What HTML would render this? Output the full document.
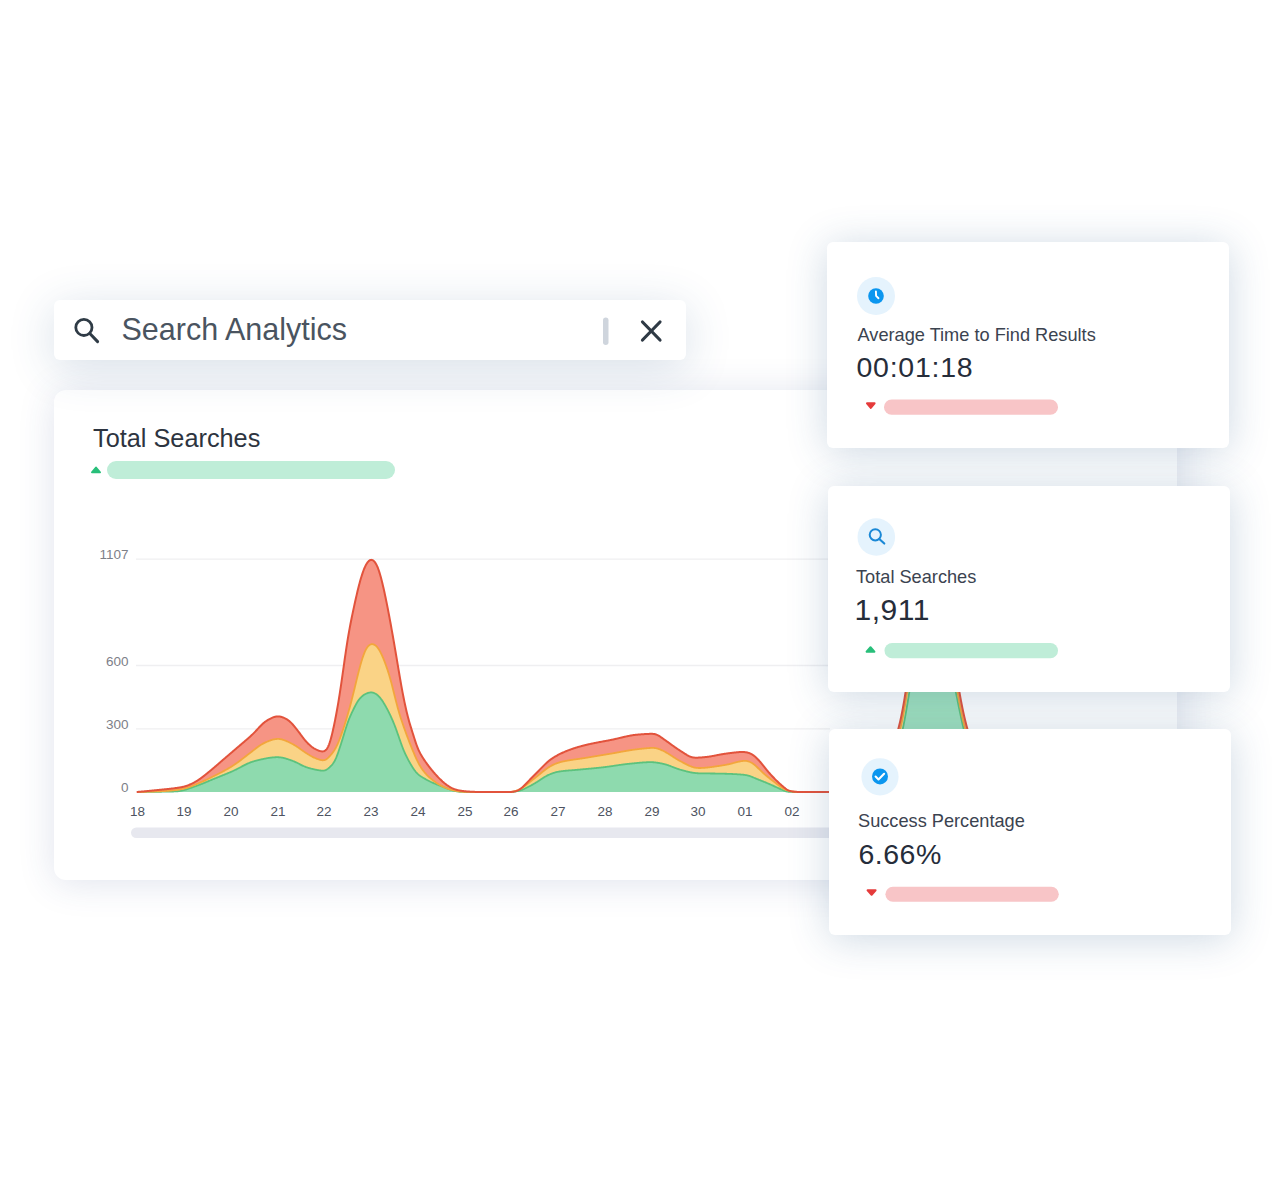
<!DOCTYPE html>
<html><head><meta charset="utf-8">
<style>
html,body{margin:0;padding:0;}
body{width:1280px;height:1180px;background:#ffffff;position:relative;overflow:hidden;font-family:"Liberation Sans",sans-serif;}
.abs{position:absolute;}
.txt{position:absolute;white-space:nowrap;line-height:1;}
.search{left:54px;top:300px;width:632px;height:60px;border-radius:6px;background:#fff;box-shadow:0 8px 46px rgba(40,85,135,0.19);z-index:3;}
.card{left:54px;top:390px;width:1123px;height:490px;border-radius:12px;background:#fff;box-shadow:0 3px 36px rgba(50,70,135,0.15);z-index:1;}
.chart{position:absolute;left:0;top:0;z-index:2;}
.stat{width:402px;height:206px;border-radius:6px;background:#fff;box-shadow:0 4px 40px rgba(40,85,135,0.23);z-index:5;}
.ylab{position:absolute;white-space:nowrap;line-height:1;font-size:13.5px;color:#7d8088;text-align:right;width:60px;}
.xlab{position:absolute;white-space:nowrap;line-height:1;font-size:13.5px;color:#4d5361;text-align:center;width:40px;}
</style></head>
<body>
<div class="abs card"></div>
<div class="abs search">
  <svg class="abs" style="left:0;top:0" width="632" height="60" viewBox="54 300 632 60">
    <circle cx="83.9" cy="327.4" r="8.1" fill="none" stroke="#2f3b46" stroke-width="2.8"/>
    <line x1="89.8" y1="333.5" x2="97.6" y2="341.6" stroke="#2f3b46" stroke-width="3" stroke-linecap="round"/>
    <rect x="603" y="317.5" width="5.5" height="27.5" rx="2.75" fill="#cfd5dd"/>
    <line x1="642.5" y1="322" x2="660" y2="340" stroke="#2f3a45" stroke-width="3.2" stroke-linecap="round"/>
    <line x1="660" y1="322" x2="642.5" y2="340" stroke="#2f3a45" stroke-width="3.2" stroke-linecap="round"/>
  </svg>
  <div class="txt" style="left:67.5px;top:14.4px;font-size:30.5px;color:#4a5460;">Search Analytics</div>
</div>

<svg class="chart" width="1280" height="1180" viewBox="0 0 1280 1180">
<g stroke="#efeff1" stroke-width="1.3">
<line x1="136" y1="559.2" x2="830" y2="559.2"/>
<line x1="136" y1="665.5" x2="830" y2="665.5"/>
<line x1="136" y1="728.8" x2="830" y2="728.8"/>
</g>
<defs><clipPath id="cl"><rect x="0" y="0" width="850" height="1180"/></clipPath><clipPath id="cr"><rect x="850" y="0" width="430" height="1180"/></clipPath>
<path id="ar" d="M137.5,792 L137.5,791.90 L138.0,791.88 L138.5,791.85 L139.0,791.81 L139.5,791.78 L140.0,791.74 L140.5,791.70 L141.0,791.66 L141.5,791.61 L142.0,791.57 L142.5,791.52 L143.0,791.48 L143.5,791.43 L144.0,791.38 L144.5,791.34 L145.0,791.29 L145.5,791.24 L146.0,791.19 L146.5,791.15 L147.0,791.10 L147.5,791.05 L148.0,791.01 L148.5,790.96 L149.0,790.91 L149.5,790.86 L150.0,790.81 L150.5,790.76 L151.0,790.72 L151.5,790.67 L152.0,790.62 L152.5,790.57 L153.0,790.52 L153.5,790.47 L154.0,790.42 L154.5,790.37 L155.0,790.31 L155.5,790.26 L156.0,790.21 L156.5,790.16 L157.0,790.11 L157.5,790.05 L158.0,790.00 L158.5,789.95 L159.0,789.90 L159.5,789.85 L160.0,789.79 L160.5,789.74 L161.0,789.69 L161.5,789.64 L162.0,789.59 L162.5,789.54 L163.0,789.49 L163.5,789.44 L164.0,789.39 L164.5,789.34 L165.0,789.29 L165.5,789.24 L166.0,789.19 L166.5,789.14 L167.0,789.09 L167.5,789.04 L168.0,788.99 L168.5,788.93 L169.0,788.88 L169.5,788.83 L170.0,788.78 L170.5,788.72 L171.0,788.66 L171.5,788.61 L172.0,788.55 L172.5,788.49 L173.0,788.43 L173.5,788.37 L174.0,788.31 L174.5,788.24 L175.0,788.18 L175.5,788.11 L176.0,788.04 L176.5,787.97 L177.0,787.90 L177.5,787.83 L178.0,787.75 L178.5,787.67 L179.0,787.59 L179.5,787.51 L180.0,787.42 L180.5,787.34 L181.0,787.24 L181.5,787.15 L182.0,787.05 L182.5,786.95 L183.0,786.84 L183.5,786.72 L184.0,786.60 L184.5,786.47 L185.0,786.34 L185.5,786.19 L186.0,786.04 L186.5,785.88 L187.0,785.71 L187.5,785.53 L188.0,785.34 L188.5,785.15 L189.0,784.94 L189.5,784.73 L190.0,784.51 L190.5,784.28 L191.0,784.05 L191.5,783.81 L192.0,783.57 L192.5,783.32 L193.0,783.06 L193.5,782.80 L194.0,782.53 L194.5,782.26 L195.0,781.99 L195.5,781.70 L196.0,781.42 L196.5,781.12 L197.0,780.82 L197.5,780.51 L198.0,780.20 L198.5,779.87 L199.0,779.54 L199.5,779.20 L200.0,778.85 L200.5,778.50 L201.0,778.14 L201.5,777.77 L202.0,777.40 L202.5,777.02 L203.0,776.64 L203.5,776.25 L204.0,775.85 L204.5,775.46 L205.0,775.06 L205.5,774.66 L206.0,774.25 L206.5,773.85 L207.0,773.44 L207.5,773.04 L208.0,772.63 L208.5,772.22 L209.0,771.81 L209.5,771.40 L210.0,770.99 L210.5,770.58 L211.0,770.17 L211.5,769.75 L212.0,769.34 L212.5,768.92 L213.0,768.50 L213.5,768.08 L214.0,767.66 L214.5,767.23 L215.0,766.81 L215.5,766.38 L216.0,765.95 L216.5,765.52 L217.0,765.09 L217.5,764.65 L218.0,764.22 L218.5,763.78 L219.0,763.35 L219.5,762.91 L220.0,762.48 L220.5,762.04 L221.0,761.61 L221.5,761.17 L222.0,760.74 L222.5,760.31 L223.0,759.87 L223.5,759.44 L224.0,759.01 L224.5,758.58 L225.0,758.15 L225.5,757.72 L226.0,757.29 L226.5,756.86 L227.0,756.43 L227.5,756.00 L228.0,755.58 L228.5,755.15 L229.0,754.72 L229.5,754.29 L230.0,753.86 L230.5,753.44 L231.0,753.01 L231.5,752.58 L232.0,752.15 L232.5,751.72 L233.0,751.29 L233.5,750.86 L234.0,750.44 L234.5,750.01 L235.0,749.58 L235.5,749.15 L236.0,748.72 L236.5,748.29 L237.0,747.86 L237.5,747.43 L238.0,747.01 L238.5,746.58 L239.0,746.15 L239.5,745.72 L240.0,745.30 L240.5,744.87 L241.0,744.45 L241.5,744.02 L242.0,743.60 L242.5,743.17 L243.0,742.75 L243.5,742.32 L244.0,741.89 L244.5,741.47 L245.0,741.04 L245.5,740.61 L246.0,740.18 L246.5,739.75 L247.0,739.32 L247.5,738.89 L248.0,738.45 L248.5,738.01 L249.0,737.57 L249.5,737.13 L250.0,736.68 L250.5,736.22 L251.0,735.77 L251.5,735.30 L252.0,734.83 L252.5,734.36 L253.0,733.87 L253.5,733.38 L254.0,732.88 L254.5,732.37 L255.0,731.86 L255.5,731.33 L256.0,730.80 L256.5,730.26 L257.0,729.72 L257.5,729.18 L258.0,728.64 L258.5,728.09 L259.0,727.55 L259.5,727.01 L260.0,726.49 L260.5,725.96 L261.0,725.45 L261.5,724.96 L262.0,724.47 L262.5,724.00 L263.0,723.55 L263.5,723.12 L264.0,722.70 L264.5,722.30 L265.0,721.91 L265.5,721.55 L266.0,721.20 L266.5,720.86 L267.0,720.53 L267.5,720.22 L268.0,719.92 L268.5,719.63 L269.0,719.34 L269.5,719.07 L270.0,718.80 L270.5,718.55 L271.0,718.30 L271.5,718.07 L272.0,717.84 L272.5,717.63 L273.0,717.43 L273.5,717.25 L274.0,717.08 L274.5,716.93 L275.0,716.80 L275.5,716.68 L276.0,716.58 L276.5,716.51 L277.0,716.46 L277.5,716.42 L278.0,716.41 L278.5,716.42 L279.0,716.46 L279.5,716.51 L280.0,716.59 L280.5,716.68 L281.0,716.80 L281.5,716.93 L282.0,717.09 L282.5,717.26 L283.0,717.44 L283.5,717.64 L284.0,717.85 L284.5,718.08 L285.0,718.32 L285.5,718.58 L286.0,718.85 L286.5,719.14 L287.0,719.44 L287.5,719.76 L288.0,720.10 L288.5,720.47 L289.0,720.85 L289.5,721.26 L290.0,721.70 L290.5,722.16 L291.0,722.64 L291.5,723.14 L292.0,723.67 L292.5,724.22 L293.0,724.78 L293.5,725.36 L294.0,725.95 L294.5,726.55 L295.0,727.17 L295.5,727.79 L296.0,728.41 L296.5,729.05 L297.0,729.69 L297.5,730.33 L298.0,730.99 L298.5,731.64 L299.0,732.31 L299.5,732.97 L300.0,733.64 L300.5,734.32 L301.0,734.99 L301.5,735.66 L302.0,736.33 L302.5,736.99 L303.0,737.65 L303.5,738.29 L304.0,738.93 L304.5,739.54 L305.0,740.15 L305.5,740.73 L306.0,741.30 L306.5,741.86 L307.0,742.40 L307.5,742.92 L308.0,743.43 L308.5,743.92 L309.0,744.40 L309.5,744.86 L310.0,745.31 L310.5,745.74 L311.0,746.16 L311.5,746.57 L312.0,746.96 L312.5,747.33 L313.0,747.68 L313.5,748.02 L314.0,748.34 L314.5,748.64 L315.0,748.93 L315.5,749.20 L316.0,749.46 L316.5,749.70 L317.0,749.92 L317.5,750.14 L318.0,750.34 L318.5,750.52 L319.0,750.70 L319.5,750.86 L320.0,751.01 L320.5,751.14 L321.0,751.24 L321.5,751.33 L322.0,751.38 L322.5,751.40 L323.0,751.37 L323.5,751.30 L324.0,751.17 L324.5,750.96 L325.0,750.69 L325.5,750.32 L326.0,749.86 L326.5,749.30 L327.0,748.61 L327.5,747.80 L328.0,746.86 L328.5,745.78 L329.0,744.56 L329.5,743.19 L330.0,741.69 L330.5,740.04 L331.0,738.27 L331.5,736.38 L332.0,734.38 L332.5,732.28 L333.0,730.09 L333.5,727.82 L334.0,725.48 L334.5,723.07 L335.0,720.60 L335.5,718.06 L336.0,715.45 L336.5,712.77 L337.0,710.02 L337.5,707.20 L338.0,704.31 L338.5,701.33 L339.0,698.28 L339.5,695.15 L340.0,691.94 L340.5,688.66 L341.0,685.31 L341.5,681.90 L342.0,678.44 L342.5,674.93 L343.0,671.39 L343.5,667.83 L344.0,664.27 L344.5,660.73 L345.0,657.23 L345.5,653.77 L346.0,650.38 L346.5,647.06 L347.0,643.84 L347.5,640.70 L348.0,637.66 L348.5,634.72 L349.0,631.87 L349.5,629.10 L350.0,626.42 L350.5,623.80 L351.0,621.25 L351.5,618.75 L352.0,616.30 L352.5,613.89 L353.0,611.51 L353.5,609.16 L354.0,606.84 L354.5,604.54 L355.0,602.26 L355.5,600.02 L356.0,597.79 L356.5,595.61 L357.0,593.46 L357.5,591.35 L358.0,589.29 L358.5,587.28 L359.0,585.32 L359.5,583.42 L360.0,581.58 L360.5,579.80 L361.0,578.08 L361.5,576.42 L362.0,574.84 L362.5,573.32 L363.0,571.88 L363.5,570.51 L364.0,569.21 L364.5,568.00 L365.0,566.87 L365.5,565.83 L366.0,564.86 L366.5,563.99 L367.0,563.19 L367.5,562.49 L368.0,561.86 L368.5,561.32 L369.0,560.86 L369.5,560.49 L370.0,560.20 L370.5,560.00 L371.0,559.89 L371.5,559.87 L372.0,559.95 L372.5,560.12 L373.0,560.38 L373.5,560.73 L374.0,561.18 L374.5,561.72 L375.0,562.36 L375.5,563.08 L376.0,563.91 L376.5,564.84 L377.0,565.86 L377.5,566.99 L378.0,568.23 L378.5,569.58 L379.0,571.03 L379.5,572.58 L380.0,574.24 L380.5,575.99 L381.0,577.82 L381.5,579.74 L382.0,581.74 L382.5,583.79 L383.0,585.91 L383.5,588.09 L384.0,590.32 L384.5,592.59 L385.0,594.92 L385.5,597.29 L386.0,599.70 L386.5,602.15 L387.0,604.64 L387.5,607.18 L388.0,609.74 L388.5,612.34 L389.0,614.98 L389.5,617.64 L390.0,620.33 L390.5,623.05 L391.0,625.80 L391.5,628.57 L392.0,631.36 L392.5,634.18 L393.0,637.02 L393.5,639.89 L394.0,642.77 L394.5,645.67 L395.0,648.59 L395.5,651.52 L396.0,654.47 L396.5,657.44 L397.0,660.41 L397.5,663.38 L398.0,666.36 L398.5,669.33 L399.0,672.29 L399.5,675.22 L400.0,678.13 L400.5,681.01 L401.0,683.85 L401.5,686.64 L402.0,689.38 L402.5,692.06 L403.0,694.68 L403.5,697.24 L404.0,699.74 L404.5,702.17 L405.0,704.53 L405.5,706.83 L406.0,709.05 L406.5,711.20 L407.0,713.28 L407.5,715.29 L408.0,717.23 L408.5,719.10 L409.0,720.91 L409.5,722.66 L410.0,724.36 L410.5,726.02 L411.0,727.66 L411.5,729.27 L412.0,730.87 L412.5,732.47 L413.0,734.06 L413.5,735.65 L414.0,737.23 L414.5,738.80 L415.0,740.34 L415.5,741.86 L416.0,743.33 L416.5,744.74 L417.0,746.10 L417.5,747.40 L418.0,748.63 L418.5,749.79 L419.0,750.89 L419.5,751.93 L420.0,752.92 L420.5,753.86 L421.0,754.76 L421.5,755.62 L422.0,756.45 L422.5,757.26 L423.0,758.05 L423.5,758.82 L424.0,759.58 L424.5,760.32 L425.0,761.05 L425.5,761.77 L426.0,762.48 L426.5,763.18 L427.0,763.87 L427.5,764.55 L428.0,765.22 L428.5,765.88 L429.0,766.53 L429.5,767.17 L430.0,767.81 L430.5,768.44 L431.0,769.06 L431.5,769.68 L432.0,770.29 L432.5,770.89 L433.0,771.49 L433.5,772.08 L434.0,772.66 L434.5,773.24 L435.0,773.81 L435.5,774.37 L436.0,774.93 L436.5,775.47 L437.0,776.02 L437.5,776.55 L438.0,777.07 L438.5,777.59 L439.0,778.10 L439.5,778.60 L440.0,779.10 L440.5,779.58 L441.0,780.06 L441.5,780.53 L442.0,780.99 L442.5,781.45 L443.0,781.89 L443.5,782.32 L444.0,782.75 L444.5,783.16 L445.0,783.57 L445.5,783.96 L446.0,784.35 L446.5,784.73 L447.0,785.09 L447.5,785.45 L448.0,785.79 L448.5,786.13 L449.0,786.45 L449.5,786.76 L450.0,787.06 L450.5,787.35 L451.0,787.63 L451.5,787.89 L452.0,788.13 L452.5,788.37 L453.0,788.59 L453.5,788.79 L454.0,788.99 L454.5,789.17 L455.0,789.34 L455.5,789.50 L456.0,789.66 L456.5,789.80 L457.0,789.93 L457.5,790.06 L458.0,790.17 L458.5,790.29 L459.0,790.39 L459.5,790.49 L460.0,790.58 L460.5,790.67 L461.0,790.75 L461.5,790.83 L462.0,790.90 L462.5,790.97 L463.0,791.04 L463.5,791.10 L464.0,791.16 L464.5,791.21 L465.0,791.26 L465.5,791.31 L466.0,791.36 L466.5,791.40 L467.0,791.44 L467.5,791.48 L468.0,791.52 L468.5,791.55 L469.0,791.58 L469.5,791.61 L470.0,791.64 L470.5,791.67 L471.0,791.70 L471.5,791.73 L472.0,791.75 L472.5,791.78 L473.0,791.80 L473.5,791.82 L474.0,791.84 L474.5,791.86 L475.0,791.88 L475.5,791.90 L476.0,791.91 L476.5,791.93 L477.0,791.94 L477.5,791.95 L478.0,791.96 L478.5,791.97 L479.0,791.98 L479.5,791.98 L480.0,791.99 L480.5,791.99 L481.0,791.99 L481.5,792.00 L482.0,792.00 L482.5,792.00 L483.0,792.00 L483.5,792.00 L484.0,792.00 L484.5,792.00 L485.0,792.00 L485.5,792.00 L486.0,792.00 L486.5,792.00 L487.0,792.00 L487.5,792.00 L488.0,792.00 L488.5,792.00 L489.0,792.00 L489.5,792.00 L490.0,792.00 L490.5,792.00 L491.0,792.00 L491.5,792.00 L492.0,792.00 L492.5,792.00 L493.0,792.00 L493.5,792.00 L494.0,792.00 L494.5,792.00 L495.0,792.00 L495.5,792.00 L496.0,792.00 L496.5,792.00 L497.0,792.00 L497.5,792.00 L498.0,792.00 L498.5,792.00 L499.0,792.00 L499.5,792.00 L500.0,792.00 L500.5,792.00 L501.0,792.00 L501.5,792.00 L502.0,792.00 L502.5,792.00 L503.0,792.00 L503.5,792.00 L504.0,792.00 L504.5,792.00 L505.0,792.00 L505.5,792.00 L506.0,792.00 L506.5,792.00 L507.0,792.00 L507.5,791.99 L508.0,791.99 L508.5,791.99 L509.0,791.98 L509.5,791.97 L510.0,791.95 L510.5,791.93 L511.0,791.91 L511.5,791.88 L512.0,791.84 L512.5,791.79 L513.0,791.74 L513.5,791.67 L514.0,791.59 L514.5,791.49 L515.0,791.38 L515.5,791.25 L516.0,791.10 L516.5,790.94 L517.0,790.75 L517.5,790.54 L518.0,790.30 L518.5,790.04 L519.0,789.76 L519.5,789.46 L520.0,789.13 L520.5,788.78 L521.0,788.41 L521.5,788.02 L522.0,787.61 L522.5,787.18 L523.0,786.74 L523.5,786.28 L524.0,785.80 L524.5,785.32 L525.0,784.82 L525.5,784.31 L526.0,783.80 L526.5,783.27 L527.0,782.75 L527.5,782.21 L528.0,781.68 L528.5,781.14 L529.0,780.61 L529.5,780.07 L530.0,779.54 L530.5,779.01 L531.0,778.49 L531.5,777.96 L532.0,777.45 L532.5,776.94 L533.0,776.43 L533.5,775.93 L534.0,775.43 L534.5,774.93 L535.0,774.43 L535.5,773.94 L536.0,773.44 L536.5,772.95 L537.0,772.45 L537.5,771.95 L538.0,771.45 L538.5,770.94 L539.0,770.43 L539.5,769.92 L540.0,769.41 L540.5,768.90 L541.0,768.39 L541.5,767.88 L542.0,767.37 L542.5,766.86 L543.0,766.35 L543.5,765.85 L544.0,765.35 L544.5,764.86 L545.0,764.37 L545.5,763.89 L546.0,763.42 L546.5,762.96 L547.0,762.51 L547.5,762.06 L548.0,761.63 L548.5,761.21 L549.0,760.80 L549.5,760.40 L550.0,760.01 L550.5,759.63 L551.0,759.26 L551.5,758.91 L552.0,758.56 L552.5,758.23 L553.0,757.90 L553.5,757.58 L554.0,757.27 L554.5,756.96 L555.0,756.66 L555.5,756.37 L556.0,756.08 L556.5,755.80 L557.0,755.52 L557.5,755.25 L558.0,754.98 L558.5,754.72 L559.0,754.46 L559.5,754.21 L560.0,753.95 L560.5,753.71 L561.0,753.47 L561.5,753.23 L562.0,752.99 L562.5,752.76 L563.0,752.53 L563.5,752.31 L564.0,752.09 L564.5,751.87 L565.0,751.66 L565.5,751.45 L566.0,751.24 L566.5,751.04 L567.0,750.84 L567.5,750.64 L568.0,750.44 L568.5,750.25 L569.0,750.06 L569.5,749.87 L570.0,749.69 L570.5,749.51 L571.0,749.33 L571.5,749.15 L572.0,748.98 L572.5,748.81 L573.0,748.64 L573.5,748.47 L574.0,748.30 L574.5,748.14 L575.0,747.98 L575.5,747.82 L576.0,747.66 L576.5,747.51 L577.0,747.36 L577.5,747.21 L578.0,747.06 L578.5,746.91 L579.0,746.77 L579.5,746.63 L580.0,746.48 L580.5,746.35 L581.0,746.21 L581.5,746.07 L582.0,745.94 L582.5,745.80 L583.0,745.67 L583.5,745.54 L584.0,745.42 L584.5,745.29 L585.0,745.16 L585.5,745.04 L586.0,744.92 L586.5,744.80 L587.0,744.68 L587.5,744.56 L588.0,744.45 L588.5,744.33 L589.0,744.22 L589.5,744.11 L590.0,744.00 L590.5,743.89 L591.0,743.78 L591.5,743.67 L592.0,743.57 L592.5,743.46 L593.0,743.36 L593.5,743.26 L594.0,743.16 L594.5,743.06 L595.0,742.96 L595.5,742.86 L596.0,742.76 L596.5,742.67 L597.0,742.57 L597.5,742.47 L598.0,742.38 L598.5,742.28 L599.0,742.19 L599.5,742.10 L600.0,742.00 L600.5,741.91 L601.0,741.82 L601.5,741.72 L602.0,741.63 L602.5,741.54 L603.0,741.45 L603.5,741.35 L604.0,741.26 L604.5,741.17 L605.0,741.07 L605.5,740.98 L606.0,740.89 L606.5,740.79 L607.0,740.70 L607.5,740.61 L608.0,740.51 L608.5,740.41 L609.0,740.32 L609.5,740.22 L610.0,740.12 L610.5,740.02 L611.0,739.92 L611.5,739.82 L612.0,739.72 L612.5,739.62 L613.0,739.51 L613.5,739.40 L614.0,739.29 L614.5,739.18 L615.0,739.07 L615.5,738.96 L616.0,738.85 L616.5,738.73 L617.0,738.62 L617.5,738.50 L618.0,738.38 L618.5,738.26 L619.0,738.14 L619.5,738.02 L620.0,737.90 L620.5,737.78 L621.0,737.67 L621.5,737.55 L622.0,737.43 L622.5,737.31 L623.0,737.19 L623.5,737.07 L624.0,736.96 L624.5,736.84 L625.0,736.73 L625.5,736.61 L626.0,736.50 L626.5,736.39 L627.0,736.28 L627.5,736.18 L628.0,736.07 L628.5,735.97 L629.0,735.87 L629.5,735.77 L630.0,735.68 L630.5,735.59 L631.0,735.50 L631.5,735.41 L632.0,735.33 L632.5,735.25 L633.0,735.17 L633.5,735.10 L634.0,735.03 L634.5,734.96 L635.0,734.90 L635.5,734.84 L636.0,734.78 L636.5,734.73 L637.0,734.68 L637.5,734.63 L638.0,734.59 L638.5,734.54 L639.0,734.50 L639.5,734.46 L640.0,734.42 L640.5,734.38 L641.0,734.35 L641.5,734.31 L642.0,734.28 L642.5,734.24 L643.0,734.21 L643.5,734.18 L644.0,734.15 L644.5,734.12 L645.0,734.09 L645.5,734.06 L646.0,734.03 L646.5,734.00 L647.0,733.98 L647.5,733.96 L648.0,733.93 L648.5,733.91 L649.0,733.89 L649.5,733.87 L650.0,733.86 L650.5,733.85 L651.0,733.84 L651.5,733.84 L652.0,733.85 L652.5,733.86 L653.0,733.89 L653.5,733.93 L654.0,733.99 L654.5,734.07 L655.0,734.17 L655.5,734.29 L656.0,734.44 L656.5,734.62 L657.0,734.82 L657.5,735.05 L658.0,735.30 L658.5,735.58 L659.0,735.88 L659.5,736.19 L660.0,736.52 L660.5,736.86 L661.0,737.21 L661.5,737.56 L662.0,737.91 L662.5,738.27 L663.0,738.62 L663.5,738.98 L664.0,739.33 L664.5,739.69 L665.0,740.04 L665.5,740.39 L666.0,740.75 L666.5,741.10 L667.0,741.46 L667.5,741.81 L668.0,742.17 L668.5,742.53 L669.0,742.90 L669.5,743.26 L670.0,743.62 L670.5,743.99 L671.0,744.36 L671.5,744.72 L672.0,745.09 L672.5,745.45 L673.0,745.81 L673.5,746.17 L674.0,746.53 L674.5,746.89 L675.0,747.24 L675.5,747.59 L676.0,747.94 L676.5,748.28 L677.0,748.62 L677.5,748.96 L678.0,749.29 L678.5,749.62 L679.0,749.94 L679.5,750.26 L680.0,750.59 L680.5,750.91 L681.0,751.23 L681.5,751.55 L682.0,751.87 L682.5,752.19 L683.0,752.51 L683.5,752.83 L684.0,753.15 L684.5,753.47 L685.0,753.79 L685.5,754.10 L686.0,754.41 L686.5,754.71 L687.0,755.01 L687.5,755.29 L688.0,755.56 L688.5,755.83 L689.0,756.07 L689.5,756.30 L690.0,756.52 L690.5,756.72 L691.0,756.89 L691.5,757.05 L692.0,757.19 L692.5,757.31 L693.0,757.41 L693.5,757.49 L694.0,757.56 L694.5,757.61 L695.0,757.64 L695.5,757.67 L696.0,757.68 L696.5,757.68 L697.0,757.68 L697.5,757.66 L698.0,757.64 L698.5,757.62 L699.0,757.59 L699.5,757.56 L700.0,757.53 L700.5,757.50 L701.0,757.46 L701.5,757.42 L702.0,757.38 L702.5,757.34 L703.0,757.29 L703.5,757.25 L704.0,757.20 L704.5,757.16 L705.0,757.11 L705.5,757.05 L706.0,757.00 L706.5,756.95 L707.0,756.89 L707.5,756.83 L708.0,756.76 L708.5,756.70 L709.0,756.63 L709.5,756.55 L710.0,756.48 L710.5,756.40 L711.0,756.32 L711.5,756.23 L712.0,756.14 L712.5,756.05 L713.0,755.96 L713.5,755.87 L714.0,755.77 L714.5,755.67 L715.0,755.58 L715.5,755.48 L716.0,755.38 L716.5,755.28 L717.0,755.18 L717.5,755.08 L718.0,754.98 L718.5,754.88 L719.0,754.78 L719.5,754.69 L720.0,754.60 L720.5,754.50 L721.0,754.41 L721.5,754.32 L722.0,754.24 L722.5,754.16 L723.0,754.07 L723.5,754.00 L724.0,753.92 L724.5,753.84 L725.0,753.77 L725.5,753.70 L726.0,753.63 L726.5,753.56 L727.0,753.49 L727.5,753.42 L728.0,753.36 L728.5,753.29 L729.0,753.22 L729.5,753.16 L730.0,753.09 L730.5,753.03 L731.0,752.96 L731.5,752.90 L732.0,752.84 L732.5,752.77 L733.0,752.71 L733.5,752.65 L734.0,752.59 L734.5,752.54 L735.0,752.48 L735.5,752.43 L736.0,752.38 L736.5,752.33 L737.0,752.28 L737.5,752.24 L738.0,752.20 L738.5,752.16 L739.0,752.12 L739.5,752.09 L740.0,752.07 L740.5,752.04 L741.0,752.02 L741.5,752.01 L742.0,752.01 L742.5,752.01 L743.0,752.01 L743.5,752.03 L744.0,752.06 L744.5,752.10 L745.0,752.14 L745.5,752.20 L746.0,752.28 L746.5,752.36 L747.0,752.46 L747.5,752.58 L748.0,752.71 L748.5,752.85 L749.0,753.02 L749.5,753.20 L750.0,753.40 L750.5,753.62 L751.0,753.87 L751.5,754.13 L752.0,754.42 L752.5,754.73 L753.0,755.06 L753.5,755.42 L754.0,755.79 L754.5,756.18 L755.0,756.60 L755.5,757.03 L756.0,757.47 L756.5,757.94 L757.0,758.42 L757.5,758.92 L758.0,759.44 L758.5,759.97 L759.0,760.52 L759.5,761.08 L760.0,761.66 L760.5,762.25 L761.0,762.85 L761.5,763.46 L762.0,764.08 L762.5,764.70 L763.0,765.33 L763.5,765.97 L764.0,766.60 L764.5,767.23 L765.0,767.86 L765.5,768.49 L766.0,769.11 L766.5,769.72 L767.0,770.33 L767.5,770.92 L768.0,771.51 L768.5,772.09 L769.0,772.67 L769.5,773.24 L770.0,773.79 L770.5,774.35 L771.0,774.89 L771.5,775.44 L772.0,775.97 L772.5,776.51 L773.0,777.03 L773.5,777.56 L774.0,778.07 L774.5,778.59 L775.0,779.10 L775.5,779.60 L776.0,780.10 L776.5,780.59 L777.0,781.07 L777.5,781.55 L778.0,782.03 L778.5,782.50 L779.0,782.96 L779.5,783.42 L780.0,783.87 L780.5,784.32 L781.0,784.77 L781.5,785.21 L782.0,785.65 L782.5,786.09 L783.0,786.52 L783.5,786.94 L784.0,787.36 L784.5,787.76 L785.0,788.15 L785.5,788.53 L786.0,788.89 L786.5,789.23 L787.0,789.55 L787.5,789.84 L788.0,790.11 L788.5,790.35 L789.0,790.56 L789.5,790.75 L790.0,790.92 L790.5,791.07 L791.0,791.19 L791.5,791.30 L792.0,791.39 L792.5,791.47 L793.0,791.54 L793.5,791.60 L794.0,791.66 L794.5,791.71 L795.0,791.75 L795.5,791.79 L796.0,791.82 L796.5,791.85 L797.0,791.88 L797.5,791.90 L798.0,791.92 L798.5,791.94 L799.0,791.95 L799.5,791.96 L800.0,791.97 L800.5,791.98 L801.0,791.99 L801.5,791.99 L802.0,791.99 L802.5,792.00 L803.0,792.00 L803.5,792.00 L804.0,792.00 L804.5,792.00 L805.0,792.00 L805.5,792.00 L806.0,792.00 L806.5,792.00 L807.0,792.00 L807.5,792.00 L808.0,792.00 L808.5,792.00 L809.0,792.00 L809.5,792.00 L810.0,792.00 L810.5,792.00 L811.0,792.00 L811.5,792.00 L812.0,792.00 L812.5,792.00 L813.0,792.00 L813.5,792.00 L814.0,792.00 L814.5,792.00 L815.0,792.00 L815.5,792.00 L816.0,792.00 L816.5,792.00 L817.0,792.00 L817.5,792.00 L818.0,792.00 L818.5,792.00 L819.0,792.00 L819.5,792.00 L820.0,792.00 L820.5,792.00 L821.0,792.00 L821.5,792.00 L822.0,792.00 L822.5,792.00 L823.0,792.00 L823.5,792.00 L824.0,792.00 L824.5,792.00 L825.0,792.00 L825.5,792.00 L826.0,792.00 L826.5,792.00 L827.0,792.00 L827.5,792.00 L828.0,792.00 L828.5,792.00 L829.0,792.00 L829.5,792.00 L830.0,792.00 L830.5,792.00 L831.0,792.00 L831.5,792.00 L832.0,792.00 L832.5,792.00 L833.0,792.00 L833.5,792.00 L834.0,792.00 L834.5,792.00 L835.0,792.00 L835.5,792.00 L836.0,792.00 L836.5,792.00 L837.0,792.00 L837.5,792.00 L838.0,792.00 L838.5,792.00 L839.0,792.00 L839.5,792.00 L840.0,792.00 L840.5,792.00 L841.0,792.00 L841.5,792.00 L842.0,792.00 L842.5,792.00 L843.0,792.00 L843.5,792.00 L844.0,792.00 L844.5,792.00 L845.0,792.00 L845.5,792.00 L846.0,792.00 L846.5,792.00 L847.0,791.99 L847.5,791.99 L848.0,791.99 L848.5,791.98 L849.0,791.97 L849.5,791.96 L850.0,791.94 L850.5,791.92 L851.0,791.89 L851.5,791.86 L852.0,791.82 L852.5,791.78 L853.0,791.73 L853.5,791.67 L854.0,791.60 L854.5,791.53 L855.0,791.45 L855.5,791.36 L856.0,791.26 L856.5,791.16 L857.0,791.04 L857.5,790.92 L858.0,790.80 L858.5,790.66 L859.0,790.52 L859.5,790.37 L860.0,790.22 L860.5,790.06 L861.0,789.89 L861.5,789.72 L862.0,789.54 L862.5,789.35 L863.0,789.16 L863.5,788.96 L864.0,788.76 L864.5,788.55 L865.0,788.34 L865.5,788.11 L866.0,787.89 L866.5,787.65 L867.0,787.40 L867.5,787.15 L868.0,786.88 L868.5,786.59 L869.0,786.29 L869.5,785.97 L870.0,785.62 L870.5,785.24 L871.0,784.84 L871.5,784.40 L872.0,783.93 L872.5,783.42 L873.0,782.87 L873.5,782.28 L874.0,781.66 L874.5,781.00 L875.0,780.30 L875.5,779.57 L876.0,778.81 L876.5,778.02 L877.0,777.19 L877.5,776.35 L878.0,775.48 L878.5,774.58 L879.0,773.67 L879.5,772.74 L880.0,771.80 L880.5,770.85 L881.0,769.89 L881.5,768.91 L882.0,767.94 L882.5,766.96 L883.0,765.97 L883.5,764.98 L884.0,763.99 L884.5,763.00 L885.0,762.01 L885.5,761.02 L886.0,760.02 L886.5,759.02 L887.0,758.01 L887.5,756.99 L888.0,755.97 L888.5,754.93 L889.0,753.88 L889.5,752.81 L890.0,751.73 L890.5,750.63 L891.0,749.50 L891.5,748.35 L892.0,747.18 L892.5,745.98 L893.0,744.75 L893.5,743.48 L894.0,742.18 L894.5,740.84 L895.0,739.46 L895.5,738.03 L896.0,736.55 L896.5,735.01 L897.0,733.42 L897.5,731.75 L898.0,730.01 L898.5,728.19 L899.0,726.29 L899.5,724.29 L900.0,722.20 L900.5,720.00 L901.0,717.71 L901.5,715.31 L902.0,712.81 L902.5,710.22 L903.0,707.52 L903.5,704.72 L904.0,701.82 L904.5,698.83 L905.0,695.73 L905.5,692.54 L906.0,689.26 L906.5,685.88 L907.0,682.42 L907.5,678.87 L908.0,675.25 L908.5,671.56 L909.0,667.83 L909.5,664.06 L910.0,660.27 L910.5,656.48 L911.0,652.71 L911.5,648.97 L912.0,645.27 L912.5,641.63 L913.0,638.05 L913.5,634.54 L914.0,631.09 L914.5,627.72 L915.0,624.42 L915.5,621.19 L916.0,618.02 L916.5,614.92 L917.0,611.89 L917.5,608.93 L918.0,606.05 L918.5,603.24 L919.0,600.53 L919.5,597.91 L920.0,595.39 L920.5,592.98 L921.0,590.69 L921.5,588.51 L922.0,586.45 L922.5,584.52 L923.0,582.71 L923.5,581.01 L924.0,579.42 L924.5,577.94 L925.0,576.56 L925.5,575.27 L926.0,574.07 L926.5,572.96 L927.0,571.92 L927.5,570.98 L928.0,570.11 L928.5,569.33 L929.0,568.65 L929.5,568.06 L930.0,567.56 L930.5,567.18 L931.0,566.90 L931.5,566.73 L932.0,566.67 L932.5,566.73 L933.0,566.90 L933.5,567.18 L934.0,567.57 L934.5,568.06 L935.0,568.65 L935.5,569.34 L936.0,570.11 L936.5,570.98 L937.0,571.93 L937.5,572.97 L938.0,574.09 L938.5,575.29 L939.0,576.59 L939.5,577.99 L940.0,579.48 L940.5,581.09 L941.0,582.81 L941.5,584.65 L942.0,586.61 L942.5,588.69 L943.0,590.89 L943.5,593.22 L944.0,595.65 L944.5,598.19 L945.0,600.82 L945.5,603.54 L946.0,606.33 L946.5,609.19 L947.0,612.11 L947.5,615.08 L948.0,618.09 L948.5,621.14 L949.0,624.24 L949.5,627.37 L950.0,630.54 L950.5,633.75 L951.0,637.00 L951.5,640.29 L952.0,643.62 L952.5,646.98 L953.0,650.37 L953.5,653.78 L954.0,657.20 L954.5,660.62 L955.0,664.03 L955.5,667.42 L956.0,670.78 L956.5,674.09 L957.0,677.34 L957.5,680.54 L958.0,683.67 L958.5,686.72 L959.0,689.70 L959.5,692.60 L960.0,695.43 L960.5,698.18 L961.0,700.86 L961.5,703.47 L962.0,706.00 L962.5,708.46 L963.0,710.86 L963.5,713.18 L964.0,715.43 L964.5,717.62 L965.0,719.73 L965.5,721.77 L966.0,723.74 L966.5,725.65 L967.0,727.49 L967.5,729.28 L968.0,731.00 L968.5,732.67 L969.0,734.29 L969.5,735.87 L970.0,737.40 L970.5,738.89 L971.0,740.34 L971.5,741.76 L972.0,743.14 L972.5,744.50 L973.0,745.82 L973.5,747.11 L974.0,748.38 L974.5,749.62 L975.0,750.84 L975.5,752.03 L976.0,753.20 L976.5,754.35 L977.0,755.47 L977.5,756.58 L978.0,757.68 L978.5,758.75 L979.0,759.82 L979.5,760.87 L980.0,761.91 L980.5,762.94 L981.0,763.97 L981.5,764.99 L982.0,766.00 L982.5,767.00 L983.0,768.00 L983.5,768.99 L984.0,769.97 L984.5,770.93 L985.0,771.89 L985.5,772.84 L986.0,773.76 L986.5,774.67 L987.0,775.56 L987.5,776.43 L988.0,777.27 L988.5,778.09 L989.0,778.88 L989.5,779.64 L990.0,780.36 L990.5,781.05 L991.0,781.70 L991.5,782.32 L992.0,782.90 L992.5,783.44 L993.0,783.95 L993.5,784.42 L994.0,784.85 L994.5,785.25 L995.0,785.63 L995.5,785.97 L996.0,786.30 L996.5,786.60 L997.0,786.88 L997.5,787.15 L998.0,787.40 L998.5,787.65 L999.0,787.89 L999.5,788.12 L1000.0,788.34 L1000.5,788.55 L1001.0,788.76 L1001.5,788.96 L1002.0,789.16 L1002.5,789.35 L1003.0,789.54 L1003.5,789.72 L1004.0,789.89 L1004.5,790.06 L1005.0,790.22 L1005.5,790.37 L1006.0,790.52 L1006.5,790.66 L1007.0,790.80 L1007.5,790.92 L1008.0,791.04 L1008.5,791.16 L1009.0,791.26 L1009.5,791.36 L1010.0,791.45 L1010.5,791.53 L1011.0,791.60 L1011.5,791.67 L1012.0,791.73 L1012.5,791.78 L1013.0,791.82 L1013.5,791.86 L1014.0,791.89 L1014.5,791.92 L1015.0,791.94 L1015.5,791.96 L1016.0,791.97 L1016.5,791.98 L1017.0,791.99 L1017.5,791.99 L1018.0,791.99 L1018.5,792.00 L1019.0,792.00 L1019.5,792.00 L1020.0,792.00 L1020.5,792.00 L1021.0,792.00 L1021.5,792.00 L1022.0,792.00 L1022.5,792.00 L1023.0,792.00 L1023.5,792.00 L1024.0,792.00 L1024.5,792.00 L1025.0,792.00 L1025.5,792.00 L1026.0,792.00 L1026.5,792.00 L1027.0,792.00 L1027.5,792.00 L1028.0,792.00 L1028.5,792.00 L1029.0,792.00 L1029.5,792.00 L1030.0,792.00 L1030.5,792.00 L1031.0,792.00 L1031.5,792.00 L1032.0,792.00 L1032.5,792.00 L1033.0,792.00 L1033.5,792.00 L1034.0,792.00 L1034.5,792.00 L1035.0,792.00 L1035.5,792.00 L1036.0,792.00 L1036.5,792.00 L1037.0,792.00 L1037.5,792.00 L1038.0,792.00 L1038.5,792.00 L1039.0,792.00 L1039.5,792.00 L1040.0,792.00 L1040.5,792.00 L1041.0,792.00 L1041.5,792.00 L1042.0,792.00 L1042.5,792.00 L1043.0,792.00 L1043.5,792.00 L1044.0,792.00 L1044.5,792.00 L1045.0,792.00 L1045.5,792.00 L1046.0,792.00 L1046.5,792.00 L1047.0,792.00 L1047.5,792.00 L1048.0,792.00 L1048.5,792.00 L1049.0,792.00 L1049.5,792.00 L1050.0,792.00 L1050.5,792.00 L1051.0,792.00 L1051.5,792.00 L1052.0,792.00 L1052.5,792.00 L1053.0,792.00 L1053.5,792.00 L1054.0,792.00 L1054.5,792.00 L1055.0,792.00 L1055.5,792.00 L1056.0,792.00 L1056.5,792.00 L1057.0,792.00 L1057.5,792.00 L1058.0,792.00 L1058.5,792.00 L1059.0,792.00 L1059.5,792.00 L1060.0,792.00 L1060.5,792.00 L1061.0,792.00 L1061.5,792.00 L1062.0,792.00 L1062.5,792.00 L1063.0,792.00 L1063.5,792.00 L1064.0,792.00 L1064.5,792.00 L1065.0,792.00 L1065.5,792.00 L1066.0,792.00 L1066.5,792.00 L1067.0,792.00 L1067.5,792.00 L1068.0,792.00 L1068.5,792.00 L1069.0,792.00 L1069.5,792.00 L1070.0,792.00 L1070.5,792.00 L1071.0,792.00 L1071.5,792.00 L1072.0,792.00 L1072.5,792.00 L1073.0,792.00 L1073.5,792.00 L1074.0,792.00 L1074.5,792.00 L1075.0,792.00 L1075.5,792.00 L1076.0,792.00 L1076.5,792.00 L1077.0,792.00 L1077.5,792.00 L1078.0,792.00 L1078.5,792.00 L1079.0,792.00 L1079.5,792.00 L1080.0,792.00 L1080.5,792.00 L1081.0,792.00 L1081.5,792.00 L1082.0,792.00 L1082.5,792.00 L1083.0,792.00 L1083.5,792.00 L1084.0,792.00 L1084.5,792.00 L1085.0,792.00 L1085.5,792.00 L1086.0,792.00 L1086.5,792.00 L1087.0,792.00 L1087.5,792.00 L1088.0,792.00 L1088.5,792.00 L1089.0,792.00 L1089.5,792.00 L1090.0,792.00 L1090.5,792.00 L1091.0,792.00 L1091.5,792.00 L1092.0,792.00 L1092.5,792.00 L1093.0,792.00 L1093.5,792.00 L1094.0,792.00 L1094.5,792.00 L1095.0,792.00 L1095.5,792.00 L1096.0,792.00 L1096.5,792.00 L1097.0,792.00 L1097.5,792.00 L1098.0,792.00 L1098.5,792.00 L1099.0,792.00 L1099.5,792.00 L1100.0,792.00 L1100.5,792.00 L1101.0,792.00 L1101.5,792.00 L1102.0,792.00 L1102.5,792.00 L1103.0,792.00 L1103.5,792.00 L1104.0,792.00 L1104.5,792.00 L1105.0,792.00 L1105.5,792.00 L1106.0,792.00 L1106.5,792.00 L1107.0,792.00 L1107.5,792.00 L1108.0,792.00 L1108.5,792.00 L1109.0,792.00 L1109.5,792.00 L1110.0,792.00 L1110.5,792.00 L1111.0,792.00 L1111.5,792.00 L1112.0,792.00 L1112.5,792.00 L1113.0,792.00 L1113.5,792.00 L1114.0,792.00 L1114.5,792.00 L1115.0,792.00 L1115.5,792.00 L1116.0,792.00 L1116.5,792.00 L1117.0,792.00 L1117.5,792.00 L1118.0,792.00 L1118.5,792.00 L1119.0,792.00 L1119.5,792.00 L1120.0,792.00 L1120.5,792.00 L1121.0,792.00 L1121.5,792.00 L1122.0,792.00 L1122.5,792.00 L1123.0,792.00 L1123.5,792.00 L1124.0,792.00 L1124.5,792.00 L1125.0,792.00 L1125.5,792.00 L1126.0,792.00 L1126.5,792.00 L1127.0,792.00 L1127.5,792.00 L1128.0,792.00 L1128.5,792.00 L1129.0,792.00 L1129.5,792.00 L1130.0,792.00 L1130.5,792.00 L1131.0,792.00 L1131.5,792.00 L1132.0,792.00 L1132.5,792.00 L1133.0,792.00 L1133.5,792.00 L1134.0,792.00 L1134.5,792.00 L1135.0,792.00 L1135.5,792.00 L1136.0,792.00 L1136.5,792.00 L1137.0,792.00 L1137.5,792.00 L1138.0,792.00 L1138.5,792.00 L1139.0,792.00 L1139.5,792.00 L1140.0,792.00 L1140.5,792.00 L1141.0,792.00 L1141.5,792.00 L1142.0,792.00 L1142.5,792.00 L1143.0,792.00 L1143.5,792.00 L1144.0,792.00 L1144.5,792.00 L1145.0,792.00 L1145.5,792.00 L1146.0,792.00 L1146.5,792.00 L1147.0,792.00 L1147.5,792.00 L1148.0,792.00 L1148.5,792.00 L1149.0,792.00 L1149.5,792.00 L1150.0,792.00 L1150.5,792.00 L1151.0,792.00 L1151.5,792.00 L1152.0,792.00 L1152.5,792.00 L1153.0,792.00 L1153.5,792.00 L1154.0,792.00 L1154.5,792.00 L1155.0,792.00 L1155.5,792.00 L1156.0,792.00 L1156.5,792.00 L1157.0,792.00 L1157.5,792.00 L1158.0,792.00 L1158.5,792.00 L1159.0,792.00 L1159.5,792.00 L1160.0,792.00 L1160.5,792.00 L1161.0,792.00 L1161.5,792.00 L1162.0,792.00 L1162.5,792.00 L1163.0,792.00 L1163.5,792.00 L1164.0,792.00 L1164.5,792.00 L1165.0,792.00 L1165.5,792.00 L1166.0,792.00 L1166.5,792.00 L1167.0,792.00 L1167.5,792.00 L1168.0,792.00 L1168.5,792.00 L1169.0,792.00 L1169.5,792.00 L1170.0,792.00 L1170.5,792.00 L1171.0,792.00 L1171.5,792.00 L1172.0,792.00 L1172.5,792.00 L1173.0,792.00 L1173.5,792.00 L1174.0,792.00 L1174.5,792.00 L1175.0,792.00 L1175.5,792.00 L1176.0,792.00 L1176.5,792.00 L1177.0,792.00 L1177.0,792 Z"/>
<path id="ao" d="M137.5,792 L137.5,791.96 L138.0,791.96 L138.5,791.95 L139.0,791.93 L139.5,791.92 L140.0,791.91 L140.5,791.89 L141.0,791.88 L141.5,791.87 L142.0,791.85 L142.5,791.84 L143.0,791.82 L143.5,791.81 L144.0,791.79 L144.5,791.78 L145.0,791.76 L145.5,791.75 L146.0,791.73 L146.5,791.72 L147.0,791.70 L147.5,791.69 L148.0,791.67 L148.5,791.66 L149.0,791.65 L149.5,791.63 L150.0,791.62 L150.5,791.60 L151.0,791.59 L151.5,791.57 L152.0,791.56 L152.5,791.54 L153.0,791.52 L153.5,791.51 L154.0,791.49 L154.5,791.48 L155.0,791.46 L155.5,791.44 L156.0,791.43 L156.5,791.41 L157.0,791.39 L157.5,791.37 L158.0,791.35 L158.5,791.33 L159.0,791.31 L159.5,791.29 L160.0,791.27 L160.5,791.25 L161.0,791.23 L161.5,791.21 L162.0,791.18 L162.5,791.16 L163.0,791.14 L163.5,791.11 L164.0,791.09 L164.5,791.06 L165.0,791.03 L165.5,791.00 L166.0,790.97 L166.5,790.94 L167.0,790.91 L167.5,790.88 L168.0,790.84 L168.5,790.80 L169.0,790.77 L169.5,790.72 L170.0,790.68 L170.5,790.63 L171.0,790.59 L171.5,790.54 L172.0,790.48 L172.5,790.43 L173.0,790.37 L173.5,790.31 L174.0,790.25 L174.5,790.18 L175.0,790.12 L175.5,790.05 L176.0,789.98 L176.5,789.91 L177.0,789.83 L177.5,789.75 L178.0,789.67 L178.5,789.59 L179.0,789.51 L179.5,789.42 L180.0,789.34 L180.5,789.25 L181.0,789.15 L181.5,789.06 L182.0,788.96 L182.5,788.86 L183.0,788.76 L183.5,788.65 L184.0,788.54 L184.5,788.42 L185.0,788.30 L185.5,788.17 L186.0,788.04 L186.5,787.90 L187.0,787.75 L187.5,787.60 L188.0,787.44 L188.5,787.28 L189.0,787.11 L189.5,786.94 L190.0,786.76 L190.5,786.58 L191.0,786.39 L191.5,786.20 L192.0,786.00 L192.5,785.81 L193.0,785.60 L193.5,785.40 L194.0,785.19 L194.5,784.98 L195.0,784.77 L195.5,784.56 L196.0,784.35 L196.5,784.13 L197.0,783.92 L197.5,783.70 L198.0,783.49 L198.5,783.27 L199.0,783.06 L199.5,782.84 L200.0,782.62 L200.5,782.41 L201.0,782.19 L201.5,781.97 L202.0,781.75 L202.5,781.53 L203.0,781.31 L203.5,781.09 L204.0,780.86 L204.5,780.63 L205.0,780.40 L205.5,780.17 L206.0,779.94 L206.5,779.71 L207.0,779.47 L207.5,779.24 L208.0,779.00 L208.5,778.76 L209.0,778.52 L209.5,778.27 L210.0,778.03 L210.5,777.78 L211.0,777.54 L211.5,777.29 L212.0,777.04 L212.5,776.80 L213.0,776.55 L213.5,776.30 L214.0,776.04 L214.5,775.79 L215.0,775.54 L215.5,775.29 L216.0,775.04 L216.5,774.78 L217.0,774.53 L217.5,774.27 L218.0,774.02 L218.5,773.76 L219.0,773.50 L219.5,773.24 L220.0,772.99 L220.5,772.73 L221.0,772.46 L221.5,772.20 L222.0,771.94 L222.5,771.67 L223.0,771.41 L223.5,771.14 L224.0,770.87 L224.5,770.60 L225.0,770.32 L225.5,770.05 L226.0,769.77 L226.5,769.49 L227.0,769.21 L227.5,768.92 L228.0,768.64 L228.5,768.35 L229.0,768.05 L229.5,767.76 L230.0,767.46 L230.5,767.16 L231.0,766.86 L231.5,766.55 L232.0,766.24 L232.5,765.92 L233.0,765.60 L233.5,765.28 L234.0,764.95 L234.5,764.62 L235.0,764.28 L235.5,763.94 L236.0,763.59 L236.5,763.24 L237.0,762.88 L237.5,762.52 L238.0,762.16 L238.5,761.79 L239.0,761.42 L239.5,761.04 L240.0,760.67 L240.5,760.29 L241.0,759.91 L241.5,759.52 L242.0,759.14 L242.5,758.75 L243.0,758.36 L243.5,757.98 L244.0,757.59 L244.5,757.20 L245.0,756.82 L245.5,756.43 L246.0,756.04 L246.5,755.66 L247.0,755.27 L247.5,754.89 L248.0,754.51 L248.5,754.13 L249.0,753.75 L249.5,753.36 L250.0,752.98 L250.5,752.60 L251.0,752.21 L251.5,751.83 L252.0,751.44 L252.5,751.05 L253.0,750.66 L253.5,750.26 L254.0,749.87 L254.5,749.48 L255.0,749.09 L255.5,748.70 L256.0,748.31 L256.5,747.93 L257.0,747.55 L257.5,747.17 L258.0,746.80 L258.5,746.44 L259.0,746.09 L259.5,745.75 L260.0,745.41 L260.5,745.09 L261.0,744.77 L261.5,744.47 L262.0,744.18 L262.5,743.90 L263.0,743.62 L263.5,743.36 L264.0,743.11 L264.5,742.87 L265.0,742.63 L265.5,742.40 L266.0,742.17 L266.5,741.95 L267.0,741.74 L267.5,741.53 L268.0,741.32 L268.5,741.12 L269.0,740.92 L269.5,740.73 L270.0,740.55 L270.5,740.37 L271.0,740.20 L271.5,740.04 L272.0,739.88 L272.5,739.73 L273.0,739.60 L273.5,739.47 L274.0,739.36 L274.5,739.26 L275.0,739.17 L275.5,739.09 L276.0,739.03 L276.5,738.98 L277.0,738.95 L277.5,738.93 L278.0,738.93 L278.5,738.94 L279.0,738.97 L279.5,739.02 L280.0,739.08 L280.5,739.16 L281.0,739.25 L281.5,739.36 L282.0,739.48 L282.5,739.62 L283.0,739.77 L283.5,739.93 L284.0,740.10 L284.5,740.28 L285.0,740.48 L285.5,740.68 L286.0,740.88 L286.5,741.10 L287.0,741.32 L287.5,741.55 L288.0,741.78 L288.5,742.01 L289.0,742.25 L289.5,742.50 L290.0,742.74 L290.5,742.99 L291.0,743.24 L291.5,743.50 L292.0,743.76 L292.5,744.02 L293.0,744.29 L293.5,744.57 L294.0,744.85 L294.5,745.14 L295.0,745.44 L295.5,745.74 L296.0,746.06 L296.5,746.38 L297.0,746.71 L297.5,747.04 L298.0,747.38 L298.5,747.73 L299.0,748.08 L299.5,748.44 L300.0,748.79 L300.5,749.15 L301.0,749.51 L301.5,749.87 L302.0,750.22 L302.5,750.58 L303.0,750.93 L303.5,751.28 L304.0,751.63 L304.5,751.97 L305.0,752.30 L305.5,752.63 L306.0,752.96 L306.5,753.29 L307.0,753.61 L307.5,753.92 L308.0,754.23 L308.5,754.54 L309.0,754.85 L309.5,755.15 L310.0,755.44 L310.5,755.73 L311.0,756.02 L311.5,756.29 L312.0,756.57 L312.5,756.83 L313.0,757.09 L313.5,757.33 L314.0,757.57 L314.5,757.80 L315.0,758.02 L315.5,758.23 L316.0,758.44 L316.5,758.63 L317.0,758.82 L317.5,759.00 L318.0,759.18 L318.5,759.34 L319.0,759.50 L319.5,759.65 L320.0,759.79 L320.5,759.91 L321.0,760.02 L321.5,760.12 L322.0,760.19 L322.5,760.23 L323.0,760.25 L323.5,760.22 L324.0,760.16 L324.5,760.06 L325.0,759.90 L325.5,759.69 L326.0,759.43 L326.5,759.12 L327.0,758.76 L327.5,758.35 L328.0,757.90 L328.5,757.42 L329.0,756.91 L329.5,756.37 L330.0,755.82 L330.5,755.25 L331.0,754.66 L331.5,754.07 L332.0,753.45 L332.5,752.82 L333.0,752.15 L333.5,751.46 L334.0,750.74 L334.5,749.97 L335.0,749.15 L335.5,748.29 L336.0,747.37 L336.5,746.40 L337.0,745.37 L337.5,744.29 L338.0,743.16 L338.5,741.98 L339.0,740.76 L339.5,739.49 L340.0,738.19 L340.5,736.85 L341.0,735.48 L341.5,734.08 L342.0,732.65 L342.5,731.20 L343.0,729.73 L343.5,728.23 L344.0,726.70 L344.5,725.16 L345.0,723.59 L345.5,721.99 L346.0,720.37 L346.5,718.72 L347.0,717.04 L347.5,715.33 L348.0,713.60 L348.5,711.85 L349.0,710.06 L349.5,708.25 L350.0,706.41 L350.5,704.55 L351.0,702.65 L351.5,700.73 L352.0,698.79 L352.5,696.81 L353.0,694.81 L353.5,692.79 L354.0,690.75 L354.5,688.69 L355.0,686.62 L355.5,684.55 L356.0,682.47 L356.5,680.41 L357.0,678.36 L357.5,676.32 L358.0,674.31 L358.5,672.33 L359.0,670.39 L359.5,668.48 L360.0,666.62 L360.5,664.80 L361.0,663.04 L361.5,661.33 L362.0,659.68 L362.5,658.10 L363.0,656.60 L363.5,655.17 L364.0,653.83 L364.5,652.58 L365.0,651.42 L365.5,650.35 L366.0,649.38 L366.5,648.51 L367.0,647.72 L367.5,647.02 L368.0,646.41 L368.5,645.88 L369.0,645.42 L369.5,645.04 L370.0,644.73 L370.5,644.49 L371.0,644.32 L371.5,644.21 L372.0,644.17 L372.5,644.19 L373.0,644.26 L373.5,644.40 L374.0,644.59 L374.5,644.84 L375.0,645.14 L375.5,645.50 L376.0,645.91 L376.5,646.39 L377.0,646.92 L377.5,647.51 L378.0,648.16 L378.5,648.88 L379.0,649.65 L379.5,650.49 L380.0,651.38 L380.5,652.32 L381.0,653.31 L381.5,654.35 L382.0,655.43 L382.5,656.55 L383.0,657.72 L383.5,658.92 L384.0,660.15 L384.5,661.43 L385.0,662.73 L385.5,664.08 L386.0,665.46 L386.5,666.88 L387.0,668.34 L387.5,669.83 L388.0,671.37 L388.5,672.95 L389.0,674.57 L389.5,676.24 L390.0,677.95 L390.5,679.72 L391.0,681.53 L391.5,683.39 L392.0,685.29 L392.5,687.22 L393.0,689.19 L393.5,691.18 L394.0,693.19 L394.5,695.20 L395.0,697.21 L395.5,699.21 L396.0,701.19 L396.5,703.13 L397.0,705.04 L397.5,706.91 L398.0,708.74 L398.5,710.51 L399.0,712.24 L399.5,713.93 L400.0,715.57 L400.5,717.17 L401.0,718.74 L401.5,720.27 L402.0,721.78 L402.5,723.26 L403.0,724.72 L403.5,726.16 L404.0,727.59 L404.5,729.00 L405.0,730.39 L405.5,731.77 L406.0,733.14 L406.5,734.49 L407.0,735.83 L407.5,737.16 L408.0,738.48 L408.5,739.78 L409.0,741.08 L409.5,742.36 L410.0,743.63 L410.5,744.89 L411.0,746.14 L411.5,747.38 L412.0,748.62 L412.5,749.84 L413.0,751.05 L413.5,752.26 L414.0,753.45 L414.5,754.62 L415.0,755.77 L415.5,756.91 L416.0,758.02 L416.5,759.10 L417.0,760.16 L417.5,761.18 L418.0,762.17 L418.5,763.13 L419.0,764.06 L419.5,764.95 L420.0,765.81 L420.5,766.64 L421.0,767.44 L421.5,768.21 L422.0,768.95 L422.5,769.67 L423.0,770.36 L423.5,771.02 L424.0,771.67 L424.5,772.29 L425.0,772.88 L425.5,773.46 L426.0,774.02 L426.5,774.56 L427.0,775.08 L427.5,775.58 L428.0,776.07 L428.5,776.55 L429.0,777.01 L429.5,777.46 L430.0,777.90 L430.5,778.33 L431.0,778.75 L431.5,779.16 L432.0,779.56 L432.5,779.96 L433.0,780.35 L433.5,780.73 L434.0,781.11 L434.5,781.48 L435.0,781.84 L435.5,782.20 L436.0,782.55 L436.5,782.89 L437.0,783.22 L437.5,783.55 L438.0,783.87 L438.5,784.18 L439.0,784.48 L439.5,784.78 L440.0,785.07 L440.5,785.35 L441.0,785.63 L441.5,785.90 L442.0,786.16 L442.5,786.41 L443.0,786.66 L443.5,786.90 L444.0,787.13 L444.5,787.36 L445.0,787.57 L445.5,787.78 L446.0,787.99 L446.5,788.18 L447.0,788.37 L447.5,788.55 L448.0,788.73 L448.5,788.90 L449.0,789.06 L449.5,789.22 L450.0,789.37 L450.5,789.52 L451.0,789.66 L451.5,789.80 L452.0,789.93 L452.5,790.06 L453.0,790.19 L453.5,790.31 L454.0,790.43 L454.5,790.55 L455.0,790.66 L455.5,790.77 L456.0,790.87 L456.5,790.98 L457.0,791.07 L457.5,791.16 L458.0,791.25 L458.5,791.33 L459.0,791.41 L459.5,791.48 L460.0,791.54 L460.5,791.59 L461.0,791.64 L461.5,791.68 L462.0,791.72 L462.5,791.75 L463.0,791.78 L463.5,791.80 L464.0,791.82 L464.5,791.84 L465.0,791.85 L465.5,791.86 L466.0,791.87 L466.5,791.88 L467.0,791.89 L467.5,791.90 L468.0,791.91 L468.5,791.92 L469.0,791.92 L469.5,791.93 L470.0,791.94 L470.5,791.94 L471.0,791.95 L471.5,791.95 L472.0,791.96 L472.5,791.96 L473.0,791.97 L473.5,791.97 L474.0,791.98 L474.5,791.98 L475.0,791.98 L475.5,791.98 L476.0,791.99 L476.5,791.99 L477.0,791.99 L477.5,791.99 L478.0,791.99 L478.5,792.00 L479.0,792.00 L479.5,792.00 L480.0,792.00 L480.5,792.00 L481.0,792.00 L481.5,792.00 L482.0,792.00 L482.5,792.00 L483.0,792.00 L483.5,792.00 L484.0,792.00 L484.5,792.00 L485.0,792.00 L485.5,792.00 L486.0,792.00 L486.5,792.00 L487.0,792.00 L487.5,792.00 L488.0,792.00 L488.5,792.00 L489.0,792.00 L489.5,792.00 L490.0,792.00 L490.5,792.00 L491.0,792.00 L491.5,792.00 L492.0,792.00 L492.5,792.00 L493.0,792.00 L493.5,792.00 L494.0,792.00 L494.5,792.00 L495.0,792.00 L495.5,792.00 L496.0,792.00 L496.5,792.00 L497.0,792.00 L497.5,792.00 L498.0,792.00 L498.5,792.00 L499.0,792.00 L499.5,792.00 L500.0,792.00 L500.5,792.00 L501.0,792.00 L501.5,792.00 L502.0,792.00 L502.5,792.00 L503.0,792.00 L503.5,792.00 L504.0,792.00 L504.5,792.00 L505.0,792.00 L505.5,792.00 L506.0,792.00 L506.5,792.00 L507.0,791.99 L507.5,791.99 L508.0,791.98 L508.5,791.97 L509.0,791.96 L509.5,791.94 L510.0,791.92 L510.5,791.88 L511.0,791.84 L511.5,791.79 L512.0,791.73 L512.5,791.66 L513.0,791.57 L513.5,791.47 L514.0,791.36 L514.5,791.24 L515.0,791.10 L515.5,790.95 L516.0,790.79 L516.5,790.62 L517.0,790.43 L517.5,790.24 L518.0,790.03 L518.5,789.81 L519.0,789.58 L519.5,789.33 L520.0,789.07 L520.5,788.80 L521.0,788.51 L521.5,788.22 L522.0,787.90 L522.5,787.58 L523.0,787.25 L523.5,786.91 L524.0,786.55 L524.5,786.19 L525.0,785.82 L525.5,785.45 L526.0,785.06 L526.5,784.67 L527.0,784.28 L527.5,783.89 L528.0,783.49 L528.5,783.09 L529.0,782.68 L529.5,782.28 L530.0,781.88 L530.5,781.48 L531.0,781.08 L531.5,780.68 L532.0,780.28 L532.5,779.89 L533.0,779.50 L533.5,779.10 L534.0,778.71 L534.5,778.32 L535.0,777.93 L535.5,777.54 L536.0,777.15 L536.5,776.76 L537.0,776.36 L537.5,775.96 L538.0,775.56 L538.5,775.16 L539.0,774.76 L539.5,774.35 L540.0,773.94 L540.5,773.54 L541.0,773.13 L541.5,772.72 L542.0,772.31 L542.5,771.91 L543.0,771.51 L543.5,771.11 L544.0,770.72 L544.5,770.33 L545.0,769.94 L545.5,769.56 L546.0,769.19 L546.5,768.83 L547.0,768.47 L547.5,768.12 L548.0,767.78 L548.5,767.45 L549.0,767.13 L549.5,766.82 L550.0,766.52 L550.5,766.23 L551.0,765.95 L551.5,765.67 L552.0,765.41 L552.5,765.15 L553.0,764.91 L553.5,764.67 L554.0,764.44 L554.5,764.21 L555.0,764.00 L555.5,763.79 L556.0,763.59 L556.5,763.39 L557.0,763.21 L557.5,763.03 L558.0,762.86 L558.5,762.69 L559.0,762.53 L559.5,762.38 L560.0,762.24 L560.5,762.10 L561.0,761.97 L561.5,761.84 L562.0,761.72 L562.5,761.60 L563.0,761.49 L563.5,761.38 L564.0,761.27 L564.5,761.16 L565.0,761.06 L565.5,760.96 L566.0,760.87 L566.5,760.77 L567.0,760.68 L567.5,760.59 L568.0,760.50 L568.5,760.42 L569.0,760.33 L569.5,760.25 L570.0,760.17 L570.5,760.09 L571.0,760.01 L571.5,759.93 L572.0,759.85 L572.5,759.78 L573.0,759.70 L573.5,759.63 L574.0,759.56 L574.5,759.48 L575.0,759.41 L575.5,759.34 L576.0,759.27 L576.5,759.20 L577.0,759.13 L577.5,759.06 L578.0,758.99 L578.5,758.92 L579.0,758.85 L579.5,758.78 L580.0,758.70 L580.5,758.63 L581.0,758.56 L581.5,758.49 L582.0,758.41 L582.5,758.34 L583.0,758.26 L583.5,758.19 L584.0,758.11 L584.5,758.03 L585.0,757.95 L585.5,757.87 L586.0,757.79 L586.5,757.71 L587.0,757.63 L587.5,757.55 L588.0,757.46 L588.5,757.38 L589.0,757.30 L589.5,757.21 L590.0,757.13 L590.5,757.05 L591.0,756.96 L591.5,756.88 L592.0,756.80 L592.5,756.71 L593.0,756.63 L593.5,756.55 L594.0,756.46 L594.5,756.38 L595.0,756.29 L595.5,756.21 L596.0,756.13 L596.5,756.04 L597.0,755.96 L597.5,755.88 L598.0,755.79 L598.5,755.71 L599.0,755.62 L599.5,755.54 L600.0,755.46 L600.5,755.37 L601.0,755.29 L601.5,755.21 L602.0,755.12 L602.5,755.04 L603.0,754.96 L603.5,754.87 L604.0,754.79 L604.5,754.70 L605.0,754.62 L605.5,754.54 L606.0,754.45 L606.5,754.37 L607.0,754.29 L607.5,754.20 L608.0,754.12 L608.5,754.03 L609.0,753.95 L609.5,753.87 L610.0,753.78 L610.5,753.70 L611.0,753.61 L611.5,753.53 L612.0,753.44 L612.5,753.36 L613.0,753.27 L613.5,753.18 L614.0,753.10 L614.5,753.01 L615.0,752.92 L615.5,752.83 L616.0,752.74 L616.5,752.65 L617.0,752.56 L617.5,752.47 L618.0,752.38 L618.5,752.28 L619.0,752.19 L619.5,752.10 L620.0,752.01 L620.5,751.91 L621.0,751.82 L621.5,751.73 L622.0,751.64 L622.5,751.55 L623.0,751.45 L623.5,751.36 L624.0,751.27 L624.5,751.18 L625.0,751.09 L625.5,751.00 L626.0,750.91 L626.5,750.83 L627.0,750.74 L627.5,750.65 L628.0,750.57 L628.5,750.49 L629.0,750.40 L629.5,750.32 L630.0,750.24 L630.5,750.16 L631.0,750.08 L631.5,750.01 L632.0,749.93 L632.5,749.86 L633.0,749.79 L633.5,749.72 L634.0,749.65 L634.5,749.58 L635.0,749.52 L635.5,749.45 L636.0,749.39 L636.5,749.33 L637.0,749.27 L637.5,749.21 L638.0,749.15 L638.5,749.09 L639.0,749.04 L639.5,748.98 L640.0,748.93 L640.5,748.87 L641.0,748.81 L641.5,748.76 L642.0,748.71 L642.5,748.65 L643.0,748.60 L643.5,748.55 L644.0,748.49 L644.5,748.44 L645.0,748.39 L645.5,748.35 L646.0,748.30 L646.5,748.25 L647.0,748.21 L647.5,748.17 L648.0,748.13 L648.5,748.09 L649.0,748.06 L649.5,748.02 L650.0,747.99 L650.5,747.97 L651.0,747.95 L651.5,747.93 L652.0,747.92 L652.5,747.92 L653.0,747.92 L653.5,747.94 L654.0,747.96 L654.5,748.00 L655.0,748.05 L655.5,748.12 L656.0,748.20 L656.5,748.30 L657.0,748.42 L657.5,748.55 L658.0,748.70 L658.5,748.87 L659.0,749.04 L659.5,749.23 L660.0,749.44 L660.5,749.65 L661.0,749.86 L661.5,750.09 L662.0,750.32 L662.5,750.56 L663.0,750.80 L663.5,751.05 L664.0,751.30 L664.5,751.56 L665.0,751.82 L665.5,752.09 L666.0,752.36 L666.5,752.65 L667.0,752.94 L667.5,753.23 L668.0,753.53 L668.5,753.84 L669.0,754.15 L669.5,754.46 L670.0,754.78 L670.5,755.11 L671.0,755.43 L671.5,755.76 L672.0,756.09 L672.5,756.42 L673.0,756.75 L673.5,757.08 L674.0,757.40 L674.5,757.73 L675.0,758.05 L675.5,758.36 L676.0,758.68 L676.5,758.98 L677.0,759.29 L677.5,759.58 L678.0,759.88 L678.5,760.16 L679.0,760.44 L679.5,760.72 L680.0,760.99 L680.5,761.26 L681.0,761.53 L681.5,761.79 L682.0,762.06 L682.5,762.32 L683.0,762.58 L683.5,762.84 L684.0,763.10 L684.5,763.36 L685.0,763.62 L685.5,763.87 L686.0,764.13 L686.5,764.38 L687.0,764.63 L687.5,764.88 L688.0,765.12 L688.5,765.36 L689.0,765.59 L689.5,765.82 L690.0,766.03 L690.5,766.24 L691.0,766.44 L691.5,766.63 L692.0,766.81 L692.5,766.97 L693.0,767.13 L693.5,767.27 L694.0,767.40 L694.5,767.52 L695.0,767.62 L695.5,767.71 L696.0,767.79 L696.5,767.85 L697.0,767.90 L697.5,767.94 L698.0,767.97 L698.5,767.99 L699.0,768.00 L699.5,768.01 L700.0,768.00 L700.5,767.99 L701.0,767.98 L701.5,767.96 L702.0,767.94 L702.5,767.91 L703.0,767.88 L703.5,767.85 L704.0,767.81 L704.5,767.78 L705.0,767.73 L705.5,767.69 L706.0,767.65 L706.5,767.60 L707.0,767.55 L707.5,767.50 L708.0,767.44 L708.5,767.39 L709.0,767.33 L709.5,767.27 L710.0,767.21 L710.5,767.15 L711.0,767.08 L711.5,767.02 L712.0,766.95 L712.5,766.88 L713.0,766.82 L713.5,766.75 L714.0,766.67 L714.5,766.60 L715.0,766.53 L715.5,766.46 L716.0,766.38 L716.5,766.31 L717.0,766.23 L717.5,766.15 L718.0,766.08 L718.5,766.00 L719.0,765.92 L719.5,765.85 L720.0,765.77 L720.5,765.69 L721.0,765.61 L721.5,765.53 L722.0,765.46 L722.5,765.38 L723.0,765.30 L723.5,765.22 L724.0,765.13 L724.5,765.05 L725.0,764.96 L725.5,764.87 L726.0,764.78 L726.5,764.68 L727.0,764.58 L727.5,764.48 L728.0,764.37 L728.5,764.26 L729.0,764.15 L729.5,764.03 L730.0,763.91 L730.5,763.78 L731.0,763.66 L731.5,763.53 L732.0,763.40 L732.5,763.26 L733.0,763.13 L733.5,763.00 L734.0,762.86 L734.5,762.73 L735.0,762.59 L735.5,762.46 L736.0,762.33 L736.5,762.20 L737.0,762.08 L737.5,761.95 L738.0,761.83 L738.5,761.72 L739.0,761.61 L739.5,761.50 L740.0,761.40 L740.5,761.30 L741.0,761.21 L741.5,761.13 L742.0,761.06 L742.5,760.99 L743.0,760.94 L743.5,760.90 L744.0,760.86 L744.5,760.85 L745.0,760.85 L745.5,760.86 L746.0,760.90 L746.5,760.95 L747.0,761.03 L747.5,761.13 L748.0,761.26 L748.5,761.40 L749.0,761.57 L749.5,761.76 L750.0,761.98 L750.5,762.21 L751.0,762.47 L751.5,762.74 L752.0,763.04 L752.5,763.35 L753.0,763.68 L753.5,764.04 L754.0,764.41 L754.5,764.80 L755.0,765.22 L755.5,765.64 L756.0,766.09 L756.5,766.55 L757.0,767.02 L757.5,767.50 L758.0,767.99 L758.5,768.49 L759.0,768.98 L759.5,769.48 L760.0,769.97 L760.5,770.47 L761.0,770.95 L761.5,771.43 L762.0,771.90 L762.5,772.37 L763.0,772.83 L763.5,773.28 L764.0,773.72 L764.5,774.16 L765.0,774.59 L765.5,775.02 L766.0,775.44 L766.5,775.86 L767.0,776.27 L767.5,776.68 L768.0,777.09 L768.5,777.50 L769.0,777.90 L769.5,778.29 L770.0,778.69 L770.5,779.08 L771.0,779.47 L771.5,779.86 L772.0,780.24 L772.5,780.63 L773.0,781.01 L773.5,781.39 L774.0,781.77 L774.5,782.14 L775.0,782.52 L775.5,782.90 L776.0,783.28 L776.5,783.66 L777.0,784.04 L777.5,784.42 L778.0,784.80 L778.5,785.18 L779.0,785.56 L779.5,785.94 L780.0,786.30 L780.5,786.67 L781.0,787.02 L781.5,787.37 L782.0,787.71 L782.5,788.03 L783.0,788.34 L783.5,788.64 L784.0,788.92 L784.5,789.18 L785.0,789.43 L785.5,789.66 L786.0,789.87 L786.5,790.06 L787.0,790.24 L787.5,790.41 L788.0,790.56 L788.5,790.69 L789.0,790.82 L789.5,790.94 L790.0,791.04 L790.5,791.14 L791.0,791.24 L791.5,791.32 L792.0,791.41 L792.5,791.48 L793.0,791.55 L793.5,791.61 L794.0,791.67 L794.5,791.73 L795.0,791.77 L795.5,791.82 L796.0,791.85 L796.5,791.88 L797.0,791.91 L797.5,791.93 L798.0,791.95 L798.5,791.96 L799.0,791.97 L799.5,791.98 L800.0,791.99 L800.5,791.99 L801.0,791.99 L801.5,792.00 L802.0,792.00 L802.5,792.00 L803.0,792.00 L803.5,792.00 L804.0,792.00 L804.5,792.00 L805.0,792.00 L805.5,792.00 L806.0,792.00 L806.5,792.00 L807.0,792.00 L807.5,792.00 L808.0,792.00 L808.5,792.00 L809.0,792.00 L809.5,792.00 L810.0,792.00 L810.5,792.00 L811.0,792.00 L811.5,792.00 L812.0,792.00 L812.5,792.00 L813.0,792.00 L813.5,792.00 L814.0,792.00 L814.5,792.00 L815.0,792.00 L815.5,792.00 L816.0,792.00 L816.5,792.00 L817.0,792.00 L817.5,792.00 L818.0,792.00 L818.5,792.00 L819.0,792.00 L819.5,792.00 L820.0,792.00 L820.5,792.00 L821.0,792.00 L821.5,792.00 L822.0,792.00 L822.5,792.00 L823.0,792.00 L823.5,792.00 L824.0,792.00 L824.5,792.00 L825.0,792.00 L825.5,792.00 L826.0,792.00 L826.5,792.00 L827.0,792.00 L827.5,792.00 L828.0,792.00 L828.5,792.00 L829.0,792.00 L829.5,792.00 L830.0,792.00 L830.5,792.00 L831.0,792.00 L831.5,792.00 L832.0,792.00 L832.5,792.00 L833.0,792.00 L833.5,792.00 L834.0,792.00 L834.5,792.00 L835.0,792.00 L835.5,792.00 L836.0,792.00 L836.5,792.00 L837.0,792.00 L837.5,792.00 L838.0,792.00 L838.5,792.00 L839.0,792.00 L839.5,792.00 L840.0,792.00 L840.5,792.00 L841.0,792.00 L841.5,792.00 L842.0,792.00 L842.5,792.00 L843.0,792.00 L843.5,792.00 L844.0,792.00 L844.5,792.00 L845.0,792.00 L845.5,792.00 L846.0,792.00 L846.5,792.00 L847.0,792.00 L847.5,792.00 L848.0,791.99 L848.5,791.99 L849.0,791.98 L849.5,791.98 L850.0,791.97 L850.5,791.96 L851.0,791.95 L851.5,791.93 L852.0,791.91 L852.5,791.89 L853.0,791.86 L853.5,791.83 L854.0,791.80 L854.5,791.76 L855.0,791.72 L855.5,791.67 L856.0,791.62 L856.5,791.56 L857.0,791.50 L857.5,791.44 L858.0,791.37 L858.5,791.30 L859.0,791.23 L859.5,791.15 L860.0,791.06 L860.5,790.98 L861.0,790.88 L861.5,790.79 L862.0,790.69 L862.5,790.59 L863.0,790.48 L863.5,790.37 L864.0,790.26 L864.5,790.14 L865.0,790.02 L865.5,789.89 L866.0,789.76 L866.5,789.63 L867.0,789.49 L867.5,789.35 L868.0,789.20 L868.5,789.05 L869.0,788.89 L869.5,788.72 L870.0,788.53 L870.5,788.33 L871.0,788.12 L871.5,787.88 L872.0,787.62 L872.5,787.34 L873.0,787.02 L873.5,786.67 L874.0,786.29 L874.5,785.87 L875.0,785.41 L875.5,784.91 L876.0,784.37 L876.5,783.80 L877.0,783.19 L877.5,782.54 L878.0,781.85 L878.5,781.14 L879.0,780.39 L879.5,779.62 L880.0,778.82 L880.5,777.99 L881.0,777.15 L881.5,776.28 L882.0,775.40 L882.5,774.49 L883.0,773.58 L883.5,772.65 L884.0,771.71 L884.5,770.76 L885.0,769.80 L885.5,768.83 L886.0,767.85 L886.5,766.86 L887.0,765.85 L887.5,764.83 L888.0,763.80 L888.5,762.75 L889.0,761.68 L889.5,760.59 L890.0,759.48 L890.5,758.34 L891.0,757.18 L891.5,755.98 L892.0,754.76 L892.5,753.51 L893.0,752.23 L893.5,750.92 L894.0,749.57 L894.5,748.18 L895.0,746.76 L895.5,745.30 L896.0,743.81 L896.5,742.26 L897.0,740.67 L897.5,739.04 L898.0,737.34 L898.5,735.59 L899.0,733.78 L899.5,731.89 L900.0,729.93 L900.5,727.88 L901.0,725.75 L901.5,723.52 L902.0,721.20 L902.5,718.78 L903.0,716.26 L903.5,713.65 L904.0,710.95 L904.5,708.16 L905.0,705.30 L905.5,702.35 L906.0,699.33 L906.5,696.25 L907.0,693.10 L907.5,689.90 L908.0,686.64 L908.5,683.34 L909.0,680.00 L909.5,676.63 L910.0,673.24 L910.5,669.85 L911.0,666.47 L911.5,663.12 L912.0,659.81 L912.5,656.54 L913.0,653.35 L913.5,650.23 L914.0,647.19 L914.5,644.24 L915.0,641.38 L915.5,638.61 L916.0,635.92 L916.5,633.31 L917.0,630.79 L917.5,628.34 L918.0,625.97 L918.5,623.67 L919.0,621.44 L919.5,619.29 L920.0,617.21 L920.5,615.21 L921.0,613.29 L921.5,611.45 L922.0,609.70 L922.5,608.03 L923.0,606.45 L923.5,604.95 L924.0,603.53 L924.5,602.20 L925.0,600.94 L925.5,599.76 L926.0,598.65 L926.5,597.62 L927.0,596.66 L927.5,595.77 L928.0,594.95 L928.5,594.22 L929.0,593.56 L929.5,593.00 L930.0,592.53 L930.5,592.15 L931.0,591.88 L931.5,591.72 L932.0,591.67 L932.5,591.72 L933.0,591.88 L933.5,592.15 L934.0,592.53 L934.5,593.00 L935.0,593.57 L935.5,594.22 L936.0,594.96 L936.5,595.77 L937.0,596.67 L937.5,597.63 L938.0,598.67 L938.5,599.79 L939.0,600.97 L939.5,602.24 L940.0,603.59 L940.5,605.01 L941.0,606.53 L941.5,608.12 L942.0,609.81 L942.5,611.57 L943.0,613.42 L943.5,615.35 L944.0,617.36 L944.5,619.44 L945.0,621.59 L945.5,623.80 L946.0,626.08 L946.5,628.42 L947.0,630.82 L947.5,633.29 L948.0,635.82 L948.5,638.41 L949.0,641.08 L949.5,643.82 L950.0,646.62 L950.5,649.50 L951.0,652.44 L951.5,655.45 L952.0,658.50 L952.5,661.60 L953.0,664.72 L953.5,667.87 L954.0,671.02 L954.5,674.15 L955.0,677.27 L955.5,680.35 L956.0,683.39 L956.5,686.38 L957.0,689.31 L957.5,692.19 L958.0,695.00 L958.5,697.76 L959.0,700.45 L959.5,703.08 L960.0,705.65 L960.5,708.16 L961.0,710.61 L961.5,713.00 L962.0,715.32 L962.5,717.59 L963.0,719.79 L963.5,721.93 L964.0,724.01 L964.5,726.03 L965.0,727.99 L965.5,729.90 L966.0,731.76 L966.5,733.58 L967.0,735.34 L967.5,737.07 L968.0,738.75 L968.5,740.40 L969.0,742.02 L969.5,743.60 L970.0,745.14 L970.5,746.66 L971.0,748.14 L971.5,749.59 L972.0,751.01 L972.5,752.40 L973.0,753.76 L973.5,755.09 L974.0,756.39 L974.5,757.65 L975.0,758.89 L975.5,760.10 L976.0,761.29 L976.5,762.45 L977.0,763.59 L977.5,764.71 L978.0,765.80 L978.5,766.89 L979.0,767.95 L979.5,769.00 L980.0,770.04 L980.5,771.07 L981.0,772.08 L981.5,773.08 L982.0,774.07 L982.5,775.04 L983.0,775.99 L983.5,776.93 L984.0,777.84 L984.5,778.72 L985.0,779.58 L985.5,780.41 L986.0,781.20 L986.5,781.96 L987.0,782.68 L987.5,783.36 L988.0,784.00 L988.5,784.60 L989.0,785.15 L989.5,785.66 L990.0,786.12 L990.5,786.54 L991.0,786.91 L991.5,787.25 L992.0,787.56 L992.5,787.83 L993.0,788.08 L993.5,788.30 L994.0,788.50 L994.5,788.69 L995.0,788.86 L995.5,789.02 L996.0,789.18 L996.5,789.32 L997.0,789.46 L997.5,789.60 L998.0,789.73 L998.5,789.85 L999.0,789.97 L999.5,790.09 L1000.0,790.21 L1000.5,790.32 L1001.0,790.43 L1001.5,790.53 L1002.0,790.63 L1002.5,790.73 L1003.0,790.82 L1003.5,790.92 L1004.0,791.00 L1004.5,791.08 L1005.0,791.16 L1005.5,791.24 L1006.0,791.31 L1006.5,791.38 L1007.0,791.44 L1007.5,791.50 L1008.0,791.56 L1008.5,791.61 L1009.0,791.66 L1009.5,791.71 L1010.0,791.75 L1010.5,791.79 L1011.0,791.82 L1011.5,791.85 L1012.0,791.88 L1012.5,791.90 L1013.0,791.92 L1013.5,791.94 L1014.0,791.95 L1014.5,791.96 L1015.0,791.97 L1015.5,791.98 L1016.0,791.99 L1016.5,791.99 L1017.0,791.99 L1017.5,792.00 L1018.0,792.00 L1018.5,792.00 L1019.0,792.00 L1019.5,792.00 L1020.0,792.00 L1020.5,792.00 L1021.0,792.00 L1021.5,792.00 L1022.0,792.00 L1022.5,792.00 L1023.0,792.00 L1023.5,792.00 L1024.0,792.00 L1024.5,792.00 L1025.0,792.00 L1025.5,792.00 L1026.0,792.00 L1026.5,792.00 L1027.0,792.00 L1027.5,792.00 L1028.0,792.00 L1028.5,792.00 L1029.0,792.00 L1029.5,792.00 L1030.0,792.00 L1030.5,792.00 L1031.0,792.00 L1031.5,792.00 L1032.0,792.00 L1032.5,792.00 L1033.0,792.00 L1033.5,792.00 L1034.0,792.00 L1034.5,792.00 L1035.0,792.00 L1035.5,792.00 L1036.0,792.00 L1036.5,792.00 L1037.0,792.00 L1037.5,792.00 L1038.0,792.00 L1038.5,792.00 L1039.0,792.00 L1039.5,792.00 L1040.0,792.00 L1040.5,792.00 L1041.0,792.00 L1041.5,792.00 L1042.0,792.00 L1042.5,792.00 L1043.0,792.00 L1043.5,792.00 L1044.0,792.00 L1044.5,792.00 L1045.0,792.00 L1045.5,792.00 L1046.0,792.00 L1046.5,792.00 L1047.0,792.00 L1047.5,792.00 L1048.0,792.00 L1048.5,792.00 L1049.0,792.00 L1049.5,792.00 L1050.0,792.00 L1050.5,792.00 L1051.0,792.00 L1051.5,792.00 L1052.0,792.00 L1052.5,792.00 L1053.0,792.00 L1053.5,792.00 L1054.0,792.00 L1054.5,792.00 L1055.0,792.00 L1055.5,792.00 L1056.0,792.00 L1056.5,792.00 L1057.0,792.00 L1057.5,792.00 L1058.0,792.00 L1058.5,792.00 L1059.0,792.00 L1059.5,792.00 L1060.0,792.00 L1060.5,792.00 L1061.0,792.00 L1061.5,792.00 L1062.0,792.00 L1062.5,792.00 L1063.0,792.00 L1063.5,792.00 L1064.0,792.00 L1064.5,792.00 L1065.0,792.00 L1065.5,792.00 L1066.0,792.00 L1066.5,792.00 L1067.0,792.00 L1067.5,792.00 L1068.0,792.00 L1068.5,792.00 L1069.0,792.00 L1069.5,792.00 L1070.0,792.00 L1070.5,792.00 L1071.0,792.00 L1071.5,792.00 L1072.0,792.00 L1072.5,792.00 L1073.0,792.00 L1073.5,792.00 L1074.0,792.00 L1074.5,792.00 L1075.0,792.00 L1075.5,792.00 L1076.0,792.00 L1076.5,792.00 L1077.0,792.00 L1077.5,792.00 L1078.0,792.00 L1078.5,792.00 L1079.0,792.00 L1079.5,792.00 L1080.0,792.00 L1080.5,792.00 L1081.0,792.00 L1081.5,792.00 L1082.0,792.00 L1082.5,792.00 L1083.0,792.00 L1083.5,792.00 L1084.0,792.00 L1084.5,792.00 L1085.0,792.00 L1085.5,792.00 L1086.0,792.00 L1086.5,792.00 L1087.0,792.00 L1087.5,792.00 L1088.0,792.00 L1088.5,792.00 L1089.0,792.00 L1089.5,792.00 L1090.0,792.00 L1090.5,792.00 L1091.0,792.00 L1091.5,792.00 L1092.0,792.00 L1092.5,792.00 L1093.0,792.00 L1093.5,792.00 L1094.0,792.00 L1094.5,792.00 L1095.0,792.00 L1095.5,792.00 L1096.0,792.00 L1096.5,792.00 L1097.0,792.00 L1097.5,792.00 L1098.0,792.00 L1098.5,792.00 L1099.0,792.00 L1099.5,792.00 L1100.0,792.00 L1100.5,792.00 L1101.0,792.00 L1101.5,792.00 L1102.0,792.00 L1102.5,792.00 L1103.0,792.00 L1103.5,792.00 L1104.0,792.00 L1104.5,792.00 L1105.0,792.00 L1105.5,792.00 L1106.0,792.00 L1106.5,792.00 L1107.0,792.00 L1107.5,792.00 L1108.0,792.00 L1108.5,792.00 L1109.0,792.00 L1109.5,792.00 L1110.0,792.00 L1110.5,792.00 L1111.0,792.00 L1111.5,792.00 L1112.0,792.00 L1112.5,792.00 L1113.0,792.00 L1113.5,792.00 L1114.0,792.00 L1114.5,792.00 L1115.0,792.00 L1115.5,792.00 L1116.0,792.00 L1116.5,792.00 L1117.0,792.00 L1117.5,792.00 L1118.0,792.00 L1118.5,792.00 L1119.0,792.00 L1119.5,792.00 L1120.0,792.00 L1120.5,792.00 L1121.0,792.00 L1121.5,792.00 L1122.0,792.00 L1122.5,792.00 L1123.0,792.00 L1123.5,792.00 L1124.0,792.00 L1124.5,792.00 L1125.0,792.00 L1125.5,792.00 L1126.0,792.00 L1126.5,792.00 L1127.0,792.00 L1127.5,792.00 L1128.0,792.00 L1128.5,792.00 L1129.0,792.00 L1129.5,792.00 L1130.0,792.00 L1130.5,792.00 L1131.0,792.00 L1131.5,792.00 L1132.0,792.00 L1132.5,792.00 L1133.0,792.00 L1133.5,792.00 L1134.0,792.00 L1134.5,792.00 L1135.0,792.00 L1135.5,792.00 L1136.0,792.00 L1136.5,792.00 L1137.0,792.00 L1137.5,792.00 L1138.0,792.00 L1138.5,792.00 L1139.0,792.00 L1139.5,792.00 L1140.0,792.00 L1140.5,792.00 L1141.0,792.00 L1141.5,792.00 L1142.0,792.00 L1142.5,792.00 L1143.0,792.00 L1143.5,792.00 L1144.0,792.00 L1144.5,792.00 L1145.0,792.00 L1145.5,792.00 L1146.0,792.00 L1146.5,792.00 L1147.0,792.00 L1147.5,792.00 L1148.0,792.00 L1148.5,792.00 L1149.0,792.00 L1149.5,792.00 L1150.0,792.00 L1150.5,792.00 L1151.0,792.00 L1151.5,792.00 L1152.0,792.00 L1152.5,792.00 L1153.0,792.00 L1153.5,792.00 L1154.0,792.00 L1154.5,792.00 L1155.0,792.00 L1155.5,792.00 L1156.0,792.00 L1156.5,792.00 L1157.0,792.00 L1157.5,792.00 L1158.0,792.00 L1158.5,792.00 L1159.0,792.00 L1159.5,792.00 L1160.0,792.00 L1160.5,792.00 L1161.0,792.00 L1161.5,792.00 L1162.0,792.00 L1162.5,792.00 L1163.0,792.00 L1163.5,792.00 L1164.0,792.00 L1164.5,792.00 L1165.0,792.00 L1165.5,792.00 L1166.0,792.00 L1166.5,792.00 L1167.0,792.00 L1167.5,792.00 L1168.0,792.00 L1168.5,792.00 L1169.0,792.00 L1169.5,792.00 L1170.0,792.00 L1170.5,792.00 L1171.0,792.00 L1171.5,792.00 L1172.0,792.00 L1172.5,792.00 L1173.0,792.00 L1173.5,792.00 L1174.0,792.00 L1174.5,792.00 L1175.0,792.00 L1175.5,792.00 L1176.0,792.00 L1176.5,792.00 L1177.0,792.00 L1177.0,792 Z"/>
<path id="ag" d="M137.5,792 L137.5,791.99 L138.0,791.98 L138.5,791.98 L139.0,791.97 L139.5,791.97 L140.0,791.96 L140.5,791.96 L141.0,791.95 L141.5,791.95 L142.0,791.94 L142.5,791.93 L143.0,791.93 L143.5,791.92 L144.0,791.92 L144.5,791.91 L145.0,791.91 L145.5,791.90 L146.0,791.90 L146.5,791.89 L147.0,791.89 L147.5,791.88 L148.0,791.88 L148.5,791.87 L149.0,791.87 L149.5,791.86 L150.0,791.86 L150.5,791.85 L151.0,791.85 L151.5,791.84 L152.0,791.84 L152.5,791.83 L153.0,791.83 L153.5,791.82 L154.0,791.82 L154.5,791.81 L155.0,791.81 L155.5,791.80 L156.0,791.80 L156.5,791.79 L157.0,791.78 L157.5,791.78 L158.0,791.77 L158.5,791.77 L159.0,791.76 L159.5,791.76 L160.0,791.75 L160.5,791.74 L161.0,791.74 L161.5,791.73 L162.0,791.72 L162.5,791.72 L163.0,791.71 L163.5,791.70 L164.0,791.69 L164.5,791.69 L165.0,791.68 L165.5,791.67 L166.0,791.66 L166.5,791.65 L167.0,791.64 L167.5,791.63 L168.0,791.62 L168.5,791.61 L169.0,791.60 L169.5,791.59 L170.0,791.58 L170.5,791.57 L171.0,791.56 L171.5,791.55 L172.0,791.53 L172.5,791.52 L173.0,791.51 L173.5,791.49 L174.0,791.47 L174.5,791.46 L175.0,791.44 L175.5,791.41 L176.0,791.39 L176.5,791.35 L177.0,791.32 L177.5,791.28 L178.0,791.23 L178.5,791.18 L179.0,791.12 L179.5,791.05 L180.0,790.98 L180.5,790.89 L181.0,790.80 L181.5,790.70 L182.0,790.60 L182.5,790.48 L183.0,790.36 L183.5,790.24 L184.0,790.10 L184.5,789.97 L185.0,789.82 L185.5,789.67 L186.0,789.52 L186.5,789.36 L187.0,789.20 L187.5,789.03 L188.0,788.87 L188.5,788.70 L189.0,788.52 L189.5,788.35 L190.0,788.17 L190.5,788.00 L191.0,787.82 L191.5,787.64 L192.0,787.47 L192.5,787.29 L193.0,787.11 L193.5,786.93 L194.0,786.76 L194.5,786.58 L195.0,786.41 L195.5,786.23 L196.0,786.05 L196.5,785.88 L197.0,785.70 L197.5,785.52 L198.0,785.34 L198.5,785.16 L199.0,784.97 L199.5,784.78 L200.0,784.59 L200.5,784.40 L201.0,784.21 L201.5,784.01 L202.0,783.82 L202.5,783.62 L203.0,783.41 L203.5,783.21 L204.0,783.01 L204.5,782.80 L205.0,782.60 L205.5,782.39 L206.0,782.18 L206.5,781.97 L207.0,781.76 L207.5,781.55 L208.0,781.34 L208.5,781.13 L209.0,780.92 L209.5,780.71 L210.0,780.50 L210.5,780.29 L211.0,780.08 L211.5,779.87 L212.0,779.66 L212.5,779.45 L213.0,779.25 L213.5,779.04 L214.0,778.83 L214.5,778.63 L215.0,778.43 L215.5,778.22 L216.0,778.02 L216.5,777.82 L217.0,777.62 L217.5,777.42 L218.0,777.21 L218.5,777.01 L219.0,776.81 L219.5,776.61 L220.0,776.41 L220.5,776.21 L221.0,776.01 L221.5,775.81 L222.0,775.61 L222.5,775.41 L223.0,775.21 L223.5,775.01 L224.0,774.80 L224.5,774.60 L225.0,774.40 L225.5,774.19 L226.0,773.99 L226.5,773.78 L227.0,773.58 L227.5,773.37 L228.0,773.16 L228.5,772.95 L229.0,772.74 L229.5,772.53 L230.0,772.32 L230.5,772.10 L231.0,771.89 L231.5,771.67 L232.0,771.45 L232.5,771.22 L233.0,771.00 L233.5,770.77 L234.0,770.54 L234.5,770.30 L235.0,770.06 L235.5,769.81 L236.0,769.57 L236.5,769.32 L237.0,769.06 L237.5,768.80 L238.0,768.54 L238.5,768.28 L239.0,768.02 L239.5,767.75 L240.0,767.48 L240.5,767.21 L241.0,766.95 L241.5,766.68 L242.0,766.41 L242.5,766.14 L243.0,765.88 L243.5,765.62 L244.0,765.36 L244.5,765.10 L245.0,764.84 L245.5,764.59 L246.0,764.35 L246.5,764.11 L247.0,763.87 L247.5,763.64 L248.0,763.42 L248.5,763.20 L249.0,762.99 L249.5,762.79 L250.0,762.59 L250.5,762.40 L251.0,762.22 L251.5,762.05 L252.0,761.88 L252.5,761.72 L253.0,761.56 L253.5,761.41 L254.0,761.26 L254.5,761.12 L255.0,760.99 L255.5,760.85 L256.0,760.72 L256.5,760.59 L257.0,760.46 L257.5,760.33 L258.0,760.21 L258.5,760.08 L259.0,759.96 L259.5,759.84 L260.0,759.72 L260.5,759.60 L261.0,759.48 L261.5,759.37 L262.0,759.25 L262.5,759.14 L263.0,759.03 L263.5,758.92 L264.0,758.82 L264.5,758.71 L265.0,758.61 L265.5,758.51 L266.0,758.42 L266.5,758.32 L267.0,758.23 L267.5,758.15 L268.0,758.06 L268.5,757.98 L269.0,757.90 L269.5,757.83 L270.0,757.75 L270.5,757.69 L271.0,757.62 L271.5,757.56 L272.0,757.51 L272.5,757.45 L273.0,757.40 L273.5,757.36 L274.0,757.32 L274.5,757.29 L275.0,757.26 L275.5,757.24 L276.0,757.22 L276.5,757.21 L277.0,757.20 L277.5,757.21 L278.0,757.22 L278.5,757.24 L279.0,757.27 L279.5,757.31 L280.0,757.36 L280.5,757.41 L281.0,757.48 L281.5,757.56 L282.0,757.64 L282.5,757.74 L283.0,757.84 L283.5,757.96 L284.0,758.08 L284.5,758.20 L285.0,758.34 L285.5,758.48 L286.0,758.62 L286.5,758.77 L287.0,758.93 L287.5,759.09 L288.0,759.25 L288.5,759.41 L289.0,759.58 L289.5,759.75 L290.0,759.92 L290.5,760.10 L291.0,760.28 L291.5,760.46 L292.0,760.64 L292.5,760.83 L293.0,761.03 L293.5,761.23 L294.0,761.43 L294.5,761.65 L295.0,761.86 L295.5,762.09 L296.0,762.32 L296.5,762.56 L297.0,762.80 L297.5,763.05 L298.0,763.30 L298.5,763.56 L299.0,763.81 L299.5,764.07 L300.0,764.33 L300.5,764.59 L301.0,764.84 L301.5,765.09 L302.0,765.34 L302.5,765.58 L303.0,765.82 L303.5,766.05 L304.0,766.27 L304.5,766.48 L305.0,766.69 L305.5,766.89 L306.0,767.08 L306.5,767.26 L307.0,767.43 L307.5,767.60 L308.0,767.76 L308.5,767.92 L309.0,768.07 L309.5,768.21 L310.0,768.35 L310.5,768.49 L311.0,768.62 L311.5,768.75 L312.0,768.87 L312.5,768.99 L313.0,769.11 L313.5,769.22 L314.0,769.33 L314.5,769.44 L315.0,769.55 L315.5,769.65 L316.0,769.75 L316.5,769.84 L317.0,769.93 L317.5,770.02 L318.0,770.11 L318.5,770.20 L319.0,770.28 L319.5,770.35 L320.0,770.43 L320.5,770.49 L321.0,770.55 L321.5,770.59 L322.0,770.62 L322.5,770.63 L323.0,770.62 L323.5,770.59 L324.0,770.52 L324.5,770.42 L325.0,770.28 L325.5,770.10 L326.0,769.88 L326.5,769.62 L327.0,769.32 L327.5,768.98 L328.0,768.61 L328.5,768.21 L329.0,767.79 L329.5,767.35 L330.0,766.88 L330.5,766.40 L331.0,765.90 L331.5,765.38 L332.0,764.82 L332.5,764.22 L333.0,763.56 L333.5,762.85 L334.0,762.07 L334.5,761.21 L335.0,760.26 L335.5,759.23 L336.0,758.12 L336.5,756.93 L337.0,755.66 L337.5,754.33 L338.0,752.94 L338.5,751.51 L339.0,750.04 L339.5,748.54 L340.0,747.01 L340.5,745.47 L341.0,743.91 L341.5,742.33 L342.0,740.74 L342.5,739.13 L343.0,737.51 L343.5,735.87 L344.0,734.23 L344.5,732.59 L345.0,730.96 L345.5,729.34 L346.0,727.76 L346.5,726.20 L347.0,724.69 L347.5,723.24 L348.0,721.84 L348.5,720.49 L349.0,719.20 L349.5,717.97 L350.0,716.78 L350.5,715.63 L351.0,714.51 L351.5,713.43 L352.0,712.36 L352.5,711.32 L353.0,710.28 L353.5,709.26 L354.0,708.25 L354.5,707.26 L355.0,706.28 L355.5,705.32 L356.0,704.40 L356.5,703.50 L357.0,702.64 L357.5,701.83 L358.0,701.05 L358.5,700.32 L359.0,699.63 L359.5,698.99 L360.0,698.39 L360.5,697.83 L361.0,697.31 L361.5,696.83 L362.0,696.37 L362.5,695.95 L363.0,695.56 L363.5,695.20 L364.0,694.86 L364.5,694.55 L365.0,694.26 L365.5,693.99 L366.0,693.75 L366.5,693.52 L367.0,693.31 L367.5,693.13 L368.0,692.96 L368.5,692.81 L369.0,692.69 L369.5,692.59 L370.0,692.52 L370.5,692.47 L371.0,692.45 L371.5,692.46 L372.0,692.51 L372.5,692.58 L373.0,692.69 L373.5,692.83 L374.0,693.00 L374.5,693.20 L375.0,693.44 L375.5,693.70 L376.0,694.00 L376.5,694.33 L377.0,694.70 L377.5,695.10 L378.0,695.54 L378.5,696.01 L379.0,696.52 L379.5,697.07 L380.0,697.65 L380.5,698.27 L381.0,698.93 L381.5,699.61 L382.0,700.33 L382.5,701.08 L383.0,701.85 L383.5,702.64 L384.0,703.45 L384.5,704.29 L385.0,705.14 L385.5,706.01 L386.0,706.90 L386.5,707.81 L387.0,708.74 L387.5,709.68 L388.0,710.65 L388.5,711.63 L389.0,712.63 L389.5,713.64 L390.0,714.68 L390.5,715.74 L391.0,716.81 L391.5,717.91 L392.0,719.03 L392.5,720.18 L393.0,721.35 L393.5,722.55 L394.0,723.77 L394.5,725.03 L395.0,726.32 L395.5,727.64 L396.0,728.98 L396.5,730.36 L397.0,731.76 L397.5,733.18 L398.0,734.61 L398.5,736.06 L399.0,737.51 L399.5,738.95 L400.0,740.39 L400.5,741.82 L401.0,743.22 L401.5,744.60 L402.0,745.95 L402.5,747.27 L403.0,748.55 L403.5,749.79 L404.0,751.00 L404.5,752.16 L405.0,753.29 L405.5,754.38 L406.0,755.44 L406.5,756.47 L407.0,757.47 L407.5,758.44 L408.0,759.39 L408.5,760.32 L409.0,761.23 L409.5,762.13 L410.0,763.01 L410.5,763.88 L411.0,764.73 L411.5,765.56 L412.0,766.38 L412.5,767.18 L413.0,767.96 L413.5,768.72 L414.0,769.45 L414.5,770.15 L415.0,770.82 L415.5,771.46 L416.0,772.07 L416.5,772.64 L417.0,773.17 L417.5,773.68 L418.0,774.15 L418.5,774.59 L419.0,775.01 L419.5,775.40 L420.0,775.78 L420.5,776.13 L421.0,776.47 L421.5,776.80 L422.0,777.11 L422.5,777.42 L423.0,777.72 L423.5,778.01 L424.0,778.30 L424.5,778.59 L425.0,778.87 L425.5,779.15 L426.0,779.42 L426.5,779.69 L427.0,779.96 L427.5,780.23 L428.0,780.49 L428.5,780.75 L429.0,781.01 L429.5,781.26 L430.0,781.50 L430.5,781.75 L431.0,781.98 L431.5,782.22 L432.0,782.45 L432.5,782.67 L433.0,782.89 L433.5,783.11 L434.0,783.32 L434.5,783.53 L435.0,783.74 L435.5,783.94 L436.0,784.14 L436.5,784.34 L437.0,784.54 L437.5,784.74 L438.0,784.94 L438.5,785.13 L439.0,785.33 L439.5,785.53 L440.0,785.73 L440.5,785.92 L441.0,786.12 L441.5,786.32 L442.0,786.52 L442.5,786.71 L443.0,786.91 L443.5,787.11 L444.0,787.30 L444.5,787.50 L445.0,787.70 L445.5,787.89 L446.0,788.09 L446.5,788.28 L447.0,788.48 L447.5,788.67 L448.0,788.86 L448.5,789.05 L449.0,789.23 L449.5,789.41 L450.0,789.59 L450.5,789.76 L451.0,789.93 L451.5,790.08 L452.0,790.24 L452.5,790.38 L453.0,790.52 L453.5,790.65 L454.0,790.78 L454.5,790.90 L455.0,791.01 L455.5,791.11 L456.0,791.21 L456.5,791.31 L457.0,791.40 L457.5,791.48 L458.0,791.55 L458.5,791.62 L459.0,791.69 L459.5,791.74 L460.0,791.79 L460.5,791.83 L461.0,791.87 L461.5,791.90 L462.0,791.93 L462.5,791.95 L463.0,791.96 L463.5,791.97 L464.0,791.98 L464.5,791.99 L465.0,791.99 L465.5,792.00 L466.0,792.00 L466.5,792.00 L467.0,792.00 L467.5,792.00 L468.0,792.00 L468.5,792.00 L469.0,792.00 L469.5,792.00 L470.0,792.00 L470.5,792.00 L471.0,792.00 L471.5,792.00 L472.0,792.00 L472.5,792.00 L473.0,792.00 L473.5,792.00 L474.0,792.00 L474.5,792.00 L475.0,792.00 L475.5,792.00 L476.0,792.00 L476.5,792.00 L477.0,792.00 L477.5,792.00 L478.0,792.00 L478.5,792.00 L479.0,792.00 L479.5,792.00 L480.0,792.00 L480.5,792.00 L481.0,792.00 L481.5,792.00 L482.0,792.00 L482.5,792.00 L483.0,792.00 L483.5,792.00 L484.0,792.00 L484.5,792.00 L485.0,792.00 L485.5,792.00 L486.0,792.00 L486.5,792.00 L487.0,792.00 L487.5,792.00 L488.0,792.00 L488.5,792.00 L489.0,792.00 L489.5,792.00 L490.0,792.00 L490.5,792.00 L491.0,792.00 L491.5,792.00 L492.0,792.00 L492.5,792.00 L493.0,792.00 L493.5,792.00 L494.0,792.00 L494.5,792.00 L495.0,792.00 L495.5,792.00 L496.0,792.00 L496.5,792.00 L497.0,792.00 L497.5,792.00 L498.0,792.00 L498.5,792.00 L499.0,792.00 L499.5,792.00 L500.0,792.00 L500.5,792.00 L501.0,792.00 L501.5,792.00 L502.0,792.00 L502.5,792.00 L503.0,792.00 L503.5,792.00 L504.0,792.00 L504.5,792.00 L505.0,792.00 L505.5,792.00 L506.0,792.00 L506.5,792.00 L507.0,792.00 L507.5,792.00 L508.0,791.99 L508.5,791.99 L509.0,791.98 L509.5,791.97 L510.0,791.96 L510.5,791.95 L511.0,791.93 L511.5,791.91 L512.0,791.88 L512.5,791.84 L513.0,791.80 L513.5,791.75 L514.0,791.70 L514.5,791.64 L515.0,791.58 L515.5,791.50 L516.0,791.42 L516.5,791.34 L517.0,791.24 L517.5,791.14 L518.0,791.03 L518.5,790.91 L519.0,790.78 L519.5,790.64 L520.0,790.49 L520.5,790.34 L521.0,790.17 L521.5,790.00 L522.0,789.81 L522.5,789.62 L523.0,789.42 L523.5,789.21 L524.0,788.99 L524.5,788.77 L525.0,788.54 L525.5,788.30 L526.0,788.06 L526.5,787.81 L527.0,787.56 L527.5,787.31 L528.0,787.05 L528.5,786.78 L529.0,786.52 L529.5,786.25 L530.0,785.98 L530.5,785.71 L531.0,785.44 L531.5,785.17 L532.0,784.89 L532.5,784.61 L533.0,784.34 L533.5,784.05 L534.0,783.77 L534.5,783.48 L535.0,783.19 L535.5,782.89 L536.0,782.59 L536.5,782.28 L537.0,781.97 L537.5,781.65 L538.0,781.33 L538.5,781.00 L539.0,780.67 L539.5,780.33 L540.0,780.00 L540.5,779.66 L541.0,779.32 L541.5,778.99 L542.0,778.65 L542.5,778.32 L543.0,778.00 L543.5,777.68 L544.0,777.36 L544.5,777.06 L545.0,776.76 L545.5,776.47 L546.0,776.19 L546.5,775.92 L547.0,775.66 L547.5,775.41 L548.0,775.16 L548.5,774.93 L549.0,774.70 L549.5,774.48 L550.0,774.27 L550.5,774.06 L551.0,773.86 L551.5,773.67 L552.0,773.48 L552.5,773.30 L553.0,773.12 L553.5,772.96 L554.0,772.79 L554.5,772.64 L555.0,772.49 L555.5,772.35 L556.0,772.22 L556.5,772.10 L557.0,771.98 L557.5,771.87 L558.0,771.77 L558.5,771.67 L559.0,771.58 L559.5,771.50 L560.0,771.42 L560.5,771.35 L561.0,771.28 L561.5,771.21 L562.0,771.15 L562.5,771.09 L563.0,771.03 L563.5,770.97 L564.0,770.92 L564.5,770.87 L565.0,770.82 L565.5,770.77 L566.0,770.73 L566.5,770.68 L567.0,770.64 L567.5,770.60 L568.0,770.56 L568.5,770.51 L569.0,770.47 L569.5,770.43 L570.0,770.39 L570.5,770.36 L571.0,770.32 L571.5,770.28 L572.0,770.24 L572.5,770.20 L573.0,770.16 L573.5,770.12 L574.0,770.08 L574.5,770.04 L575.0,769.99 L575.5,769.95 L576.0,769.91 L576.5,769.86 L577.0,769.82 L577.5,769.77 L578.0,769.73 L578.5,769.68 L579.0,769.64 L579.5,769.59 L580.0,769.55 L580.5,769.50 L581.0,769.45 L581.5,769.41 L582.0,769.36 L582.5,769.31 L583.0,769.27 L583.5,769.22 L584.0,769.18 L584.5,769.13 L585.0,769.08 L585.5,769.04 L586.0,768.99 L586.5,768.95 L587.0,768.90 L587.5,768.85 L588.0,768.81 L588.5,768.76 L589.0,768.71 L589.5,768.67 L590.0,768.62 L590.5,768.57 L591.0,768.53 L591.5,768.48 L592.0,768.43 L592.5,768.39 L593.0,768.34 L593.5,768.29 L594.0,768.24 L594.5,768.19 L595.0,768.14 L595.5,768.09 L596.0,768.04 L596.5,767.99 L597.0,767.94 L597.5,767.89 L598.0,767.84 L598.5,767.79 L599.0,767.74 L599.5,767.69 L600.0,767.63 L600.5,767.58 L601.0,767.52 L601.5,767.47 L602.0,767.41 L602.5,767.36 L603.0,767.30 L603.5,767.24 L604.0,767.18 L604.5,767.12 L605.0,767.06 L605.5,767.00 L606.0,766.93 L606.5,766.87 L607.0,766.80 L607.5,766.73 L608.0,766.67 L608.5,766.60 L609.0,766.53 L609.5,766.46 L610.0,766.39 L610.5,766.31 L611.0,766.24 L611.5,766.17 L612.0,766.10 L612.5,766.02 L613.0,765.95 L613.5,765.87 L614.0,765.80 L614.5,765.72 L615.0,765.65 L615.5,765.57 L616.0,765.50 L616.5,765.42 L617.0,765.35 L617.5,765.28 L618.0,765.20 L618.5,765.13 L619.0,765.06 L619.5,764.98 L620.0,764.91 L620.5,764.84 L621.0,764.77 L621.5,764.70 L622.0,764.64 L622.5,764.57 L623.0,764.50 L623.5,764.44 L624.0,764.37 L624.5,764.31 L625.0,764.25 L625.5,764.19 L626.0,764.13 L626.5,764.07 L627.0,764.01 L627.5,763.96 L628.0,763.90 L628.5,763.85 L629.0,763.80 L629.5,763.74 L630.0,763.69 L630.5,763.64 L631.0,763.59 L631.5,763.54 L632.0,763.49 L632.5,763.44 L633.0,763.38 L633.5,763.33 L634.0,763.28 L634.5,763.23 L635.0,763.18 L635.5,763.13 L636.0,763.08 L636.5,763.03 L637.0,762.98 L637.5,762.93 L638.0,762.89 L638.5,762.84 L639.0,762.79 L639.5,762.75 L640.0,762.70 L640.5,762.66 L641.0,762.62 L641.5,762.58 L642.0,762.54 L642.5,762.50 L643.0,762.46 L643.5,762.43 L644.0,762.39 L644.5,762.36 L645.0,762.33 L645.5,762.30 L646.0,762.28 L646.5,762.25 L647.0,762.23 L647.5,762.21 L648.0,762.19 L648.5,762.18 L649.0,762.17 L649.5,762.16 L650.0,762.16 L650.5,762.16 L651.0,762.17 L651.5,762.18 L652.0,762.19 L652.5,762.21 L653.0,762.24 L653.5,762.27 L654.0,762.31 L654.5,762.36 L655.0,762.41 L655.5,762.47 L656.0,762.53 L656.5,762.59 L657.0,762.66 L657.5,762.74 L658.0,762.82 L658.5,762.90 L659.0,762.99 L659.5,763.08 L660.0,763.17 L660.5,763.27 L661.0,763.37 L661.5,763.47 L662.0,763.57 L662.5,763.68 L663.0,763.79 L663.5,763.91 L664.0,764.03 L664.5,764.16 L665.0,764.29 L665.5,764.43 L666.0,764.58 L666.5,764.73 L667.0,764.89 L667.5,765.05 L668.0,765.22 L668.5,765.40 L669.0,765.57 L669.5,765.76 L670.0,765.95 L670.5,766.14 L671.0,766.33 L671.5,766.52 L672.0,766.72 L672.5,766.92 L673.0,767.12 L673.5,767.31 L674.0,767.51 L674.5,767.70 L675.0,767.89 L675.5,768.08 L676.0,768.27 L676.5,768.45 L677.0,768.63 L677.5,768.80 L678.0,768.97 L678.5,769.14 L679.0,769.30 L679.5,769.45 L680.0,769.61 L680.5,769.75 L681.0,769.90 L681.5,770.04 L682.0,770.18 L682.5,770.32 L683.0,770.46 L683.5,770.59 L684.0,770.73 L684.5,770.86 L685.0,770.99 L685.5,771.12 L686.0,771.25 L686.5,771.38 L687.0,771.50 L687.5,771.62 L688.0,771.75 L688.5,771.86 L689.0,771.98 L689.5,772.09 L690.0,772.20 L690.5,772.30 L691.0,772.40 L691.5,772.50 L692.0,772.59 L692.5,772.68 L693.0,772.76 L693.5,772.83 L694.0,772.90 L694.5,772.97 L695.0,773.02 L695.5,773.08 L696.0,773.12 L696.5,773.16 L697.0,773.20 L697.5,773.23 L698.0,773.26 L698.5,773.28 L699.0,773.30 L699.5,773.32 L700.0,773.34 L700.5,773.35 L701.0,773.36 L701.5,773.37 L702.0,773.38 L702.5,773.39 L703.0,773.40 L703.5,773.40 L704.0,773.41 L704.5,773.42 L705.0,773.42 L705.5,773.43 L706.0,773.44 L706.5,773.44 L707.0,773.45 L707.5,773.45 L708.0,773.46 L708.5,773.46 L709.0,773.46 L709.5,773.47 L710.0,773.47 L710.5,773.48 L711.0,773.48 L711.5,773.49 L712.0,773.49 L712.5,773.50 L713.0,773.50 L713.5,773.51 L714.0,773.51 L714.5,773.52 L715.0,773.52 L715.5,773.53 L716.0,773.54 L716.5,773.55 L717.0,773.55 L717.5,773.56 L718.0,773.57 L718.5,773.58 L719.0,773.59 L719.5,773.60 L720.0,773.61 L720.5,773.62 L721.0,773.63 L721.5,773.64 L722.0,773.65 L722.5,773.66 L723.0,773.67 L723.5,773.69 L724.0,773.70 L724.5,773.71 L725.0,773.73 L725.5,773.74 L726.0,773.76 L726.5,773.77 L727.0,773.79 L727.5,773.80 L728.0,773.82 L728.5,773.84 L729.0,773.86 L729.5,773.88 L730.0,773.90 L730.5,773.92 L731.0,773.94 L731.5,773.96 L732.0,773.98 L732.5,774.00 L733.0,774.03 L733.5,774.05 L734.0,774.08 L734.5,774.11 L735.0,774.13 L735.5,774.16 L736.0,774.19 L736.5,774.22 L737.0,774.25 L737.5,774.28 L738.0,774.31 L738.5,774.35 L739.0,774.38 L739.5,774.42 L740.0,774.46 L740.5,774.49 L741.0,774.53 L741.5,774.58 L742.0,774.62 L742.5,774.66 L743.0,774.71 L743.5,774.76 L744.0,774.82 L744.5,774.88 L745.0,774.95 L745.5,775.02 L746.0,775.10 L746.5,775.20 L747.0,775.30 L747.5,775.41 L748.0,775.53 L748.5,775.67 L749.0,775.82 L749.5,775.98 L750.0,776.15 L750.5,776.33 L751.0,776.52 L751.5,776.71 L752.0,776.92 L752.5,777.12 L753.0,777.33 L753.5,777.54 L754.0,777.76 L754.5,777.97 L755.0,778.18 L755.5,778.39 L756.0,778.60 L756.5,778.81 L757.0,779.01 L757.5,779.21 L758.0,779.42 L758.5,779.62 L759.0,779.81 L759.5,780.01 L760.0,780.21 L760.5,780.41 L761.0,780.61 L761.5,780.80 L762.0,781.00 L762.5,781.20 L763.0,781.40 L763.5,781.60 L764.0,781.80 L764.5,782.01 L765.0,782.21 L765.5,782.41 L766.0,782.62 L766.5,782.83 L767.0,783.03 L767.5,783.24 L768.0,783.46 L768.5,783.67 L769.0,783.88 L769.5,784.10 L770.0,784.32 L770.5,784.54 L771.0,784.76 L771.5,784.98 L772.0,785.21 L772.5,785.44 L773.0,785.66 L773.5,785.89 L774.0,786.12 L774.5,786.35 L775.0,786.58 L775.5,786.81 L776.0,787.04 L776.5,787.27 L777.0,787.50 L777.5,787.73 L778.0,787.95 L778.5,788.18 L779.0,788.41 L779.5,788.64 L780.0,788.87 L780.5,789.10 L781.0,789.32 L781.5,789.55 L782.0,789.77 L782.5,790.00 L783.0,790.21 L783.5,790.42 L784.0,790.62 L784.5,790.81 L785.0,790.99 L785.5,791.15 L786.0,791.30 L786.5,791.43 L787.0,791.54 L787.5,791.63 L788.0,791.71 L788.5,791.77 L789.0,791.83 L789.5,791.87 L790.0,791.90 L790.5,791.92 L791.0,791.94 L791.5,791.96 L792.0,791.97 L792.5,791.98 L793.0,791.98 L793.5,791.99 L794.0,791.99 L794.5,791.99 L795.0,791.99 L795.5,792.00 L796.0,792.00 L796.5,792.00 L797.0,792.00 L797.5,792.00 L798.0,792.00 L798.5,792.00 L799.0,792.00 L799.5,792.00 L800.0,792.00 L800.5,792.00 L801.0,792.00 L801.5,792.00 L802.0,792.00 L802.5,792.00 L803.0,792.00 L803.5,792.00 L804.0,792.00 L804.5,792.00 L805.0,792.00 L805.5,792.00 L806.0,792.00 L806.5,792.00 L807.0,792.00 L807.5,792.00 L808.0,792.00 L808.5,792.00 L809.0,792.00 L809.5,792.00 L810.0,792.00 L810.5,792.00 L811.0,792.00 L811.5,792.00 L812.0,792.00 L812.5,792.00 L813.0,792.00 L813.5,792.00 L814.0,792.00 L814.5,792.00 L815.0,792.00 L815.5,792.00 L816.0,792.00 L816.5,792.00 L817.0,792.00 L817.5,792.00 L818.0,792.00 L818.5,792.00 L819.0,792.00 L819.5,792.00 L820.0,792.00 L820.5,792.00 L821.0,792.00 L821.5,792.00 L822.0,792.00 L822.5,792.00 L823.0,792.00 L823.5,792.00 L824.0,792.00 L824.5,792.00 L825.0,792.00 L825.5,792.00 L826.0,792.00 L826.5,792.00 L827.0,792.00 L827.5,792.00 L828.0,792.00 L828.5,792.00 L829.0,792.00 L829.5,792.00 L830.0,792.00 L830.5,792.00 L831.0,792.00 L831.5,792.00 L832.0,792.00 L832.5,792.00 L833.0,792.00 L833.5,792.00 L834.0,792.00 L834.5,792.00 L835.0,792.00 L835.5,792.00 L836.0,792.00 L836.5,792.00 L837.0,792.00 L837.5,792.00 L838.0,792.00 L838.5,792.00 L839.0,792.00 L839.5,792.00 L840.0,792.00 L840.5,792.00 L841.0,792.00 L841.5,792.00 L842.0,792.00 L842.5,792.00 L843.0,792.00 L843.5,792.00 L844.0,792.00 L844.5,792.00 L845.0,792.00 L845.5,792.00 L846.0,792.00 L846.5,792.00 L847.0,792.00 L847.5,792.00 L848.0,792.00 L848.5,792.00 L849.0,791.99 L849.5,791.99 L850.0,791.99 L850.5,791.98 L851.0,791.98 L851.5,791.97 L852.0,791.97 L852.5,791.96 L853.0,791.95 L853.5,791.94 L854.0,791.92 L854.5,791.91 L855.0,791.89 L855.5,791.87 L856.0,791.85 L856.5,791.83 L857.0,791.81 L857.5,791.78 L858.0,791.76 L858.5,791.73 L859.0,791.70 L859.5,791.67 L860.0,791.63 L860.5,791.60 L861.0,791.56 L861.5,791.52 L862.0,791.48 L862.5,791.44 L863.0,791.40 L863.5,791.35 L864.0,791.30 L864.5,791.25 L865.0,791.20 L865.5,791.15 L866.0,791.09 L866.5,791.04 L867.0,790.98 L867.5,790.92 L868.0,790.86 L868.5,790.79 L869.0,790.72 L869.5,790.65 L870.0,790.58 L870.5,790.50 L871.0,790.41 L871.5,790.32 L872.0,790.21 L872.5,790.10 L873.0,789.96 L873.5,789.81 L874.0,789.63 L874.5,789.42 L875.0,789.19 L875.5,788.92 L876.0,788.62 L876.5,788.27 L877.0,787.89 L877.5,787.47 L878.0,787.01 L878.5,786.52 L879.0,785.98 L879.5,785.40 L880.0,784.79 L880.5,784.15 L881.0,783.47 L881.5,782.77 L882.0,782.03 L882.5,781.27 L883.0,780.49 L883.5,779.69 L884.0,778.86 L884.5,778.02 L885.0,777.16 L885.5,776.29 L886.0,775.40 L886.5,774.49 L887.0,773.58 L887.5,772.65 L888.0,771.70 L888.5,770.74 L889.0,769.76 L889.5,768.76 L890.0,767.74 L890.5,766.69 L891.0,765.62 L891.5,764.51 L892.0,763.38 L892.5,762.21 L893.0,761.01 L893.5,759.77 L894.0,758.50 L894.5,757.18 L895.0,755.83 L895.5,754.44 L896.0,753.01 L896.5,751.55 L897.0,750.04 L897.5,748.48 L898.0,746.89 L898.5,745.24 L899.0,743.55 L899.5,741.81 L900.0,740.01 L900.5,738.15 L901.0,736.22 L901.5,734.22 L902.0,732.14 L902.5,729.97 L903.0,727.70 L903.5,725.34 L904.0,722.87 L904.5,720.31 L905.0,717.65 L905.5,714.91 L906.0,712.08 L906.5,709.19 L907.0,706.25 L907.5,703.27 L908.0,700.26 L908.5,697.24 L909.0,694.22 L909.5,691.21 L910.0,688.21 L910.5,685.24 L911.0,682.30 L911.5,679.38 L912.0,676.51 L912.5,673.68 L913.0,670.91 L913.5,668.18 L914.0,665.52 L914.5,662.93 L915.0,660.41 L915.5,657.96 L916.0,655.59 L916.5,653.29 L917.0,651.07 L917.5,648.93 L918.0,646.85 L918.5,644.85 L919.0,642.92 L919.5,641.05 L920.0,639.25 L920.5,637.51 L921.0,635.83 L921.5,634.22 L922.0,632.68 L922.5,631.20 L923.0,629.79 L923.5,628.45 L924.0,627.18 L924.5,625.98 L925.0,624.85 L925.5,623.79 L926.0,622.79 L926.5,621.86 L927.0,621.00 L927.5,620.20 L928.0,619.47 L928.5,618.81 L929.0,618.23 L929.5,617.72 L930.0,617.30 L930.5,616.97 L931.0,616.73 L931.5,616.58 L932.0,616.53 L932.5,616.58 L933.0,616.73 L933.5,616.97 L934.0,617.30 L934.5,617.73 L935.0,618.23 L935.5,618.82 L936.0,619.48 L936.5,620.22 L937.0,621.02 L937.5,621.89 L938.0,622.84 L938.5,623.85 L939.0,624.92 L939.5,626.07 L940.0,627.29 L940.5,628.57 L941.0,629.93 L941.5,631.35 L942.0,632.84 L942.5,634.39 L943.0,635.99 L943.5,637.65 L944.0,639.37 L944.5,641.13 L945.0,642.94 L945.5,644.80 L946.0,646.70 L946.5,648.65 L947.0,650.65 L947.5,652.70 L948.0,654.80 L948.5,656.94 L949.0,659.13 L949.5,661.37 L950.0,663.66 L950.5,665.98 L951.0,668.35 L951.5,670.74 L952.0,673.16 L952.5,675.61 L953.0,678.07 L953.5,680.54 L954.0,683.02 L954.5,685.51 L955.0,688.00 L955.5,690.49 L956.0,692.97 L956.5,695.46 L957.0,697.94 L957.5,700.41 L958.0,702.87 L958.5,705.32 L959.0,707.75 L959.5,710.17 L960.0,712.55 L960.5,714.91 L961.0,717.23 L961.5,719.51 L962.0,721.76 L962.5,723.96 L963.0,726.13 L963.5,728.25 L964.0,730.34 L964.5,732.39 L965.0,734.40 L965.5,736.38 L966.0,738.33 L966.5,740.25 L967.0,742.14 L967.5,744.00 L968.0,745.83 L968.5,747.62 L969.0,749.38 L969.5,751.11 L970.0,752.80 L970.5,754.44 L971.0,756.05 L971.5,757.60 L972.0,759.12 L972.5,760.58 L973.0,762.00 L973.5,763.37 L974.0,764.69 L974.5,765.96 L975.0,767.19 L975.5,768.38 L976.0,769.53 L976.5,770.65 L977.0,771.73 L977.5,772.78 L978.0,773.81 L978.5,774.81 L979.0,775.79 L979.5,776.75 L980.0,777.68 L980.5,778.60 L981.0,779.49 L981.5,780.36 L982.0,781.20 L982.5,782.01 L983.0,782.79 L983.5,783.54 L984.0,784.25 L984.5,784.93 L985.0,785.57 L985.5,786.16 L986.0,786.71 L986.5,787.22 L987.0,787.68 L987.5,788.10 L988.0,788.48 L988.5,788.81 L989.0,789.10 L989.5,789.36 L990.0,789.58 L990.5,789.77 L991.0,789.93 L991.5,790.07 L992.0,790.20 L992.5,790.30 L993.0,790.40 L993.5,790.49 L994.0,790.57 L994.5,790.64 L995.0,790.71 L995.5,790.78 L996.0,790.84 L996.5,790.90 L997.0,790.96 L997.5,791.02 L998.0,791.07 L998.5,791.13 L999.0,791.18 L999.5,791.23 L1000.0,791.28 L1000.5,791.32 L1001.0,791.37 L1001.5,791.41 L1002.0,791.45 L1002.5,791.50 L1003.0,791.53 L1003.5,791.57 L1004.0,791.61 L1004.5,791.64 L1005.0,791.67 L1005.5,791.70 L1006.0,791.73 L1006.5,791.76 L1007.0,791.78 L1007.5,791.81 L1008.0,791.83 L1008.5,791.85 L1009.0,791.87 L1009.5,791.89 L1010.0,791.90 L1010.5,791.92 L1011.0,791.93 L1011.5,791.94 L1012.0,791.95 L1012.5,791.96 L1013.0,791.97 L1013.5,791.98 L1014.0,791.98 L1014.5,791.99 L1015.0,791.99 L1015.5,791.99 L1016.0,791.99 L1016.5,792.00 L1017.0,792.00 L1017.5,792.00 L1018.0,792.00 L1018.5,792.00 L1019.0,792.00 L1019.5,792.00 L1020.0,792.00 L1020.5,792.00 L1021.0,792.00 L1021.5,792.00 L1022.0,792.00 L1022.5,792.00 L1023.0,792.00 L1023.5,792.00 L1024.0,792.00 L1024.5,792.00 L1025.0,792.00 L1025.5,792.00 L1026.0,792.00 L1026.5,792.00 L1027.0,792.00 L1027.5,792.00 L1028.0,792.00 L1028.5,792.00 L1029.0,792.00 L1029.5,792.00 L1030.0,792.00 L1030.5,792.00 L1031.0,792.00 L1031.5,792.00 L1032.0,792.00 L1032.5,792.00 L1033.0,792.00 L1033.5,792.00 L1034.0,792.00 L1034.5,792.00 L1035.0,792.00 L1035.5,792.00 L1036.0,792.00 L1036.5,792.00 L1037.0,792.00 L1037.5,792.00 L1038.0,792.00 L1038.5,792.00 L1039.0,792.00 L1039.5,792.00 L1040.0,792.00 L1040.5,792.00 L1041.0,792.00 L1041.5,792.00 L1042.0,792.00 L1042.5,792.00 L1043.0,792.00 L1043.5,792.00 L1044.0,792.00 L1044.5,792.00 L1045.0,792.00 L1045.5,792.00 L1046.0,792.00 L1046.5,792.00 L1047.0,792.00 L1047.5,792.00 L1048.0,792.00 L1048.5,792.00 L1049.0,792.00 L1049.5,792.00 L1050.0,792.00 L1050.5,792.00 L1051.0,792.00 L1051.5,792.00 L1052.0,792.00 L1052.5,792.00 L1053.0,792.00 L1053.5,792.00 L1054.0,792.00 L1054.5,792.00 L1055.0,792.00 L1055.5,792.00 L1056.0,792.00 L1056.5,792.00 L1057.0,792.00 L1057.5,792.00 L1058.0,792.00 L1058.5,792.00 L1059.0,792.00 L1059.5,792.00 L1060.0,792.00 L1060.5,792.00 L1061.0,792.00 L1061.5,792.00 L1062.0,792.00 L1062.5,792.00 L1063.0,792.00 L1063.5,792.00 L1064.0,792.00 L1064.5,792.00 L1065.0,792.00 L1065.5,792.00 L1066.0,792.00 L1066.5,792.00 L1067.0,792.00 L1067.5,792.00 L1068.0,792.00 L1068.5,792.00 L1069.0,792.00 L1069.5,792.00 L1070.0,792.00 L1070.5,792.00 L1071.0,792.00 L1071.5,792.00 L1072.0,792.00 L1072.5,792.00 L1073.0,792.00 L1073.5,792.00 L1074.0,792.00 L1074.5,792.00 L1075.0,792.00 L1075.5,792.00 L1076.0,792.00 L1076.5,792.00 L1077.0,792.00 L1077.5,792.00 L1078.0,792.00 L1078.5,792.00 L1079.0,792.00 L1079.5,792.00 L1080.0,792.00 L1080.5,792.00 L1081.0,792.00 L1081.5,792.00 L1082.0,792.00 L1082.5,792.00 L1083.0,792.00 L1083.5,792.00 L1084.0,792.00 L1084.5,792.00 L1085.0,792.00 L1085.5,792.00 L1086.0,792.00 L1086.5,792.00 L1087.0,792.00 L1087.5,792.00 L1088.0,792.00 L1088.5,792.00 L1089.0,792.00 L1089.5,792.00 L1090.0,792.00 L1090.5,792.00 L1091.0,792.00 L1091.5,792.00 L1092.0,792.00 L1092.5,792.00 L1093.0,792.00 L1093.5,792.00 L1094.0,792.00 L1094.5,792.00 L1095.0,792.00 L1095.5,792.00 L1096.0,792.00 L1096.5,792.00 L1097.0,792.00 L1097.5,792.00 L1098.0,792.00 L1098.5,792.00 L1099.0,792.00 L1099.5,792.00 L1100.0,792.00 L1100.5,792.00 L1101.0,792.00 L1101.5,792.00 L1102.0,792.00 L1102.5,792.00 L1103.0,792.00 L1103.5,792.00 L1104.0,792.00 L1104.5,792.00 L1105.0,792.00 L1105.5,792.00 L1106.0,792.00 L1106.5,792.00 L1107.0,792.00 L1107.5,792.00 L1108.0,792.00 L1108.5,792.00 L1109.0,792.00 L1109.5,792.00 L1110.0,792.00 L1110.5,792.00 L1111.0,792.00 L1111.5,792.00 L1112.0,792.00 L1112.5,792.00 L1113.0,792.00 L1113.5,792.00 L1114.0,792.00 L1114.5,792.00 L1115.0,792.00 L1115.5,792.00 L1116.0,792.00 L1116.5,792.00 L1117.0,792.00 L1117.5,792.00 L1118.0,792.00 L1118.5,792.00 L1119.0,792.00 L1119.5,792.00 L1120.0,792.00 L1120.5,792.00 L1121.0,792.00 L1121.5,792.00 L1122.0,792.00 L1122.5,792.00 L1123.0,792.00 L1123.5,792.00 L1124.0,792.00 L1124.5,792.00 L1125.0,792.00 L1125.5,792.00 L1126.0,792.00 L1126.5,792.00 L1127.0,792.00 L1127.5,792.00 L1128.0,792.00 L1128.5,792.00 L1129.0,792.00 L1129.5,792.00 L1130.0,792.00 L1130.5,792.00 L1131.0,792.00 L1131.5,792.00 L1132.0,792.00 L1132.5,792.00 L1133.0,792.00 L1133.5,792.00 L1134.0,792.00 L1134.5,792.00 L1135.0,792.00 L1135.5,792.00 L1136.0,792.00 L1136.5,792.00 L1137.0,792.00 L1137.5,792.00 L1138.0,792.00 L1138.5,792.00 L1139.0,792.00 L1139.5,792.00 L1140.0,792.00 L1140.5,792.00 L1141.0,792.00 L1141.5,792.00 L1142.0,792.00 L1142.5,792.00 L1143.0,792.00 L1143.5,792.00 L1144.0,792.00 L1144.5,792.00 L1145.0,792.00 L1145.5,792.00 L1146.0,792.00 L1146.5,792.00 L1147.0,792.00 L1147.5,792.00 L1148.0,792.00 L1148.5,792.00 L1149.0,792.00 L1149.5,792.00 L1150.0,792.00 L1150.5,792.00 L1151.0,792.00 L1151.5,792.00 L1152.0,792.00 L1152.5,792.00 L1153.0,792.00 L1153.5,792.00 L1154.0,792.00 L1154.5,792.00 L1155.0,792.00 L1155.5,792.00 L1156.0,792.00 L1156.5,792.00 L1157.0,792.00 L1157.5,792.00 L1158.0,792.00 L1158.5,792.00 L1159.0,792.00 L1159.5,792.00 L1160.0,792.00 L1160.5,792.00 L1161.0,792.00 L1161.5,792.00 L1162.0,792.00 L1162.5,792.00 L1163.0,792.00 L1163.5,792.00 L1164.0,792.00 L1164.5,792.00 L1165.0,792.00 L1165.5,792.00 L1166.0,792.00 L1166.5,792.00 L1167.0,792.00 L1167.5,792.00 L1168.0,792.00 L1168.5,792.00 L1169.0,792.00 L1169.5,792.00 L1170.0,792.00 L1170.5,792.00 L1171.0,792.00 L1171.5,792.00 L1172.0,792.00 L1172.5,792.00 L1173.0,792.00 L1173.5,792.00 L1174.0,792.00 L1174.5,792.00 L1175.0,792.00 L1175.5,792.00 L1176.0,792.00 L1176.5,792.00 L1177.0,792.00 L1177.0,792 Z"/>
</defs>
<g clip-path="url(#cl)">
<use href="#ar" fill="#f69484"/>
<use href="#ao" fill="#fad386"/>
<use href="#ag" fill="#8edaae"/>
</g>
<g clip-path="url(#cr)">
<use href="#ar" fill="#f8a294"/>
<use href="#ao" fill="#fbdb9a"/>
<use href="#ag" fill="#a0e1be"/>
</g>
<path d="M137.5,791.99 L138.0,791.98 L138.5,791.98 L139.0,791.97 L139.5,791.97 L140.0,791.96 L140.5,791.96 L141.0,791.95 L141.5,791.95 L142.0,791.94 L142.5,791.93 L143.0,791.93 L143.5,791.92 L144.0,791.92 L144.5,791.91 L145.0,791.91 L145.5,791.90 L146.0,791.90 L146.5,791.89 L147.0,791.89 L147.5,791.88 L148.0,791.88 L148.5,791.87 L149.0,791.87 L149.5,791.86 L150.0,791.86 L150.5,791.85 L151.0,791.85 L151.5,791.84 L152.0,791.84 L152.5,791.83 L153.0,791.83 L153.5,791.82 L154.0,791.82 L154.5,791.81 L155.0,791.81 L155.5,791.80 L156.0,791.80 L156.5,791.79 L157.0,791.78 L157.5,791.78 L158.0,791.77 L158.5,791.77 L159.0,791.76 L159.5,791.76 L160.0,791.75 L160.5,791.74 L161.0,791.74 L161.5,791.73 L162.0,791.72 L162.5,791.72 L163.0,791.71 L163.5,791.70 L164.0,791.69 L164.5,791.69 L165.0,791.68 L165.5,791.67 L166.0,791.66 L166.5,791.65 L167.0,791.64 L167.5,791.63 L168.0,791.62 L168.5,791.61 L169.0,791.60 L169.5,791.59 L170.0,791.58 L170.5,791.57 L171.0,791.56 L171.5,791.55 L172.0,791.53 L172.5,791.52 L173.0,791.51 L173.5,791.49 L174.0,791.47 L174.5,791.46 L175.0,791.44 L175.5,791.41 L176.0,791.39 L176.5,791.35 L177.0,791.32 L177.5,791.28 L178.0,791.23 L178.5,791.18 L179.0,791.12 L179.5,791.05 L180.0,790.98 L180.5,790.89 L181.0,790.80 L181.5,790.70 L182.0,790.60 L182.5,790.48 L183.0,790.36 L183.5,790.24 L184.0,790.10 L184.5,789.97 L185.0,789.82 L185.5,789.67 L186.0,789.52 L186.5,789.36 L187.0,789.20 L187.5,789.03 L188.0,788.87 L188.5,788.70 L189.0,788.52 L189.5,788.35 L190.0,788.17 L190.5,788.00 L191.0,787.82 L191.5,787.64 L192.0,787.47 L192.5,787.29 L193.0,787.11 L193.5,786.93 L194.0,786.76 L194.5,786.58 L195.0,786.41 L195.5,786.23 L196.0,786.05 L196.5,785.88 L197.0,785.70 L197.5,785.52 L198.0,785.34 L198.5,785.16 L199.0,784.97 L199.5,784.78 L200.0,784.59 L200.5,784.40 L201.0,784.21 L201.5,784.01 L202.0,783.82 L202.5,783.62 L203.0,783.41 L203.5,783.21 L204.0,783.01 L204.5,782.80 L205.0,782.60 L205.5,782.39 L206.0,782.18 L206.5,781.97 L207.0,781.76 L207.5,781.55 L208.0,781.34 L208.5,781.13 L209.0,780.92 L209.5,780.71 L210.0,780.50 L210.5,780.29 L211.0,780.08 L211.5,779.87 L212.0,779.66 L212.5,779.45 L213.0,779.25 L213.5,779.04 L214.0,778.83 L214.5,778.63 L215.0,778.43 L215.5,778.22 L216.0,778.02 L216.5,777.82 L217.0,777.62 L217.5,777.42 L218.0,777.21 L218.5,777.01 L219.0,776.81 L219.5,776.61 L220.0,776.41 L220.5,776.21 L221.0,776.01 L221.5,775.81 L222.0,775.61 L222.5,775.41 L223.0,775.21 L223.5,775.01 L224.0,774.80 L224.5,774.60 L225.0,774.40 L225.5,774.19 L226.0,773.99 L226.5,773.78 L227.0,773.58 L227.5,773.37 L228.0,773.16 L228.5,772.95 L229.0,772.74 L229.5,772.53 L230.0,772.32 L230.5,772.10 L231.0,771.89 L231.5,771.67 L232.0,771.45 L232.5,771.22 L233.0,771.00 L233.5,770.77 L234.0,770.54 L234.5,770.30 L235.0,770.06 L235.5,769.81 L236.0,769.57 L236.5,769.32 L237.0,769.06 L237.5,768.80 L238.0,768.54 L238.5,768.28 L239.0,768.02 L239.5,767.75 L240.0,767.48 L240.5,767.21 L241.0,766.95 L241.5,766.68 L242.0,766.41 L242.5,766.14 L243.0,765.88 L243.5,765.62 L244.0,765.36 L244.5,765.10 L245.0,764.84 L245.5,764.59 L246.0,764.35 L246.5,764.11 L247.0,763.87 L247.5,763.64 L248.0,763.42 L248.5,763.20 L249.0,762.99 L249.5,762.79 L250.0,762.59 L250.5,762.40 L251.0,762.22 L251.5,762.05 L252.0,761.88 L252.5,761.72 L253.0,761.56 L253.5,761.41 L254.0,761.26 L254.5,761.12 L255.0,760.99 L255.5,760.85 L256.0,760.72 L256.5,760.59 L257.0,760.46 L257.5,760.33 L258.0,760.21 L258.5,760.08 L259.0,759.96 L259.5,759.84 L260.0,759.72 L260.5,759.60 L261.0,759.48 L261.5,759.37 L262.0,759.25 L262.5,759.14 L263.0,759.03 L263.5,758.92 L264.0,758.82 L264.5,758.71 L265.0,758.61 L265.5,758.51 L266.0,758.42 L266.5,758.32 L267.0,758.23 L267.5,758.15 L268.0,758.06 L268.5,757.98 L269.0,757.90 L269.5,757.83 L270.0,757.75 L270.5,757.69 L271.0,757.62 L271.5,757.56 L272.0,757.51 L272.5,757.45 L273.0,757.40 L273.5,757.36 L274.0,757.32 L274.5,757.29 L275.0,757.26 L275.5,757.24 L276.0,757.22 L276.5,757.21 L277.0,757.20 L277.5,757.21 L278.0,757.22 L278.5,757.24 L279.0,757.27 L279.5,757.31 L280.0,757.36 L280.5,757.41 L281.0,757.48 L281.5,757.56 L282.0,757.64 L282.5,757.74 L283.0,757.84 L283.5,757.96 L284.0,758.08 L284.5,758.20 L285.0,758.34 L285.5,758.48 L286.0,758.62 L286.5,758.77 L287.0,758.93 L287.5,759.09 L288.0,759.25 L288.5,759.41 L289.0,759.58 L289.5,759.75 L290.0,759.92 L290.5,760.10 L291.0,760.28 L291.5,760.46 L292.0,760.64 L292.5,760.83 L293.0,761.03 L293.5,761.23 L294.0,761.43 L294.5,761.65 L295.0,761.86 L295.5,762.09 L296.0,762.32 L296.5,762.56 L297.0,762.80 L297.5,763.05 L298.0,763.30 L298.5,763.56 L299.0,763.81 L299.5,764.07 L300.0,764.33 L300.5,764.59 L301.0,764.84 L301.5,765.09 L302.0,765.34 L302.5,765.58 L303.0,765.82 L303.5,766.05 L304.0,766.27 L304.5,766.48 L305.0,766.69 L305.5,766.89 L306.0,767.08 L306.5,767.26 L307.0,767.43 L307.5,767.60 L308.0,767.76 L308.5,767.92 L309.0,768.07 L309.5,768.21 L310.0,768.35 L310.5,768.49 L311.0,768.62 L311.5,768.75 L312.0,768.87 L312.5,768.99 L313.0,769.11 L313.5,769.22 L314.0,769.33 L314.5,769.44 L315.0,769.55 L315.5,769.65 L316.0,769.75 L316.5,769.84 L317.0,769.93 L317.5,770.02 L318.0,770.11 L318.5,770.20 L319.0,770.28 L319.5,770.35 L320.0,770.43 L320.5,770.49 L321.0,770.55 L321.5,770.59 L322.0,770.62 L322.5,770.63 L323.0,770.62 L323.5,770.59 L324.0,770.52 L324.5,770.42 L325.0,770.28 L325.5,770.10 L326.0,769.88 L326.5,769.62 L327.0,769.32 L327.5,768.98 L328.0,768.61 L328.5,768.21 L329.0,767.79 L329.5,767.35 L330.0,766.88 L330.5,766.40 L331.0,765.90 L331.5,765.38 L332.0,764.82 L332.5,764.22 L333.0,763.56 L333.5,762.85 L334.0,762.07 L334.5,761.21 L335.0,760.26 L335.5,759.23 L336.0,758.12 L336.5,756.93 L337.0,755.66 L337.5,754.33 L338.0,752.94 L338.5,751.51 L339.0,750.04 L339.5,748.54 L340.0,747.01 L340.5,745.47 L341.0,743.91 L341.5,742.33 L342.0,740.74 L342.5,739.13 L343.0,737.51 L343.5,735.87 L344.0,734.23 L344.5,732.59 L345.0,730.96 L345.5,729.34 L346.0,727.76 L346.5,726.20 L347.0,724.69 L347.5,723.24 L348.0,721.84 L348.5,720.49 L349.0,719.20 L349.5,717.97 L350.0,716.78 L350.5,715.63 L351.0,714.51 L351.5,713.43 L352.0,712.36 L352.5,711.32 L353.0,710.28 L353.5,709.26 L354.0,708.25 L354.5,707.26 L355.0,706.28 L355.5,705.32 L356.0,704.40 L356.5,703.50 L357.0,702.64 L357.5,701.83 L358.0,701.05 L358.5,700.32 L359.0,699.63 L359.5,698.99 L360.0,698.39 L360.5,697.83 L361.0,697.31 L361.5,696.83 L362.0,696.37 L362.5,695.95 L363.0,695.56 L363.5,695.20 L364.0,694.86 L364.5,694.55 L365.0,694.26 L365.5,693.99 L366.0,693.75 L366.5,693.52 L367.0,693.31 L367.5,693.13 L368.0,692.96 L368.5,692.81 L369.0,692.69 L369.5,692.59 L370.0,692.52 L370.5,692.47 L371.0,692.45 L371.5,692.46 L372.0,692.51 L372.5,692.58 L373.0,692.69 L373.5,692.83 L374.0,693.00 L374.5,693.20 L375.0,693.44 L375.5,693.70 L376.0,694.00 L376.5,694.33 L377.0,694.70 L377.5,695.10 L378.0,695.54 L378.5,696.01 L379.0,696.52 L379.5,697.07 L380.0,697.65 L380.5,698.27 L381.0,698.93 L381.5,699.61 L382.0,700.33 L382.5,701.08 L383.0,701.85 L383.5,702.64 L384.0,703.45 L384.5,704.29 L385.0,705.14 L385.5,706.01 L386.0,706.90 L386.5,707.81 L387.0,708.74 L387.5,709.68 L388.0,710.65 L388.5,711.63 L389.0,712.63 L389.5,713.64 L390.0,714.68 L390.5,715.74 L391.0,716.81 L391.5,717.91 L392.0,719.03 L392.5,720.18 L393.0,721.35 L393.5,722.55 L394.0,723.77 L394.5,725.03 L395.0,726.32 L395.5,727.64 L396.0,728.98 L396.5,730.36 L397.0,731.76 L397.5,733.18 L398.0,734.61 L398.5,736.06 L399.0,737.51 L399.5,738.95 L400.0,740.39 L400.5,741.82 L401.0,743.22 L401.5,744.60 L402.0,745.95 L402.5,747.27 L403.0,748.55 L403.5,749.79 L404.0,751.00 L404.5,752.16 L405.0,753.29 L405.5,754.38 L406.0,755.44 L406.5,756.47 L407.0,757.47 L407.5,758.44 L408.0,759.39 L408.5,760.32 L409.0,761.23 L409.5,762.13 L410.0,763.01 L410.5,763.88 L411.0,764.73 L411.5,765.56 L412.0,766.38 L412.5,767.18 L413.0,767.96 L413.5,768.72 L414.0,769.45 L414.5,770.15 L415.0,770.82 L415.5,771.46 L416.0,772.07 L416.5,772.64 L417.0,773.17 L417.5,773.68 L418.0,774.15 L418.5,774.59 L419.0,775.01 L419.5,775.40 L420.0,775.78 L420.5,776.13 L421.0,776.47 L421.5,776.80 L422.0,777.11 L422.5,777.42 L423.0,777.72 L423.5,778.01 L424.0,778.30 L424.5,778.59 L425.0,778.87 L425.5,779.15 L426.0,779.42 L426.5,779.69 L427.0,779.96 L427.5,780.23 L428.0,780.49 L428.5,780.75 L429.0,781.01 L429.5,781.26 L430.0,781.50 L430.5,781.75 L431.0,781.98 L431.5,782.22 L432.0,782.45 L432.5,782.67 L433.0,782.89 L433.5,783.11 L434.0,783.32 L434.5,783.53 L435.0,783.74 L435.5,783.94 L436.0,784.14 L436.5,784.34 L437.0,784.54 L437.5,784.74 L438.0,784.94 L438.5,785.13 L439.0,785.33 L439.5,785.53 L440.0,785.73 L440.5,785.92 L441.0,786.12 L441.5,786.32 L442.0,786.52 L442.5,786.71 L443.0,786.91 L443.5,787.11 L444.0,787.30 L444.5,787.50 L445.0,787.70 L445.5,787.89 L446.0,788.09 L446.5,788.28 L447.0,788.48 L447.5,788.67 L448.0,788.86 L448.5,789.05 L449.0,789.23 L449.5,789.41 L450.0,789.59 L450.5,789.76 L451.0,789.93 L451.5,790.08 L452.0,790.24 L452.5,790.38 L453.0,790.52 L453.5,790.65 L454.0,790.78 L454.5,790.90 L455.0,791.01 L455.5,791.11 L456.0,791.21 L456.5,791.31 L457.0,791.40 L457.5,791.48 L458.0,791.55 L458.5,791.62 L459.0,791.69 L459.5,791.74 L460.0,791.79 L460.5,791.83 L461.0,791.87 L461.5,791.90 L462.0,791.93 L462.5,791.95 L463.0,791.96 L463.5,791.97 L464.0,791.98 L464.5,791.99 L465.0,791.99 L465.5,792.00 L466.0,792.00 L466.5,792.00 L467.0,792.00 L467.5,792.00 L468.0,792.00 L468.5,792.00 L469.0,792.00 L469.5,792.00 L470.0,792.00 L470.5,792.00 L471.0,792.00 L471.5,792.00 L472.0,792.00 L472.5,792.00 L473.0,792.00 L473.5,792.00 L474.0,792.00 L474.5,792.00 L475.0,792.00 L475.5,792.00 L476.0,792.00 L476.5,792.00 L477.0,792.00 L477.5,792.00 L478.0,792.00 L478.5,792.00 L479.0,792.00 L479.5,792.00 L480.0,792.00 L480.5,792.00 L481.0,792.00 L481.5,792.00 L482.0,792.00 L482.5,792.00 L483.0,792.00 L483.5,792.00 L484.0,792.00 L484.5,792.00 L485.0,792.00 L485.5,792.00 L486.0,792.00 L486.5,792.00 L487.0,792.00 L487.5,792.00 L488.0,792.00 L488.5,792.00 L489.0,792.00 L489.5,792.00 L490.0,792.00 L490.5,792.00 L491.0,792.00 L491.5,792.00 L492.0,792.00 L492.5,792.00 L493.0,792.00 L493.5,792.00 L494.0,792.00 L494.5,792.00 L495.0,792.00 L495.5,792.00 L496.0,792.00 L496.5,792.00 L497.0,792.00 L497.5,792.00 L498.0,792.00 L498.5,792.00 L499.0,792.00 L499.5,792.00 L500.0,792.00 L500.5,792.00 L501.0,792.00 L501.5,792.00 L502.0,792.00 L502.5,792.00 L503.0,792.00 L503.5,792.00 L504.0,792.00 L504.5,792.00 L505.0,792.00 L505.5,792.00 L506.0,792.00 L506.5,792.00 L507.0,792.00 L507.5,792.00 L508.0,791.99 L508.5,791.99 L509.0,791.98 L509.5,791.97 L510.0,791.96 L510.5,791.95 L511.0,791.93 L511.5,791.91 L512.0,791.88 L512.5,791.84 L513.0,791.80 L513.5,791.75 L514.0,791.70 L514.5,791.64 L515.0,791.58 L515.5,791.50 L516.0,791.42 L516.5,791.34 L517.0,791.24 L517.5,791.14 L518.0,791.03 L518.5,790.91 L519.0,790.78 L519.5,790.64 L520.0,790.49 L520.5,790.34 L521.0,790.17 L521.5,790.00 L522.0,789.81 L522.5,789.62 L523.0,789.42 L523.5,789.21 L524.0,788.99 L524.5,788.77 L525.0,788.54 L525.5,788.30 L526.0,788.06 L526.5,787.81 L527.0,787.56 L527.5,787.31 L528.0,787.05 L528.5,786.78 L529.0,786.52 L529.5,786.25 L530.0,785.98 L530.5,785.71 L531.0,785.44 L531.5,785.17 L532.0,784.89 L532.5,784.61 L533.0,784.34 L533.5,784.05 L534.0,783.77 L534.5,783.48 L535.0,783.19 L535.5,782.89 L536.0,782.59 L536.5,782.28 L537.0,781.97 L537.5,781.65 L538.0,781.33 L538.5,781.00 L539.0,780.67 L539.5,780.33 L540.0,780.00 L540.5,779.66 L541.0,779.32 L541.5,778.99 L542.0,778.65 L542.5,778.32 L543.0,778.00 L543.5,777.68 L544.0,777.36 L544.5,777.06 L545.0,776.76 L545.5,776.47 L546.0,776.19 L546.5,775.92 L547.0,775.66 L547.5,775.41 L548.0,775.16 L548.5,774.93 L549.0,774.70 L549.5,774.48 L550.0,774.27 L550.5,774.06 L551.0,773.86 L551.5,773.67 L552.0,773.48 L552.5,773.30 L553.0,773.12 L553.5,772.96 L554.0,772.79 L554.5,772.64 L555.0,772.49 L555.5,772.35 L556.0,772.22 L556.5,772.10 L557.0,771.98 L557.5,771.87 L558.0,771.77 L558.5,771.67 L559.0,771.58 L559.5,771.50 L560.0,771.42 L560.5,771.35 L561.0,771.28 L561.5,771.21 L562.0,771.15 L562.5,771.09 L563.0,771.03 L563.5,770.97 L564.0,770.92 L564.5,770.87 L565.0,770.82 L565.5,770.77 L566.0,770.73 L566.5,770.68 L567.0,770.64 L567.5,770.60 L568.0,770.56 L568.5,770.51 L569.0,770.47 L569.5,770.43 L570.0,770.39 L570.5,770.36 L571.0,770.32 L571.5,770.28 L572.0,770.24 L572.5,770.20 L573.0,770.16 L573.5,770.12 L574.0,770.08 L574.5,770.04 L575.0,769.99 L575.5,769.95 L576.0,769.91 L576.5,769.86 L577.0,769.82 L577.5,769.77 L578.0,769.73 L578.5,769.68 L579.0,769.64 L579.5,769.59 L580.0,769.55 L580.5,769.50 L581.0,769.45 L581.5,769.41 L582.0,769.36 L582.5,769.31 L583.0,769.27 L583.5,769.22 L584.0,769.18 L584.5,769.13 L585.0,769.08 L585.5,769.04 L586.0,768.99 L586.5,768.95 L587.0,768.90 L587.5,768.85 L588.0,768.81 L588.5,768.76 L589.0,768.71 L589.5,768.67 L590.0,768.62 L590.5,768.57 L591.0,768.53 L591.5,768.48 L592.0,768.43 L592.5,768.39 L593.0,768.34 L593.5,768.29 L594.0,768.24 L594.5,768.19 L595.0,768.14 L595.5,768.09 L596.0,768.04 L596.5,767.99 L597.0,767.94 L597.5,767.89 L598.0,767.84 L598.5,767.79 L599.0,767.74 L599.5,767.69 L600.0,767.63 L600.5,767.58 L601.0,767.52 L601.5,767.47 L602.0,767.41 L602.5,767.36 L603.0,767.30 L603.5,767.24 L604.0,767.18 L604.5,767.12 L605.0,767.06 L605.5,767.00 L606.0,766.93 L606.5,766.87 L607.0,766.80 L607.5,766.73 L608.0,766.67 L608.5,766.60 L609.0,766.53 L609.5,766.46 L610.0,766.39 L610.5,766.31 L611.0,766.24 L611.5,766.17 L612.0,766.10 L612.5,766.02 L613.0,765.95 L613.5,765.87 L614.0,765.80 L614.5,765.72 L615.0,765.65 L615.5,765.57 L616.0,765.50 L616.5,765.42 L617.0,765.35 L617.5,765.28 L618.0,765.20 L618.5,765.13 L619.0,765.06 L619.5,764.98 L620.0,764.91 L620.5,764.84 L621.0,764.77 L621.5,764.70 L622.0,764.64 L622.5,764.57 L623.0,764.50 L623.5,764.44 L624.0,764.37 L624.5,764.31 L625.0,764.25 L625.5,764.19 L626.0,764.13 L626.5,764.07 L627.0,764.01 L627.5,763.96 L628.0,763.90 L628.5,763.85 L629.0,763.80 L629.5,763.74 L630.0,763.69 L630.5,763.64 L631.0,763.59 L631.5,763.54 L632.0,763.49 L632.5,763.44 L633.0,763.38 L633.5,763.33 L634.0,763.28 L634.5,763.23 L635.0,763.18 L635.5,763.13 L636.0,763.08 L636.5,763.03 L637.0,762.98 L637.5,762.93 L638.0,762.89 L638.5,762.84 L639.0,762.79 L639.5,762.75 L640.0,762.70 L640.5,762.66 L641.0,762.62 L641.5,762.58 L642.0,762.54 L642.5,762.50 L643.0,762.46 L643.5,762.43 L644.0,762.39 L644.5,762.36 L645.0,762.33 L645.5,762.30 L646.0,762.28 L646.5,762.25 L647.0,762.23 L647.5,762.21 L648.0,762.19 L648.5,762.18 L649.0,762.17 L649.5,762.16 L650.0,762.16 L650.5,762.16 L651.0,762.17 L651.5,762.18 L652.0,762.19 L652.5,762.21 L653.0,762.24 L653.5,762.27 L654.0,762.31 L654.5,762.36 L655.0,762.41 L655.5,762.47 L656.0,762.53 L656.5,762.59 L657.0,762.66 L657.5,762.74 L658.0,762.82 L658.5,762.90 L659.0,762.99 L659.5,763.08 L660.0,763.17 L660.5,763.27 L661.0,763.37 L661.5,763.47 L662.0,763.57 L662.5,763.68 L663.0,763.79 L663.5,763.91 L664.0,764.03 L664.5,764.16 L665.0,764.29 L665.5,764.43 L666.0,764.58 L666.5,764.73 L667.0,764.89 L667.5,765.05 L668.0,765.22 L668.5,765.40 L669.0,765.57 L669.5,765.76 L670.0,765.95 L670.5,766.14 L671.0,766.33 L671.5,766.52 L672.0,766.72 L672.5,766.92 L673.0,767.12 L673.5,767.31 L674.0,767.51 L674.5,767.70 L675.0,767.89 L675.5,768.08 L676.0,768.27 L676.5,768.45 L677.0,768.63 L677.5,768.80 L678.0,768.97 L678.5,769.14 L679.0,769.30 L679.5,769.45 L680.0,769.61 L680.5,769.75 L681.0,769.90 L681.5,770.04 L682.0,770.18 L682.5,770.32 L683.0,770.46 L683.5,770.59 L684.0,770.73 L684.5,770.86 L685.0,770.99 L685.5,771.12 L686.0,771.25 L686.5,771.38 L687.0,771.50 L687.5,771.62 L688.0,771.75 L688.5,771.86 L689.0,771.98 L689.5,772.09 L690.0,772.20 L690.5,772.30 L691.0,772.40 L691.5,772.50 L692.0,772.59 L692.5,772.68 L693.0,772.76 L693.5,772.83 L694.0,772.90 L694.5,772.97 L695.0,773.02 L695.5,773.08 L696.0,773.12 L696.5,773.16 L697.0,773.20 L697.5,773.23 L698.0,773.26 L698.5,773.28 L699.0,773.30 L699.5,773.32 L700.0,773.34 L700.5,773.35 L701.0,773.36 L701.5,773.37 L702.0,773.38 L702.5,773.39 L703.0,773.40 L703.5,773.40 L704.0,773.41 L704.5,773.42 L705.0,773.42 L705.5,773.43 L706.0,773.44 L706.5,773.44 L707.0,773.45 L707.5,773.45 L708.0,773.46 L708.5,773.46 L709.0,773.46 L709.5,773.47 L710.0,773.47 L710.5,773.48 L711.0,773.48 L711.5,773.49 L712.0,773.49 L712.5,773.50 L713.0,773.50 L713.5,773.51 L714.0,773.51 L714.5,773.52 L715.0,773.52 L715.5,773.53 L716.0,773.54 L716.5,773.55 L717.0,773.55 L717.5,773.56 L718.0,773.57 L718.5,773.58 L719.0,773.59 L719.5,773.60 L720.0,773.61 L720.5,773.62 L721.0,773.63 L721.5,773.64 L722.0,773.65 L722.5,773.66 L723.0,773.67 L723.5,773.69 L724.0,773.70 L724.5,773.71 L725.0,773.73 L725.5,773.74 L726.0,773.76 L726.5,773.77 L727.0,773.79 L727.5,773.80 L728.0,773.82 L728.5,773.84 L729.0,773.86 L729.5,773.88 L730.0,773.90 L730.5,773.92 L731.0,773.94 L731.5,773.96 L732.0,773.98 L732.5,774.00 L733.0,774.03 L733.5,774.05 L734.0,774.08 L734.5,774.11 L735.0,774.13 L735.5,774.16 L736.0,774.19 L736.5,774.22 L737.0,774.25 L737.5,774.28 L738.0,774.31 L738.5,774.35 L739.0,774.38 L739.5,774.42 L740.0,774.46 L740.5,774.49 L741.0,774.53 L741.5,774.58 L742.0,774.62 L742.5,774.66 L743.0,774.71 L743.5,774.76 L744.0,774.82 L744.5,774.88 L745.0,774.95 L745.5,775.02 L746.0,775.10 L746.5,775.20 L747.0,775.30 L747.5,775.41 L748.0,775.53 L748.5,775.67 L749.0,775.82 L749.5,775.98 L750.0,776.15 L750.5,776.33 L751.0,776.52 L751.5,776.71 L752.0,776.92 L752.5,777.12 L753.0,777.33 L753.5,777.54 L754.0,777.76 L754.5,777.97 L755.0,778.18 L755.5,778.39 L756.0,778.60 L756.5,778.81 L757.0,779.01 L757.5,779.21 L758.0,779.42 L758.5,779.62 L759.0,779.81 L759.5,780.01 L760.0,780.21 L760.5,780.41 L761.0,780.61 L761.5,780.80 L762.0,781.00 L762.5,781.20 L763.0,781.40 L763.5,781.60 L764.0,781.80 L764.5,782.01 L765.0,782.21 L765.5,782.41 L766.0,782.62 L766.5,782.83 L767.0,783.03 L767.5,783.24 L768.0,783.46 L768.5,783.67 L769.0,783.88 L769.5,784.10 L770.0,784.32 L770.5,784.54 L771.0,784.76 L771.5,784.98 L772.0,785.21 L772.5,785.44 L773.0,785.66 L773.5,785.89 L774.0,786.12 L774.5,786.35 L775.0,786.58 L775.5,786.81 L776.0,787.04 L776.5,787.27 L777.0,787.50 L777.5,787.73 L778.0,787.95 L778.5,788.18 L779.0,788.41 L779.5,788.64 L780.0,788.87 L780.5,789.10 L781.0,789.32 L781.5,789.55 L782.0,789.77 L782.5,790.00 L783.0,790.21 L783.5,790.42 L784.0,790.62 L784.5,790.81 L785.0,790.99 L785.5,791.15 L786.0,791.30 L786.5,791.43 L787.0,791.54 L787.5,791.63 L788.0,791.71 L788.5,791.77 L789.0,791.83 L789.5,791.87 L790.0,791.90 L790.5,791.92 L791.0,791.94 L791.5,791.96 L792.0,791.97 L792.5,791.98 L793.0,791.98 L793.5,791.99 L794.0,791.99 L794.5,791.99 L795.0,791.99 L795.5,792.00 L796.0,792.00 L796.5,792.00 L797.0,792.00 L797.5,792.00 L798.0,792.00 L798.5,792.00 L799.0,792.00 L799.5,792.00 L800.0,792.00 L800.5,792.00 L801.0,792.00 L801.5,792.00 L802.0,792.00 L802.5,792.00 L803.0,792.00 L803.5,792.00 L804.0,792.00 L804.5,792.00 L805.0,792.00 L805.5,792.00 L806.0,792.00 L806.5,792.00 L807.0,792.00 L807.5,792.00 L808.0,792.00 L808.5,792.00 L809.0,792.00 L809.5,792.00 L810.0,792.00 L810.5,792.00 L811.0,792.00 L811.5,792.00 L812.0,792.00 L812.5,792.00 L813.0,792.00 L813.5,792.00 L814.0,792.00 L814.5,792.00 L815.0,792.00 L815.5,792.00 L816.0,792.00 L816.5,792.00 L817.0,792.00 L817.5,792.00 L818.0,792.00 L818.5,792.00 L819.0,792.00 L819.5,792.00 L820.0,792.00 L820.5,792.00 L821.0,792.00 L821.5,792.00 L822.0,792.00 L822.5,792.00 L823.0,792.00 L823.5,792.00 L824.0,792.00 L824.5,792.00 L825.0,792.00 L825.5,792.00 L826.0,792.00 L826.5,792.00 L827.0,792.00 L827.5,792.00 L828.0,792.00 L828.5,792.00 L829.0,792.00 L829.5,792.00 L830.0,792.00 L830.5,792.00 L831.0,792.00 L831.5,792.00 L832.0,792.00 L832.5,792.00 L833.0,792.00 L833.5,792.00 L834.0,792.00 L834.5,792.00 L835.0,792.00 L835.5,792.00 L836.0,792.00 L836.5,792.00 L837.0,792.00 L837.5,792.00 L838.0,792.00 L838.5,792.00 L839.0,792.00 L839.5,792.00 L840.0,792.00 L840.5,792.00 L841.0,792.00 L841.5,792.00 L842.0,792.00 L842.5,792.00 L843.0,792.00 L843.5,792.00 L844.0,792.00 L844.5,792.00 L845.0,792.00 L845.5,792.00 L846.0,792.00 L846.5,792.00 L847.0,792.00 L847.5,792.00 L848.0,792.00 L848.5,792.00 L849.0,791.99 L849.5,791.99 L850.0,791.99 L850.5,791.98 L851.0,791.98 L851.5,791.97 L852.0,791.97 L852.5,791.96 L853.0,791.95 L853.5,791.94 L854.0,791.92 L854.5,791.91 L855.0,791.89 L855.5,791.87 L856.0,791.85 L856.5,791.83 L857.0,791.81 L857.5,791.78 L858.0,791.76 L858.5,791.73 L859.0,791.70 L859.5,791.67 L860.0,791.63 L860.5,791.60 L861.0,791.56 L861.5,791.52 L862.0,791.48 L862.5,791.44 L863.0,791.40 L863.5,791.35 L864.0,791.30 L864.5,791.25 L865.0,791.20 L865.5,791.15 L866.0,791.09 L866.5,791.04 L867.0,790.98 L867.5,790.92 L868.0,790.86 L868.5,790.79 L869.0,790.72 L869.5,790.65 L870.0,790.58 L870.5,790.50 L871.0,790.41 L871.5,790.32 L872.0,790.21 L872.5,790.10 L873.0,789.96 L873.5,789.81 L874.0,789.63 L874.5,789.42 L875.0,789.19 L875.5,788.92 L876.0,788.62 L876.5,788.27 L877.0,787.89 L877.5,787.47 L878.0,787.01 L878.5,786.52 L879.0,785.98 L879.5,785.40 L880.0,784.79 L880.5,784.15 L881.0,783.47 L881.5,782.77 L882.0,782.03 L882.5,781.27 L883.0,780.49 L883.5,779.69 L884.0,778.86 L884.5,778.02 L885.0,777.16 L885.5,776.29 L886.0,775.40 L886.5,774.49 L887.0,773.58 L887.5,772.65 L888.0,771.70 L888.5,770.74 L889.0,769.76 L889.5,768.76 L890.0,767.74 L890.5,766.69 L891.0,765.62 L891.5,764.51 L892.0,763.38 L892.5,762.21 L893.0,761.01 L893.5,759.77 L894.0,758.50 L894.5,757.18 L895.0,755.83 L895.5,754.44 L896.0,753.01 L896.5,751.55 L897.0,750.04 L897.5,748.48 L898.0,746.89 L898.5,745.24 L899.0,743.55 L899.5,741.81 L900.0,740.01 L900.5,738.15 L901.0,736.22 L901.5,734.22 L902.0,732.14 L902.5,729.97 L903.0,727.70 L903.5,725.34 L904.0,722.87 L904.5,720.31 L905.0,717.65 L905.5,714.91 L906.0,712.08 L906.5,709.19 L907.0,706.25 L907.5,703.27 L908.0,700.26 L908.5,697.24 L909.0,694.22 L909.5,691.21 L910.0,688.21 L910.5,685.24 L911.0,682.30 L911.5,679.38 L912.0,676.51 L912.5,673.68 L913.0,670.91 L913.5,668.18 L914.0,665.52 L914.5,662.93 L915.0,660.41 L915.5,657.96 L916.0,655.59 L916.5,653.29 L917.0,651.07 L917.5,648.93 L918.0,646.85 L918.5,644.85 L919.0,642.92 L919.5,641.05 L920.0,639.25 L920.5,637.51 L921.0,635.83 L921.5,634.22 L922.0,632.68 L922.5,631.20 L923.0,629.79 L923.5,628.45 L924.0,627.18 L924.5,625.98 L925.0,624.85 L925.5,623.79 L926.0,622.79 L926.5,621.86 L927.0,621.00 L927.5,620.20 L928.0,619.47 L928.5,618.81 L929.0,618.23 L929.5,617.72 L930.0,617.30 L930.5,616.97 L931.0,616.73 L931.5,616.58 L932.0,616.53 L932.5,616.58 L933.0,616.73 L933.5,616.97 L934.0,617.30 L934.5,617.73 L935.0,618.23 L935.5,618.82 L936.0,619.48 L936.5,620.22 L937.0,621.02 L937.5,621.89 L938.0,622.84 L938.5,623.85 L939.0,624.92 L939.5,626.07 L940.0,627.29 L940.5,628.57 L941.0,629.93 L941.5,631.35 L942.0,632.84 L942.5,634.39 L943.0,635.99 L943.5,637.65 L944.0,639.37 L944.5,641.13 L945.0,642.94 L945.5,644.80 L946.0,646.70 L946.5,648.65 L947.0,650.65 L947.5,652.70 L948.0,654.80 L948.5,656.94 L949.0,659.13 L949.5,661.37 L950.0,663.66 L950.5,665.98 L951.0,668.35 L951.5,670.74 L952.0,673.16 L952.5,675.61 L953.0,678.07 L953.5,680.54 L954.0,683.02 L954.5,685.51 L955.0,688.00 L955.5,690.49 L956.0,692.97 L956.5,695.46 L957.0,697.94 L957.5,700.41 L958.0,702.87 L958.5,705.32 L959.0,707.75 L959.5,710.17 L960.0,712.55 L960.5,714.91 L961.0,717.23 L961.5,719.51 L962.0,721.76 L962.5,723.96 L963.0,726.13 L963.5,728.25 L964.0,730.34 L964.5,732.39 L965.0,734.40 L965.5,736.38 L966.0,738.33 L966.5,740.25 L967.0,742.14 L967.5,744.00 L968.0,745.83 L968.5,747.62 L969.0,749.38 L969.5,751.11 L970.0,752.80 L970.5,754.44 L971.0,756.05 L971.5,757.60 L972.0,759.12 L972.5,760.58 L973.0,762.00 L973.5,763.37 L974.0,764.69 L974.5,765.96 L975.0,767.19 L975.5,768.38 L976.0,769.53 L976.5,770.65 L977.0,771.73 L977.5,772.78 L978.0,773.81 L978.5,774.81 L979.0,775.79 L979.5,776.75 L980.0,777.68 L980.5,778.60 L981.0,779.49 L981.5,780.36 L982.0,781.20 L982.5,782.01 L983.0,782.79 L983.5,783.54 L984.0,784.25 L984.5,784.93 L985.0,785.57 L985.5,786.16 L986.0,786.71 L986.5,787.22 L987.0,787.68 L987.5,788.10 L988.0,788.48 L988.5,788.81 L989.0,789.10 L989.5,789.36 L990.0,789.58 L990.5,789.77 L991.0,789.93 L991.5,790.07 L992.0,790.20 L992.5,790.30 L993.0,790.40 L993.5,790.49 L994.0,790.57 L994.5,790.64 L995.0,790.71 L995.5,790.78 L996.0,790.84 L996.5,790.90 L997.0,790.96 L997.5,791.02 L998.0,791.07 L998.5,791.13 L999.0,791.18 L999.5,791.23 L1000.0,791.28 L1000.5,791.32 L1001.0,791.37 L1001.5,791.41 L1002.0,791.45 L1002.5,791.50 L1003.0,791.53 L1003.5,791.57 L1004.0,791.61 L1004.5,791.64 L1005.0,791.67 L1005.5,791.70 L1006.0,791.73 L1006.5,791.76 L1007.0,791.78 L1007.5,791.81 L1008.0,791.83 L1008.5,791.85 L1009.0,791.87 L1009.5,791.89 L1010.0,791.90 L1010.5,791.92 L1011.0,791.93 L1011.5,791.94 L1012.0,791.95 L1012.5,791.96 L1013.0,791.97 L1013.5,791.98 L1014.0,791.98 L1014.5,791.99 L1015.0,791.99 L1015.5,791.99 L1016.0,791.99 L1016.5,792.00 L1017.0,792.00 L1017.5,792.00 L1018.0,792.00 L1018.5,792.00 L1019.0,792.00 L1019.5,792.00 L1020.0,792.00 L1020.5,792.00 L1021.0,792.00 L1021.5,792.00 L1022.0,792.00 L1022.5,792.00 L1023.0,792.00 L1023.5,792.00 L1024.0,792.00 L1024.5,792.00 L1025.0,792.00 L1025.5,792.00 L1026.0,792.00 L1026.5,792.00 L1027.0,792.00 L1027.5,792.00 L1028.0,792.00 L1028.5,792.00 L1029.0,792.00 L1029.5,792.00 L1030.0,792.00 L1030.5,792.00 L1031.0,792.00 L1031.5,792.00 L1032.0,792.00 L1032.5,792.00 L1033.0,792.00 L1033.5,792.00 L1034.0,792.00 L1034.5,792.00 L1035.0,792.00 L1035.5,792.00 L1036.0,792.00 L1036.5,792.00 L1037.0,792.00 L1037.5,792.00 L1038.0,792.00 L1038.5,792.00 L1039.0,792.00 L1039.5,792.00 L1040.0,792.00 L1040.5,792.00 L1041.0,792.00 L1041.5,792.00 L1042.0,792.00 L1042.5,792.00 L1043.0,792.00 L1043.5,792.00 L1044.0,792.00 L1044.5,792.00 L1045.0,792.00 L1045.5,792.00 L1046.0,792.00 L1046.5,792.00 L1047.0,792.00 L1047.5,792.00 L1048.0,792.00 L1048.5,792.00 L1049.0,792.00 L1049.5,792.00 L1050.0,792.00 L1050.5,792.00 L1051.0,792.00 L1051.5,792.00 L1052.0,792.00 L1052.5,792.00 L1053.0,792.00 L1053.5,792.00 L1054.0,792.00 L1054.5,792.00 L1055.0,792.00 L1055.5,792.00 L1056.0,792.00 L1056.5,792.00 L1057.0,792.00 L1057.5,792.00 L1058.0,792.00 L1058.5,792.00 L1059.0,792.00 L1059.5,792.00 L1060.0,792.00 L1060.5,792.00 L1061.0,792.00 L1061.5,792.00 L1062.0,792.00 L1062.5,792.00 L1063.0,792.00 L1063.5,792.00 L1064.0,792.00 L1064.5,792.00 L1065.0,792.00 L1065.5,792.00 L1066.0,792.00 L1066.5,792.00 L1067.0,792.00 L1067.5,792.00 L1068.0,792.00 L1068.5,792.00 L1069.0,792.00 L1069.5,792.00 L1070.0,792.00 L1070.5,792.00 L1071.0,792.00 L1071.5,792.00 L1072.0,792.00 L1072.5,792.00 L1073.0,792.00 L1073.5,792.00 L1074.0,792.00 L1074.5,792.00 L1075.0,792.00 L1075.5,792.00 L1076.0,792.00 L1076.5,792.00 L1077.0,792.00 L1077.5,792.00 L1078.0,792.00 L1078.5,792.00 L1079.0,792.00 L1079.5,792.00 L1080.0,792.00 L1080.5,792.00 L1081.0,792.00 L1081.5,792.00 L1082.0,792.00 L1082.5,792.00 L1083.0,792.00 L1083.5,792.00 L1084.0,792.00 L1084.5,792.00 L1085.0,792.00 L1085.5,792.00 L1086.0,792.00 L1086.5,792.00 L1087.0,792.00 L1087.5,792.00 L1088.0,792.00 L1088.5,792.00 L1089.0,792.00 L1089.5,792.00 L1090.0,792.00 L1090.5,792.00 L1091.0,792.00 L1091.5,792.00 L1092.0,792.00 L1092.5,792.00 L1093.0,792.00 L1093.5,792.00 L1094.0,792.00 L1094.5,792.00 L1095.0,792.00 L1095.5,792.00 L1096.0,792.00 L1096.5,792.00 L1097.0,792.00 L1097.5,792.00 L1098.0,792.00 L1098.5,792.00 L1099.0,792.00 L1099.5,792.00 L1100.0,792.00 L1100.5,792.00 L1101.0,792.00 L1101.5,792.00 L1102.0,792.00 L1102.5,792.00 L1103.0,792.00 L1103.5,792.00 L1104.0,792.00 L1104.5,792.00 L1105.0,792.00 L1105.5,792.00 L1106.0,792.00 L1106.5,792.00 L1107.0,792.00 L1107.5,792.00 L1108.0,792.00 L1108.5,792.00 L1109.0,792.00 L1109.5,792.00 L1110.0,792.00 L1110.5,792.00 L1111.0,792.00 L1111.5,792.00 L1112.0,792.00 L1112.5,792.00 L1113.0,792.00 L1113.5,792.00 L1114.0,792.00 L1114.5,792.00 L1115.0,792.00 L1115.5,792.00 L1116.0,792.00 L1116.5,792.00 L1117.0,792.00 L1117.5,792.00 L1118.0,792.00 L1118.5,792.00 L1119.0,792.00 L1119.5,792.00 L1120.0,792.00 L1120.5,792.00 L1121.0,792.00 L1121.5,792.00 L1122.0,792.00 L1122.5,792.00 L1123.0,792.00 L1123.5,792.00 L1124.0,792.00 L1124.5,792.00 L1125.0,792.00 L1125.5,792.00 L1126.0,792.00 L1126.5,792.00 L1127.0,792.00 L1127.5,792.00 L1128.0,792.00 L1128.5,792.00 L1129.0,792.00 L1129.5,792.00 L1130.0,792.00 L1130.5,792.00 L1131.0,792.00 L1131.5,792.00 L1132.0,792.00 L1132.5,792.00 L1133.0,792.00 L1133.5,792.00 L1134.0,792.00 L1134.5,792.00 L1135.0,792.00 L1135.5,792.00 L1136.0,792.00 L1136.5,792.00 L1137.0,792.00 L1137.5,792.00 L1138.0,792.00 L1138.5,792.00 L1139.0,792.00 L1139.5,792.00 L1140.0,792.00 L1140.5,792.00 L1141.0,792.00 L1141.5,792.00 L1142.0,792.00 L1142.5,792.00 L1143.0,792.00 L1143.5,792.00 L1144.0,792.00 L1144.5,792.00 L1145.0,792.00 L1145.5,792.00 L1146.0,792.00 L1146.5,792.00 L1147.0,792.00 L1147.5,792.00 L1148.0,792.00 L1148.5,792.00 L1149.0,792.00 L1149.5,792.00 L1150.0,792.00 L1150.5,792.00 L1151.0,792.00 L1151.5,792.00 L1152.0,792.00 L1152.5,792.00 L1153.0,792.00 L1153.5,792.00 L1154.0,792.00 L1154.5,792.00 L1155.0,792.00 L1155.5,792.00 L1156.0,792.00 L1156.5,792.00 L1157.0,792.00 L1157.5,792.00 L1158.0,792.00 L1158.5,792.00 L1159.0,792.00 L1159.5,792.00 L1160.0,792.00 L1160.5,792.00 L1161.0,792.00 L1161.5,792.00 L1162.0,792.00 L1162.5,792.00 L1163.0,792.00 L1163.5,792.00 L1164.0,792.00 L1164.5,792.00 L1165.0,792.00 L1165.5,792.00 L1166.0,792.00 L1166.5,792.00 L1167.0,792.00 L1167.5,792.00 L1168.0,792.00 L1168.5,792.00 L1169.0,792.00 L1169.5,792.00 L1170.0,792.00 L1170.5,792.00 L1171.0,792.00 L1171.5,792.00 L1172.0,792.00 L1172.5,792.00 L1173.0,792.00 L1173.5,792.00 L1174.0,792.00 L1174.5,792.00 L1175.0,792.00 L1175.5,792.00 L1176.0,792.00 L1176.5,792.00 L1177.0,792.00" fill="none" stroke="#5cc27d" stroke-width="1.8" stroke-linejoin="round"/>
<path d="M137.5,791.96 L138.0,791.96 L138.5,791.95 L139.0,791.93 L139.5,791.92 L140.0,791.91 L140.5,791.89 L141.0,791.88 L141.5,791.87 L142.0,791.85 L142.5,791.84 L143.0,791.82 L143.5,791.81 L144.0,791.79 L144.5,791.78 L145.0,791.76 L145.5,791.75 L146.0,791.73 L146.5,791.72 L147.0,791.70 L147.5,791.69 L148.0,791.67 L148.5,791.66 L149.0,791.65 L149.5,791.63 L150.0,791.62 L150.5,791.60 L151.0,791.59 L151.5,791.57 L152.0,791.56 L152.5,791.54 L153.0,791.52 L153.5,791.51 L154.0,791.49 L154.5,791.48 L155.0,791.46 L155.5,791.44 L156.0,791.43 L156.5,791.41 L157.0,791.39 L157.5,791.37 L158.0,791.35 L158.5,791.33 L159.0,791.31 L159.5,791.29 L160.0,791.27 L160.5,791.25 L161.0,791.23 L161.5,791.21 L162.0,791.18 L162.5,791.16 L163.0,791.14 L163.5,791.11 L164.0,791.09 L164.5,791.06 L165.0,791.03 L165.5,791.00 L166.0,790.97 L166.5,790.94 L167.0,790.91 L167.5,790.88 L168.0,790.84 L168.5,790.80 L169.0,790.77 L169.5,790.72 L170.0,790.68 L170.5,790.63 L171.0,790.59 L171.5,790.54 L172.0,790.48 L172.5,790.43 L173.0,790.37 L173.5,790.31 L174.0,790.25 L174.5,790.18 L175.0,790.12 L175.5,790.05 L176.0,789.98 L176.5,789.91 L177.0,789.83 L177.5,789.75 L178.0,789.67 L178.5,789.59 L179.0,789.51 L179.5,789.42 L180.0,789.34 L180.5,789.25 L181.0,789.15 L181.5,789.06 L182.0,788.96 L182.5,788.86 L183.0,788.76 L183.5,788.65 L184.0,788.54 L184.5,788.42 L185.0,788.30 L185.5,788.17 L186.0,788.04 L186.5,787.90 L187.0,787.75 L187.5,787.60 L188.0,787.44 L188.5,787.28 L189.0,787.11 L189.5,786.94 L190.0,786.76 L190.5,786.58 L191.0,786.39 L191.5,786.20 L192.0,786.00 L192.5,785.81 L193.0,785.60 L193.5,785.40 L194.0,785.19 L194.5,784.98 L195.0,784.77 L195.5,784.56 L196.0,784.35 L196.5,784.13 L197.0,783.92 L197.5,783.70 L198.0,783.49 L198.5,783.27 L199.0,783.06 L199.5,782.84 L200.0,782.62 L200.5,782.41 L201.0,782.19 L201.5,781.97 L202.0,781.75 L202.5,781.53 L203.0,781.31 L203.5,781.09 L204.0,780.86 L204.5,780.63 L205.0,780.40 L205.5,780.17 L206.0,779.94 L206.5,779.71 L207.0,779.47 L207.5,779.24 L208.0,779.00 L208.5,778.76 L209.0,778.52 L209.5,778.27 L210.0,778.03 L210.5,777.78 L211.0,777.54 L211.5,777.29 L212.0,777.04 L212.5,776.80 L213.0,776.55 L213.5,776.30 L214.0,776.04 L214.5,775.79 L215.0,775.54 L215.5,775.29 L216.0,775.04 L216.5,774.78 L217.0,774.53 L217.5,774.27 L218.0,774.02 L218.5,773.76 L219.0,773.50 L219.5,773.24 L220.0,772.99 L220.5,772.73 L221.0,772.46 L221.5,772.20 L222.0,771.94 L222.5,771.67 L223.0,771.41 L223.5,771.14 L224.0,770.87 L224.5,770.60 L225.0,770.32 L225.5,770.05 L226.0,769.77 L226.5,769.49 L227.0,769.21 L227.5,768.92 L228.0,768.64 L228.5,768.35 L229.0,768.05 L229.5,767.76 L230.0,767.46 L230.5,767.16 L231.0,766.86 L231.5,766.55 L232.0,766.24 L232.5,765.92 L233.0,765.60 L233.5,765.28 L234.0,764.95 L234.5,764.62 L235.0,764.28 L235.5,763.94 L236.0,763.59 L236.5,763.24 L237.0,762.88 L237.5,762.52 L238.0,762.16 L238.5,761.79 L239.0,761.42 L239.5,761.04 L240.0,760.67 L240.5,760.29 L241.0,759.91 L241.5,759.52 L242.0,759.14 L242.5,758.75 L243.0,758.36 L243.5,757.98 L244.0,757.59 L244.5,757.20 L245.0,756.82 L245.5,756.43 L246.0,756.04 L246.5,755.66 L247.0,755.27 L247.5,754.89 L248.0,754.51 L248.5,754.13 L249.0,753.75 L249.5,753.36 L250.0,752.98 L250.5,752.60 L251.0,752.21 L251.5,751.83 L252.0,751.44 L252.5,751.05 L253.0,750.66 L253.5,750.26 L254.0,749.87 L254.5,749.48 L255.0,749.09 L255.5,748.70 L256.0,748.31 L256.5,747.93 L257.0,747.55 L257.5,747.17 L258.0,746.80 L258.5,746.44 L259.0,746.09 L259.5,745.75 L260.0,745.41 L260.5,745.09 L261.0,744.77 L261.5,744.47 L262.0,744.18 L262.5,743.90 L263.0,743.62 L263.5,743.36 L264.0,743.11 L264.5,742.87 L265.0,742.63 L265.5,742.40 L266.0,742.17 L266.5,741.95 L267.0,741.74 L267.5,741.53 L268.0,741.32 L268.5,741.12 L269.0,740.92 L269.5,740.73 L270.0,740.55 L270.5,740.37 L271.0,740.20 L271.5,740.04 L272.0,739.88 L272.5,739.73 L273.0,739.60 L273.5,739.47 L274.0,739.36 L274.5,739.26 L275.0,739.17 L275.5,739.09 L276.0,739.03 L276.5,738.98 L277.0,738.95 L277.5,738.93 L278.0,738.93 L278.5,738.94 L279.0,738.97 L279.5,739.02 L280.0,739.08 L280.5,739.16 L281.0,739.25 L281.5,739.36 L282.0,739.48 L282.5,739.62 L283.0,739.77 L283.5,739.93 L284.0,740.10 L284.5,740.28 L285.0,740.48 L285.5,740.68 L286.0,740.88 L286.5,741.10 L287.0,741.32 L287.5,741.55 L288.0,741.78 L288.5,742.01 L289.0,742.25 L289.5,742.50 L290.0,742.74 L290.5,742.99 L291.0,743.24 L291.5,743.50 L292.0,743.76 L292.5,744.02 L293.0,744.29 L293.5,744.57 L294.0,744.85 L294.5,745.14 L295.0,745.44 L295.5,745.74 L296.0,746.06 L296.5,746.38 L297.0,746.71 L297.5,747.04 L298.0,747.38 L298.5,747.73 L299.0,748.08 L299.5,748.44 L300.0,748.79 L300.5,749.15 L301.0,749.51 L301.5,749.87 L302.0,750.22 L302.5,750.58 L303.0,750.93 L303.5,751.28 L304.0,751.63 L304.5,751.97 L305.0,752.30 L305.5,752.63 L306.0,752.96 L306.5,753.29 L307.0,753.61 L307.5,753.92 L308.0,754.23 L308.5,754.54 L309.0,754.85 L309.5,755.15 L310.0,755.44 L310.5,755.73 L311.0,756.02 L311.5,756.29 L312.0,756.57 L312.5,756.83 L313.0,757.09 L313.5,757.33 L314.0,757.57 L314.5,757.80 L315.0,758.02 L315.5,758.23 L316.0,758.44 L316.5,758.63 L317.0,758.82 L317.5,759.00 L318.0,759.18 L318.5,759.34 L319.0,759.50 L319.5,759.65 L320.0,759.79 L320.5,759.91 L321.0,760.02 L321.5,760.12 L322.0,760.19 L322.5,760.23 L323.0,760.25 L323.5,760.22 L324.0,760.16 L324.5,760.06 L325.0,759.90 L325.5,759.69 L326.0,759.43 L326.5,759.12 L327.0,758.76 L327.5,758.35 L328.0,757.90 L328.5,757.42 L329.0,756.91 L329.5,756.37 L330.0,755.82 L330.5,755.25 L331.0,754.66 L331.5,754.07 L332.0,753.45 L332.5,752.82 L333.0,752.15 L333.5,751.46 L334.0,750.74 L334.5,749.97 L335.0,749.15 L335.5,748.29 L336.0,747.37 L336.5,746.40 L337.0,745.37 L337.5,744.29 L338.0,743.16 L338.5,741.98 L339.0,740.76 L339.5,739.49 L340.0,738.19 L340.5,736.85 L341.0,735.48 L341.5,734.08 L342.0,732.65 L342.5,731.20 L343.0,729.73 L343.5,728.23 L344.0,726.70 L344.5,725.16 L345.0,723.59 L345.5,721.99 L346.0,720.37 L346.5,718.72 L347.0,717.04 L347.5,715.33 L348.0,713.60 L348.5,711.85 L349.0,710.06 L349.5,708.25 L350.0,706.41 L350.5,704.55 L351.0,702.65 L351.5,700.73 L352.0,698.79 L352.5,696.81 L353.0,694.81 L353.5,692.79 L354.0,690.75 L354.5,688.69 L355.0,686.62 L355.5,684.55 L356.0,682.47 L356.5,680.41 L357.0,678.36 L357.5,676.32 L358.0,674.31 L358.5,672.33 L359.0,670.39 L359.5,668.48 L360.0,666.62 L360.5,664.80 L361.0,663.04 L361.5,661.33 L362.0,659.68 L362.5,658.10 L363.0,656.60 L363.5,655.17 L364.0,653.83 L364.5,652.58 L365.0,651.42 L365.5,650.35 L366.0,649.38 L366.5,648.51 L367.0,647.72 L367.5,647.02 L368.0,646.41 L368.5,645.88 L369.0,645.42 L369.5,645.04 L370.0,644.73 L370.5,644.49 L371.0,644.32 L371.5,644.21 L372.0,644.17 L372.5,644.19 L373.0,644.26 L373.5,644.40 L374.0,644.59 L374.5,644.84 L375.0,645.14 L375.5,645.50 L376.0,645.91 L376.5,646.39 L377.0,646.92 L377.5,647.51 L378.0,648.16 L378.5,648.88 L379.0,649.65 L379.5,650.49 L380.0,651.38 L380.5,652.32 L381.0,653.31 L381.5,654.35 L382.0,655.43 L382.5,656.55 L383.0,657.72 L383.5,658.92 L384.0,660.15 L384.5,661.43 L385.0,662.73 L385.5,664.08 L386.0,665.46 L386.5,666.88 L387.0,668.34 L387.5,669.83 L388.0,671.37 L388.5,672.95 L389.0,674.57 L389.5,676.24 L390.0,677.95 L390.5,679.72 L391.0,681.53 L391.5,683.39 L392.0,685.29 L392.5,687.22 L393.0,689.19 L393.5,691.18 L394.0,693.19 L394.5,695.20 L395.0,697.21 L395.5,699.21 L396.0,701.19 L396.5,703.13 L397.0,705.04 L397.5,706.91 L398.0,708.74 L398.5,710.51 L399.0,712.24 L399.5,713.93 L400.0,715.57 L400.5,717.17 L401.0,718.74 L401.5,720.27 L402.0,721.78 L402.5,723.26 L403.0,724.72 L403.5,726.16 L404.0,727.59 L404.5,729.00 L405.0,730.39 L405.5,731.77 L406.0,733.14 L406.5,734.49 L407.0,735.83 L407.5,737.16 L408.0,738.48 L408.5,739.78 L409.0,741.08 L409.5,742.36 L410.0,743.63 L410.5,744.89 L411.0,746.14 L411.5,747.38 L412.0,748.62 L412.5,749.84 L413.0,751.05 L413.5,752.26 L414.0,753.45 L414.5,754.62 L415.0,755.77 L415.5,756.91 L416.0,758.02 L416.5,759.10 L417.0,760.16 L417.5,761.18 L418.0,762.17 L418.5,763.13 L419.0,764.06 L419.5,764.95 L420.0,765.81 L420.5,766.64 L421.0,767.44 L421.5,768.21 L422.0,768.95 L422.5,769.67 L423.0,770.36 L423.5,771.02 L424.0,771.67 L424.5,772.29 L425.0,772.88 L425.5,773.46 L426.0,774.02 L426.5,774.56 L427.0,775.08 L427.5,775.58 L428.0,776.07 L428.5,776.55 L429.0,777.01 L429.5,777.46 L430.0,777.90 L430.5,778.33 L431.0,778.75 L431.5,779.16 L432.0,779.56 L432.5,779.96 L433.0,780.35 L433.5,780.73 L434.0,781.11 L434.5,781.48 L435.0,781.84 L435.5,782.20 L436.0,782.55 L436.5,782.89 L437.0,783.22 L437.5,783.55 L438.0,783.87 L438.5,784.18 L439.0,784.48 L439.5,784.78 L440.0,785.07 L440.5,785.35 L441.0,785.63 L441.5,785.90 L442.0,786.16 L442.5,786.41 L443.0,786.66 L443.5,786.90 L444.0,787.13 L444.5,787.36 L445.0,787.57 L445.5,787.78 L446.0,787.99 L446.5,788.18 L447.0,788.37 L447.5,788.55 L448.0,788.73 L448.5,788.90 L449.0,789.06 L449.5,789.22 L450.0,789.37 L450.5,789.52 L451.0,789.66 L451.5,789.80 L452.0,789.93 L452.5,790.06 L453.0,790.19 L453.5,790.31 L454.0,790.43 L454.5,790.55 L455.0,790.66 L455.5,790.77 L456.0,790.87 L456.5,790.98 L457.0,791.07 L457.5,791.16 L458.0,791.25 L458.5,791.33 L459.0,791.41 L459.5,791.48 L460.0,791.54 L460.5,791.59 L461.0,791.64 L461.5,791.68 L462.0,791.72 L462.5,791.75 L463.0,791.78 L463.5,791.80 L464.0,791.82 L464.5,791.84 L465.0,791.85 L465.5,791.86 L466.0,791.87 L466.5,791.88 L467.0,791.89 L467.5,791.90 L468.0,791.91 L468.5,791.92 L469.0,791.92 L469.5,791.93 L470.0,791.94 L470.5,791.94 L471.0,791.95 L471.5,791.95 L472.0,791.96 L472.5,791.96 L473.0,791.97 L473.5,791.97 L474.0,791.98 L474.5,791.98 L475.0,791.98 L475.5,791.98 L476.0,791.99 L476.5,791.99 L477.0,791.99 L477.5,791.99 L478.0,791.99 L478.5,792.00 L479.0,792.00 L479.5,792.00 L480.0,792.00 L480.5,792.00 L481.0,792.00 L481.5,792.00 L482.0,792.00 L482.5,792.00 L483.0,792.00 L483.5,792.00 L484.0,792.00 L484.5,792.00 L485.0,792.00 L485.5,792.00 L486.0,792.00 L486.5,792.00 L487.0,792.00 L487.5,792.00 L488.0,792.00 L488.5,792.00 L489.0,792.00 L489.5,792.00 L490.0,792.00 L490.5,792.00 L491.0,792.00 L491.5,792.00 L492.0,792.00 L492.5,792.00 L493.0,792.00 L493.5,792.00 L494.0,792.00 L494.5,792.00 L495.0,792.00 L495.5,792.00 L496.0,792.00 L496.5,792.00 L497.0,792.00 L497.5,792.00 L498.0,792.00 L498.5,792.00 L499.0,792.00 L499.5,792.00 L500.0,792.00 L500.5,792.00 L501.0,792.00 L501.5,792.00 L502.0,792.00 L502.5,792.00 L503.0,792.00 L503.5,792.00 L504.0,792.00 L504.5,792.00 L505.0,792.00 L505.5,792.00 L506.0,792.00 L506.5,792.00 L507.0,791.99 L507.5,791.99 L508.0,791.98 L508.5,791.97 L509.0,791.96 L509.5,791.94 L510.0,791.92 L510.5,791.88 L511.0,791.84 L511.5,791.79 L512.0,791.73 L512.5,791.66 L513.0,791.57 L513.5,791.47 L514.0,791.36 L514.5,791.24 L515.0,791.10 L515.5,790.95 L516.0,790.79 L516.5,790.62 L517.0,790.43 L517.5,790.24 L518.0,790.03 L518.5,789.81 L519.0,789.58 L519.5,789.33 L520.0,789.07 L520.5,788.80 L521.0,788.51 L521.5,788.22 L522.0,787.90 L522.5,787.58 L523.0,787.25 L523.5,786.91 L524.0,786.55 L524.5,786.19 L525.0,785.82 L525.5,785.45 L526.0,785.06 L526.5,784.67 L527.0,784.28 L527.5,783.89 L528.0,783.49 L528.5,783.09 L529.0,782.68 L529.5,782.28 L530.0,781.88 L530.5,781.48 L531.0,781.08 L531.5,780.68 L532.0,780.28 L532.5,779.89 L533.0,779.50 L533.5,779.10 L534.0,778.71 L534.5,778.32 L535.0,777.93 L535.5,777.54 L536.0,777.15 L536.5,776.76 L537.0,776.36 L537.5,775.96 L538.0,775.56 L538.5,775.16 L539.0,774.76 L539.5,774.35 L540.0,773.94 L540.5,773.54 L541.0,773.13 L541.5,772.72 L542.0,772.31 L542.5,771.91 L543.0,771.51 L543.5,771.11 L544.0,770.72 L544.5,770.33 L545.0,769.94 L545.5,769.56 L546.0,769.19 L546.5,768.83 L547.0,768.47 L547.5,768.12 L548.0,767.78 L548.5,767.45 L549.0,767.13 L549.5,766.82 L550.0,766.52 L550.5,766.23 L551.0,765.95 L551.5,765.67 L552.0,765.41 L552.5,765.15 L553.0,764.91 L553.5,764.67 L554.0,764.44 L554.5,764.21 L555.0,764.00 L555.5,763.79 L556.0,763.59 L556.5,763.39 L557.0,763.21 L557.5,763.03 L558.0,762.86 L558.5,762.69 L559.0,762.53 L559.5,762.38 L560.0,762.24 L560.5,762.10 L561.0,761.97 L561.5,761.84 L562.0,761.72 L562.5,761.60 L563.0,761.49 L563.5,761.38 L564.0,761.27 L564.5,761.16 L565.0,761.06 L565.5,760.96 L566.0,760.87 L566.5,760.77 L567.0,760.68 L567.5,760.59 L568.0,760.50 L568.5,760.42 L569.0,760.33 L569.5,760.25 L570.0,760.17 L570.5,760.09 L571.0,760.01 L571.5,759.93 L572.0,759.85 L572.5,759.78 L573.0,759.70 L573.5,759.63 L574.0,759.56 L574.5,759.48 L575.0,759.41 L575.5,759.34 L576.0,759.27 L576.5,759.20 L577.0,759.13 L577.5,759.06 L578.0,758.99 L578.5,758.92 L579.0,758.85 L579.5,758.78 L580.0,758.70 L580.5,758.63 L581.0,758.56 L581.5,758.49 L582.0,758.41 L582.5,758.34 L583.0,758.26 L583.5,758.19 L584.0,758.11 L584.5,758.03 L585.0,757.95 L585.5,757.87 L586.0,757.79 L586.5,757.71 L587.0,757.63 L587.5,757.55 L588.0,757.46 L588.5,757.38 L589.0,757.30 L589.5,757.21 L590.0,757.13 L590.5,757.05 L591.0,756.96 L591.5,756.88 L592.0,756.80 L592.5,756.71 L593.0,756.63 L593.5,756.55 L594.0,756.46 L594.5,756.38 L595.0,756.29 L595.5,756.21 L596.0,756.13 L596.5,756.04 L597.0,755.96 L597.5,755.88 L598.0,755.79 L598.5,755.71 L599.0,755.62 L599.5,755.54 L600.0,755.46 L600.5,755.37 L601.0,755.29 L601.5,755.21 L602.0,755.12 L602.5,755.04 L603.0,754.96 L603.5,754.87 L604.0,754.79 L604.5,754.70 L605.0,754.62 L605.5,754.54 L606.0,754.45 L606.5,754.37 L607.0,754.29 L607.5,754.20 L608.0,754.12 L608.5,754.03 L609.0,753.95 L609.5,753.87 L610.0,753.78 L610.5,753.70 L611.0,753.61 L611.5,753.53 L612.0,753.44 L612.5,753.36 L613.0,753.27 L613.5,753.18 L614.0,753.10 L614.5,753.01 L615.0,752.92 L615.5,752.83 L616.0,752.74 L616.5,752.65 L617.0,752.56 L617.5,752.47 L618.0,752.38 L618.5,752.28 L619.0,752.19 L619.5,752.10 L620.0,752.01 L620.5,751.91 L621.0,751.82 L621.5,751.73 L622.0,751.64 L622.5,751.55 L623.0,751.45 L623.5,751.36 L624.0,751.27 L624.5,751.18 L625.0,751.09 L625.5,751.00 L626.0,750.91 L626.5,750.83 L627.0,750.74 L627.5,750.65 L628.0,750.57 L628.5,750.49 L629.0,750.40 L629.5,750.32 L630.0,750.24 L630.5,750.16 L631.0,750.08 L631.5,750.01 L632.0,749.93 L632.5,749.86 L633.0,749.79 L633.5,749.72 L634.0,749.65 L634.5,749.58 L635.0,749.52 L635.5,749.45 L636.0,749.39 L636.5,749.33 L637.0,749.27 L637.5,749.21 L638.0,749.15 L638.5,749.09 L639.0,749.04 L639.5,748.98 L640.0,748.93 L640.5,748.87 L641.0,748.81 L641.5,748.76 L642.0,748.71 L642.5,748.65 L643.0,748.60 L643.5,748.55 L644.0,748.49 L644.5,748.44 L645.0,748.39 L645.5,748.35 L646.0,748.30 L646.5,748.25 L647.0,748.21 L647.5,748.17 L648.0,748.13 L648.5,748.09 L649.0,748.06 L649.5,748.02 L650.0,747.99 L650.5,747.97 L651.0,747.95 L651.5,747.93 L652.0,747.92 L652.5,747.92 L653.0,747.92 L653.5,747.94 L654.0,747.96 L654.5,748.00 L655.0,748.05 L655.5,748.12 L656.0,748.20 L656.5,748.30 L657.0,748.42 L657.5,748.55 L658.0,748.70 L658.5,748.87 L659.0,749.04 L659.5,749.23 L660.0,749.44 L660.5,749.65 L661.0,749.86 L661.5,750.09 L662.0,750.32 L662.5,750.56 L663.0,750.80 L663.5,751.05 L664.0,751.30 L664.5,751.56 L665.0,751.82 L665.5,752.09 L666.0,752.36 L666.5,752.65 L667.0,752.94 L667.5,753.23 L668.0,753.53 L668.5,753.84 L669.0,754.15 L669.5,754.46 L670.0,754.78 L670.5,755.11 L671.0,755.43 L671.5,755.76 L672.0,756.09 L672.5,756.42 L673.0,756.75 L673.5,757.08 L674.0,757.40 L674.5,757.73 L675.0,758.05 L675.5,758.36 L676.0,758.68 L676.5,758.98 L677.0,759.29 L677.5,759.58 L678.0,759.88 L678.5,760.16 L679.0,760.44 L679.5,760.72 L680.0,760.99 L680.5,761.26 L681.0,761.53 L681.5,761.79 L682.0,762.06 L682.5,762.32 L683.0,762.58 L683.5,762.84 L684.0,763.10 L684.5,763.36 L685.0,763.62 L685.5,763.87 L686.0,764.13 L686.5,764.38 L687.0,764.63 L687.5,764.88 L688.0,765.12 L688.5,765.36 L689.0,765.59 L689.5,765.82 L690.0,766.03 L690.5,766.24 L691.0,766.44 L691.5,766.63 L692.0,766.81 L692.5,766.97 L693.0,767.13 L693.5,767.27 L694.0,767.40 L694.5,767.52 L695.0,767.62 L695.5,767.71 L696.0,767.79 L696.5,767.85 L697.0,767.90 L697.5,767.94 L698.0,767.97 L698.5,767.99 L699.0,768.00 L699.5,768.01 L700.0,768.00 L700.5,767.99 L701.0,767.98 L701.5,767.96 L702.0,767.94 L702.5,767.91 L703.0,767.88 L703.5,767.85 L704.0,767.81 L704.5,767.78 L705.0,767.73 L705.5,767.69 L706.0,767.65 L706.5,767.60 L707.0,767.55 L707.5,767.50 L708.0,767.44 L708.5,767.39 L709.0,767.33 L709.5,767.27 L710.0,767.21 L710.5,767.15 L711.0,767.08 L711.5,767.02 L712.0,766.95 L712.5,766.88 L713.0,766.82 L713.5,766.75 L714.0,766.67 L714.5,766.60 L715.0,766.53 L715.5,766.46 L716.0,766.38 L716.5,766.31 L717.0,766.23 L717.5,766.15 L718.0,766.08 L718.5,766.00 L719.0,765.92 L719.5,765.85 L720.0,765.77 L720.5,765.69 L721.0,765.61 L721.5,765.53 L722.0,765.46 L722.5,765.38 L723.0,765.30 L723.5,765.22 L724.0,765.13 L724.5,765.05 L725.0,764.96 L725.5,764.87 L726.0,764.78 L726.5,764.68 L727.0,764.58 L727.5,764.48 L728.0,764.37 L728.5,764.26 L729.0,764.15 L729.5,764.03 L730.0,763.91 L730.5,763.78 L731.0,763.66 L731.5,763.53 L732.0,763.40 L732.5,763.26 L733.0,763.13 L733.5,763.00 L734.0,762.86 L734.5,762.73 L735.0,762.59 L735.5,762.46 L736.0,762.33 L736.5,762.20 L737.0,762.08 L737.5,761.95 L738.0,761.83 L738.5,761.72 L739.0,761.61 L739.5,761.50 L740.0,761.40 L740.5,761.30 L741.0,761.21 L741.5,761.13 L742.0,761.06 L742.5,760.99 L743.0,760.94 L743.5,760.90 L744.0,760.86 L744.5,760.85 L745.0,760.85 L745.5,760.86 L746.0,760.90 L746.5,760.95 L747.0,761.03 L747.5,761.13 L748.0,761.26 L748.5,761.40 L749.0,761.57 L749.5,761.76 L750.0,761.98 L750.5,762.21 L751.0,762.47 L751.5,762.74 L752.0,763.04 L752.5,763.35 L753.0,763.68 L753.5,764.04 L754.0,764.41 L754.5,764.80 L755.0,765.22 L755.5,765.64 L756.0,766.09 L756.5,766.55 L757.0,767.02 L757.5,767.50 L758.0,767.99 L758.5,768.49 L759.0,768.98 L759.5,769.48 L760.0,769.97 L760.5,770.47 L761.0,770.95 L761.5,771.43 L762.0,771.90 L762.5,772.37 L763.0,772.83 L763.5,773.28 L764.0,773.72 L764.5,774.16 L765.0,774.59 L765.5,775.02 L766.0,775.44 L766.5,775.86 L767.0,776.27 L767.5,776.68 L768.0,777.09 L768.5,777.50 L769.0,777.90 L769.5,778.29 L770.0,778.69 L770.5,779.08 L771.0,779.47 L771.5,779.86 L772.0,780.24 L772.5,780.63 L773.0,781.01 L773.5,781.39 L774.0,781.77 L774.5,782.14 L775.0,782.52 L775.5,782.90 L776.0,783.28 L776.5,783.66 L777.0,784.04 L777.5,784.42 L778.0,784.80 L778.5,785.18 L779.0,785.56 L779.5,785.94 L780.0,786.30 L780.5,786.67 L781.0,787.02 L781.5,787.37 L782.0,787.71 L782.5,788.03 L783.0,788.34 L783.5,788.64 L784.0,788.92 L784.5,789.18 L785.0,789.43 L785.5,789.66 L786.0,789.87 L786.5,790.06 L787.0,790.24 L787.5,790.41 L788.0,790.56 L788.5,790.69 L789.0,790.82 L789.5,790.94 L790.0,791.04 L790.5,791.14 L791.0,791.24 L791.5,791.32 L792.0,791.41 L792.5,791.48 L793.0,791.55 L793.5,791.61 L794.0,791.67 L794.5,791.73 L795.0,791.77 L795.5,791.82 L796.0,791.85 L796.5,791.88 L797.0,791.91 L797.5,791.93 L798.0,791.95 L798.5,791.96 L799.0,791.97 L799.5,791.98 L800.0,791.99 L800.5,791.99 L801.0,791.99 L801.5,792.00 L802.0,792.00 L802.5,792.00 L803.0,792.00 L803.5,792.00 L804.0,792.00 L804.5,792.00 L805.0,792.00 L805.5,792.00 L806.0,792.00 L806.5,792.00 L807.0,792.00 L807.5,792.00 L808.0,792.00 L808.5,792.00 L809.0,792.00 L809.5,792.00 L810.0,792.00 L810.5,792.00 L811.0,792.00 L811.5,792.00 L812.0,792.00 L812.5,792.00 L813.0,792.00 L813.5,792.00 L814.0,792.00 L814.5,792.00 L815.0,792.00 L815.5,792.00 L816.0,792.00 L816.5,792.00 L817.0,792.00 L817.5,792.00 L818.0,792.00 L818.5,792.00 L819.0,792.00 L819.5,792.00 L820.0,792.00 L820.5,792.00 L821.0,792.00 L821.5,792.00 L822.0,792.00 L822.5,792.00 L823.0,792.00 L823.5,792.00 L824.0,792.00 L824.5,792.00 L825.0,792.00 L825.5,792.00 L826.0,792.00 L826.5,792.00 L827.0,792.00 L827.5,792.00 L828.0,792.00 L828.5,792.00 L829.0,792.00 L829.5,792.00 L830.0,792.00 L830.5,792.00 L831.0,792.00 L831.5,792.00 L832.0,792.00 L832.5,792.00 L833.0,792.00 L833.5,792.00 L834.0,792.00 L834.5,792.00 L835.0,792.00 L835.5,792.00 L836.0,792.00 L836.5,792.00 L837.0,792.00 L837.5,792.00 L838.0,792.00 L838.5,792.00 L839.0,792.00 L839.5,792.00 L840.0,792.00 L840.5,792.00 L841.0,792.00 L841.5,792.00 L842.0,792.00 L842.5,792.00 L843.0,792.00 L843.5,792.00 L844.0,792.00 L844.5,792.00 L845.0,792.00 L845.5,792.00 L846.0,792.00 L846.5,792.00 L847.0,792.00 L847.5,792.00 L848.0,791.99 L848.5,791.99 L849.0,791.98 L849.5,791.98 L850.0,791.97 L850.5,791.96 L851.0,791.95 L851.5,791.93 L852.0,791.91 L852.5,791.89 L853.0,791.86 L853.5,791.83 L854.0,791.80 L854.5,791.76 L855.0,791.72 L855.5,791.67 L856.0,791.62 L856.5,791.56 L857.0,791.50 L857.5,791.44 L858.0,791.37 L858.5,791.30 L859.0,791.23 L859.5,791.15 L860.0,791.06 L860.5,790.98 L861.0,790.88 L861.5,790.79 L862.0,790.69 L862.5,790.59 L863.0,790.48 L863.5,790.37 L864.0,790.26 L864.5,790.14 L865.0,790.02 L865.5,789.89 L866.0,789.76 L866.5,789.63 L867.0,789.49 L867.5,789.35 L868.0,789.20 L868.5,789.05 L869.0,788.89 L869.5,788.72 L870.0,788.53 L870.5,788.33 L871.0,788.12 L871.5,787.88 L872.0,787.62 L872.5,787.34 L873.0,787.02 L873.5,786.67 L874.0,786.29 L874.5,785.87 L875.0,785.41 L875.5,784.91 L876.0,784.37 L876.5,783.80 L877.0,783.19 L877.5,782.54 L878.0,781.85 L878.5,781.14 L879.0,780.39 L879.5,779.62 L880.0,778.82 L880.5,777.99 L881.0,777.15 L881.5,776.28 L882.0,775.40 L882.5,774.49 L883.0,773.58 L883.5,772.65 L884.0,771.71 L884.5,770.76 L885.0,769.80 L885.5,768.83 L886.0,767.85 L886.5,766.86 L887.0,765.85 L887.5,764.83 L888.0,763.80 L888.5,762.75 L889.0,761.68 L889.5,760.59 L890.0,759.48 L890.5,758.34 L891.0,757.18 L891.5,755.98 L892.0,754.76 L892.5,753.51 L893.0,752.23 L893.5,750.92 L894.0,749.57 L894.5,748.18 L895.0,746.76 L895.5,745.30 L896.0,743.81 L896.5,742.26 L897.0,740.67 L897.5,739.04 L898.0,737.34 L898.5,735.59 L899.0,733.78 L899.5,731.89 L900.0,729.93 L900.5,727.88 L901.0,725.75 L901.5,723.52 L902.0,721.20 L902.5,718.78 L903.0,716.26 L903.5,713.65 L904.0,710.95 L904.5,708.16 L905.0,705.30 L905.5,702.35 L906.0,699.33 L906.5,696.25 L907.0,693.10 L907.5,689.90 L908.0,686.64 L908.5,683.34 L909.0,680.00 L909.5,676.63 L910.0,673.24 L910.5,669.85 L911.0,666.47 L911.5,663.12 L912.0,659.81 L912.5,656.54 L913.0,653.35 L913.5,650.23 L914.0,647.19 L914.5,644.24 L915.0,641.38 L915.5,638.61 L916.0,635.92 L916.5,633.31 L917.0,630.79 L917.5,628.34 L918.0,625.97 L918.5,623.67 L919.0,621.44 L919.5,619.29 L920.0,617.21 L920.5,615.21 L921.0,613.29 L921.5,611.45 L922.0,609.70 L922.5,608.03 L923.0,606.45 L923.5,604.95 L924.0,603.53 L924.5,602.20 L925.0,600.94 L925.5,599.76 L926.0,598.65 L926.5,597.62 L927.0,596.66 L927.5,595.77 L928.0,594.95 L928.5,594.22 L929.0,593.56 L929.5,593.00 L930.0,592.53 L930.5,592.15 L931.0,591.88 L931.5,591.72 L932.0,591.67 L932.5,591.72 L933.0,591.88 L933.5,592.15 L934.0,592.53 L934.5,593.00 L935.0,593.57 L935.5,594.22 L936.0,594.96 L936.5,595.77 L937.0,596.67 L937.5,597.63 L938.0,598.67 L938.5,599.79 L939.0,600.97 L939.5,602.24 L940.0,603.59 L940.5,605.01 L941.0,606.53 L941.5,608.12 L942.0,609.81 L942.5,611.57 L943.0,613.42 L943.5,615.35 L944.0,617.36 L944.5,619.44 L945.0,621.59 L945.5,623.80 L946.0,626.08 L946.5,628.42 L947.0,630.82 L947.5,633.29 L948.0,635.82 L948.5,638.41 L949.0,641.08 L949.5,643.82 L950.0,646.62 L950.5,649.50 L951.0,652.44 L951.5,655.45 L952.0,658.50 L952.5,661.60 L953.0,664.72 L953.5,667.87 L954.0,671.02 L954.5,674.15 L955.0,677.27 L955.5,680.35 L956.0,683.39 L956.5,686.38 L957.0,689.31 L957.5,692.19 L958.0,695.00 L958.5,697.76 L959.0,700.45 L959.5,703.08 L960.0,705.65 L960.5,708.16 L961.0,710.61 L961.5,713.00 L962.0,715.32 L962.5,717.59 L963.0,719.79 L963.5,721.93 L964.0,724.01 L964.5,726.03 L965.0,727.99 L965.5,729.90 L966.0,731.76 L966.5,733.58 L967.0,735.34 L967.5,737.07 L968.0,738.75 L968.5,740.40 L969.0,742.02 L969.5,743.60 L970.0,745.14 L970.5,746.66 L971.0,748.14 L971.5,749.59 L972.0,751.01 L972.5,752.40 L973.0,753.76 L973.5,755.09 L974.0,756.39 L974.5,757.65 L975.0,758.89 L975.5,760.10 L976.0,761.29 L976.5,762.45 L977.0,763.59 L977.5,764.71 L978.0,765.80 L978.5,766.89 L979.0,767.95 L979.5,769.00 L980.0,770.04 L980.5,771.07 L981.0,772.08 L981.5,773.08 L982.0,774.07 L982.5,775.04 L983.0,775.99 L983.5,776.93 L984.0,777.84 L984.5,778.72 L985.0,779.58 L985.5,780.41 L986.0,781.20 L986.5,781.96 L987.0,782.68 L987.5,783.36 L988.0,784.00 L988.5,784.60 L989.0,785.15 L989.5,785.66 L990.0,786.12 L990.5,786.54 L991.0,786.91 L991.5,787.25 L992.0,787.56 L992.5,787.83 L993.0,788.08 L993.5,788.30 L994.0,788.50 L994.5,788.69 L995.0,788.86 L995.5,789.02 L996.0,789.18 L996.5,789.32 L997.0,789.46 L997.5,789.60 L998.0,789.73 L998.5,789.85 L999.0,789.97 L999.5,790.09 L1000.0,790.21 L1000.5,790.32 L1001.0,790.43 L1001.5,790.53 L1002.0,790.63 L1002.5,790.73 L1003.0,790.82 L1003.5,790.92 L1004.0,791.00 L1004.5,791.08 L1005.0,791.16 L1005.5,791.24 L1006.0,791.31 L1006.5,791.38 L1007.0,791.44 L1007.5,791.50 L1008.0,791.56 L1008.5,791.61 L1009.0,791.66 L1009.5,791.71 L1010.0,791.75 L1010.5,791.79 L1011.0,791.82 L1011.5,791.85 L1012.0,791.88 L1012.5,791.90 L1013.0,791.92 L1013.5,791.94 L1014.0,791.95 L1014.5,791.96 L1015.0,791.97 L1015.5,791.98 L1016.0,791.99 L1016.5,791.99 L1017.0,791.99 L1017.5,792.00 L1018.0,792.00 L1018.5,792.00 L1019.0,792.00 L1019.5,792.00 L1020.0,792.00 L1020.5,792.00 L1021.0,792.00 L1021.5,792.00 L1022.0,792.00 L1022.5,792.00 L1023.0,792.00 L1023.5,792.00 L1024.0,792.00 L1024.5,792.00 L1025.0,792.00 L1025.5,792.00 L1026.0,792.00 L1026.5,792.00 L1027.0,792.00 L1027.5,792.00 L1028.0,792.00 L1028.5,792.00 L1029.0,792.00 L1029.5,792.00 L1030.0,792.00 L1030.5,792.00 L1031.0,792.00 L1031.5,792.00 L1032.0,792.00 L1032.5,792.00 L1033.0,792.00 L1033.5,792.00 L1034.0,792.00 L1034.5,792.00 L1035.0,792.00 L1035.5,792.00 L1036.0,792.00 L1036.5,792.00 L1037.0,792.00 L1037.5,792.00 L1038.0,792.00 L1038.5,792.00 L1039.0,792.00 L1039.5,792.00 L1040.0,792.00 L1040.5,792.00 L1041.0,792.00 L1041.5,792.00 L1042.0,792.00 L1042.5,792.00 L1043.0,792.00 L1043.5,792.00 L1044.0,792.00 L1044.5,792.00 L1045.0,792.00 L1045.5,792.00 L1046.0,792.00 L1046.5,792.00 L1047.0,792.00 L1047.5,792.00 L1048.0,792.00 L1048.5,792.00 L1049.0,792.00 L1049.5,792.00 L1050.0,792.00 L1050.5,792.00 L1051.0,792.00 L1051.5,792.00 L1052.0,792.00 L1052.5,792.00 L1053.0,792.00 L1053.5,792.00 L1054.0,792.00 L1054.5,792.00 L1055.0,792.00 L1055.5,792.00 L1056.0,792.00 L1056.5,792.00 L1057.0,792.00 L1057.5,792.00 L1058.0,792.00 L1058.5,792.00 L1059.0,792.00 L1059.5,792.00 L1060.0,792.00 L1060.5,792.00 L1061.0,792.00 L1061.5,792.00 L1062.0,792.00 L1062.5,792.00 L1063.0,792.00 L1063.5,792.00 L1064.0,792.00 L1064.5,792.00 L1065.0,792.00 L1065.5,792.00 L1066.0,792.00 L1066.5,792.00 L1067.0,792.00 L1067.5,792.00 L1068.0,792.00 L1068.5,792.00 L1069.0,792.00 L1069.5,792.00 L1070.0,792.00 L1070.5,792.00 L1071.0,792.00 L1071.5,792.00 L1072.0,792.00 L1072.5,792.00 L1073.0,792.00 L1073.5,792.00 L1074.0,792.00 L1074.5,792.00 L1075.0,792.00 L1075.5,792.00 L1076.0,792.00 L1076.5,792.00 L1077.0,792.00 L1077.5,792.00 L1078.0,792.00 L1078.5,792.00 L1079.0,792.00 L1079.5,792.00 L1080.0,792.00 L1080.5,792.00 L1081.0,792.00 L1081.5,792.00 L1082.0,792.00 L1082.5,792.00 L1083.0,792.00 L1083.5,792.00 L1084.0,792.00 L1084.5,792.00 L1085.0,792.00 L1085.5,792.00 L1086.0,792.00 L1086.5,792.00 L1087.0,792.00 L1087.5,792.00 L1088.0,792.00 L1088.5,792.00 L1089.0,792.00 L1089.5,792.00 L1090.0,792.00 L1090.5,792.00 L1091.0,792.00 L1091.5,792.00 L1092.0,792.00 L1092.5,792.00 L1093.0,792.00 L1093.5,792.00 L1094.0,792.00 L1094.5,792.00 L1095.0,792.00 L1095.5,792.00 L1096.0,792.00 L1096.5,792.00 L1097.0,792.00 L1097.5,792.00 L1098.0,792.00 L1098.5,792.00 L1099.0,792.00 L1099.5,792.00 L1100.0,792.00 L1100.5,792.00 L1101.0,792.00 L1101.5,792.00 L1102.0,792.00 L1102.5,792.00 L1103.0,792.00 L1103.5,792.00 L1104.0,792.00 L1104.5,792.00 L1105.0,792.00 L1105.5,792.00 L1106.0,792.00 L1106.5,792.00 L1107.0,792.00 L1107.5,792.00 L1108.0,792.00 L1108.5,792.00 L1109.0,792.00 L1109.5,792.00 L1110.0,792.00 L1110.5,792.00 L1111.0,792.00 L1111.5,792.00 L1112.0,792.00 L1112.5,792.00 L1113.0,792.00 L1113.5,792.00 L1114.0,792.00 L1114.5,792.00 L1115.0,792.00 L1115.5,792.00 L1116.0,792.00 L1116.5,792.00 L1117.0,792.00 L1117.5,792.00 L1118.0,792.00 L1118.5,792.00 L1119.0,792.00 L1119.5,792.00 L1120.0,792.00 L1120.5,792.00 L1121.0,792.00 L1121.5,792.00 L1122.0,792.00 L1122.5,792.00 L1123.0,792.00 L1123.5,792.00 L1124.0,792.00 L1124.5,792.00 L1125.0,792.00 L1125.5,792.00 L1126.0,792.00 L1126.5,792.00 L1127.0,792.00 L1127.5,792.00 L1128.0,792.00 L1128.5,792.00 L1129.0,792.00 L1129.5,792.00 L1130.0,792.00 L1130.5,792.00 L1131.0,792.00 L1131.5,792.00 L1132.0,792.00 L1132.5,792.00 L1133.0,792.00 L1133.5,792.00 L1134.0,792.00 L1134.5,792.00 L1135.0,792.00 L1135.5,792.00 L1136.0,792.00 L1136.5,792.00 L1137.0,792.00 L1137.5,792.00 L1138.0,792.00 L1138.5,792.00 L1139.0,792.00 L1139.5,792.00 L1140.0,792.00 L1140.5,792.00 L1141.0,792.00 L1141.5,792.00 L1142.0,792.00 L1142.5,792.00 L1143.0,792.00 L1143.5,792.00 L1144.0,792.00 L1144.5,792.00 L1145.0,792.00 L1145.5,792.00 L1146.0,792.00 L1146.5,792.00 L1147.0,792.00 L1147.5,792.00 L1148.0,792.00 L1148.5,792.00 L1149.0,792.00 L1149.5,792.00 L1150.0,792.00 L1150.5,792.00 L1151.0,792.00 L1151.5,792.00 L1152.0,792.00 L1152.5,792.00 L1153.0,792.00 L1153.5,792.00 L1154.0,792.00 L1154.5,792.00 L1155.0,792.00 L1155.5,792.00 L1156.0,792.00 L1156.5,792.00 L1157.0,792.00 L1157.5,792.00 L1158.0,792.00 L1158.5,792.00 L1159.0,792.00 L1159.5,792.00 L1160.0,792.00 L1160.5,792.00 L1161.0,792.00 L1161.5,792.00 L1162.0,792.00 L1162.5,792.00 L1163.0,792.00 L1163.5,792.00 L1164.0,792.00 L1164.5,792.00 L1165.0,792.00 L1165.5,792.00 L1166.0,792.00 L1166.5,792.00 L1167.0,792.00 L1167.5,792.00 L1168.0,792.00 L1168.5,792.00 L1169.0,792.00 L1169.5,792.00 L1170.0,792.00 L1170.5,792.00 L1171.0,792.00 L1171.5,792.00 L1172.0,792.00 L1172.5,792.00 L1173.0,792.00 L1173.5,792.00 L1174.0,792.00 L1174.5,792.00 L1175.0,792.00 L1175.5,792.00 L1176.0,792.00 L1176.5,792.00 L1177.0,792.00" fill="none" stroke="#f3a63c" stroke-width="1.8" stroke-linejoin="round"/>
<path d="M137.5,791.90 L138.0,791.88 L138.5,791.85 L139.0,791.81 L139.5,791.78 L140.0,791.74 L140.5,791.70 L141.0,791.66 L141.5,791.61 L142.0,791.57 L142.5,791.52 L143.0,791.48 L143.5,791.43 L144.0,791.38 L144.5,791.34 L145.0,791.29 L145.5,791.24 L146.0,791.19 L146.5,791.15 L147.0,791.10 L147.5,791.05 L148.0,791.01 L148.5,790.96 L149.0,790.91 L149.5,790.86 L150.0,790.81 L150.5,790.76 L151.0,790.72 L151.5,790.67 L152.0,790.62 L152.5,790.57 L153.0,790.52 L153.5,790.47 L154.0,790.42 L154.5,790.37 L155.0,790.31 L155.5,790.26 L156.0,790.21 L156.5,790.16 L157.0,790.11 L157.5,790.05 L158.0,790.00 L158.5,789.95 L159.0,789.90 L159.5,789.85 L160.0,789.79 L160.5,789.74 L161.0,789.69 L161.5,789.64 L162.0,789.59 L162.5,789.54 L163.0,789.49 L163.5,789.44 L164.0,789.39 L164.5,789.34 L165.0,789.29 L165.5,789.24 L166.0,789.19 L166.5,789.14 L167.0,789.09 L167.5,789.04 L168.0,788.99 L168.5,788.93 L169.0,788.88 L169.5,788.83 L170.0,788.78 L170.5,788.72 L171.0,788.66 L171.5,788.61 L172.0,788.55 L172.5,788.49 L173.0,788.43 L173.5,788.37 L174.0,788.31 L174.5,788.24 L175.0,788.18 L175.5,788.11 L176.0,788.04 L176.5,787.97 L177.0,787.90 L177.5,787.83 L178.0,787.75 L178.5,787.67 L179.0,787.59 L179.5,787.51 L180.0,787.42 L180.5,787.34 L181.0,787.24 L181.5,787.15 L182.0,787.05 L182.5,786.95 L183.0,786.84 L183.5,786.72 L184.0,786.60 L184.5,786.47 L185.0,786.34 L185.5,786.19 L186.0,786.04 L186.5,785.88 L187.0,785.71 L187.5,785.53 L188.0,785.34 L188.5,785.15 L189.0,784.94 L189.5,784.73 L190.0,784.51 L190.5,784.28 L191.0,784.05 L191.5,783.81 L192.0,783.57 L192.5,783.32 L193.0,783.06 L193.5,782.80 L194.0,782.53 L194.5,782.26 L195.0,781.99 L195.5,781.70 L196.0,781.42 L196.5,781.12 L197.0,780.82 L197.5,780.51 L198.0,780.20 L198.5,779.87 L199.0,779.54 L199.5,779.20 L200.0,778.85 L200.5,778.50 L201.0,778.14 L201.5,777.77 L202.0,777.40 L202.5,777.02 L203.0,776.64 L203.5,776.25 L204.0,775.85 L204.5,775.46 L205.0,775.06 L205.5,774.66 L206.0,774.25 L206.5,773.85 L207.0,773.44 L207.5,773.04 L208.0,772.63 L208.5,772.22 L209.0,771.81 L209.5,771.40 L210.0,770.99 L210.5,770.58 L211.0,770.17 L211.5,769.75 L212.0,769.34 L212.5,768.92 L213.0,768.50 L213.5,768.08 L214.0,767.66 L214.5,767.23 L215.0,766.81 L215.5,766.38 L216.0,765.95 L216.5,765.52 L217.0,765.09 L217.5,764.65 L218.0,764.22 L218.5,763.78 L219.0,763.35 L219.5,762.91 L220.0,762.48 L220.5,762.04 L221.0,761.61 L221.5,761.17 L222.0,760.74 L222.5,760.31 L223.0,759.87 L223.5,759.44 L224.0,759.01 L224.5,758.58 L225.0,758.15 L225.5,757.72 L226.0,757.29 L226.5,756.86 L227.0,756.43 L227.5,756.00 L228.0,755.58 L228.5,755.15 L229.0,754.72 L229.5,754.29 L230.0,753.86 L230.5,753.44 L231.0,753.01 L231.5,752.58 L232.0,752.15 L232.5,751.72 L233.0,751.29 L233.5,750.86 L234.0,750.44 L234.5,750.01 L235.0,749.58 L235.5,749.15 L236.0,748.72 L236.5,748.29 L237.0,747.86 L237.5,747.43 L238.0,747.01 L238.5,746.58 L239.0,746.15 L239.5,745.72 L240.0,745.30 L240.5,744.87 L241.0,744.45 L241.5,744.02 L242.0,743.60 L242.5,743.17 L243.0,742.75 L243.5,742.32 L244.0,741.89 L244.5,741.47 L245.0,741.04 L245.5,740.61 L246.0,740.18 L246.5,739.75 L247.0,739.32 L247.5,738.89 L248.0,738.45 L248.5,738.01 L249.0,737.57 L249.5,737.13 L250.0,736.68 L250.5,736.22 L251.0,735.77 L251.5,735.30 L252.0,734.83 L252.5,734.36 L253.0,733.87 L253.5,733.38 L254.0,732.88 L254.5,732.37 L255.0,731.86 L255.5,731.33 L256.0,730.80 L256.5,730.26 L257.0,729.72 L257.5,729.18 L258.0,728.64 L258.5,728.09 L259.0,727.55 L259.5,727.01 L260.0,726.49 L260.5,725.96 L261.0,725.45 L261.5,724.96 L262.0,724.47 L262.5,724.00 L263.0,723.55 L263.5,723.12 L264.0,722.70 L264.5,722.30 L265.0,721.91 L265.5,721.55 L266.0,721.20 L266.5,720.86 L267.0,720.53 L267.5,720.22 L268.0,719.92 L268.5,719.63 L269.0,719.34 L269.5,719.07 L270.0,718.80 L270.5,718.55 L271.0,718.30 L271.5,718.07 L272.0,717.84 L272.5,717.63 L273.0,717.43 L273.5,717.25 L274.0,717.08 L274.5,716.93 L275.0,716.80 L275.5,716.68 L276.0,716.58 L276.5,716.51 L277.0,716.46 L277.5,716.42 L278.0,716.41 L278.5,716.42 L279.0,716.46 L279.5,716.51 L280.0,716.59 L280.5,716.68 L281.0,716.80 L281.5,716.93 L282.0,717.09 L282.5,717.26 L283.0,717.44 L283.5,717.64 L284.0,717.85 L284.5,718.08 L285.0,718.32 L285.5,718.58 L286.0,718.85 L286.5,719.14 L287.0,719.44 L287.5,719.76 L288.0,720.10 L288.5,720.47 L289.0,720.85 L289.5,721.26 L290.0,721.70 L290.5,722.16 L291.0,722.64 L291.5,723.14 L292.0,723.67 L292.5,724.22 L293.0,724.78 L293.5,725.36 L294.0,725.95 L294.5,726.55 L295.0,727.17 L295.5,727.79 L296.0,728.41 L296.5,729.05 L297.0,729.69 L297.5,730.33 L298.0,730.99 L298.5,731.64 L299.0,732.31 L299.5,732.97 L300.0,733.64 L300.5,734.32 L301.0,734.99 L301.5,735.66 L302.0,736.33 L302.5,736.99 L303.0,737.65 L303.5,738.29 L304.0,738.93 L304.5,739.54 L305.0,740.15 L305.5,740.73 L306.0,741.30 L306.5,741.86 L307.0,742.40 L307.5,742.92 L308.0,743.43 L308.5,743.92 L309.0,744.40 L309.5,744.86 L310.0,745.31 L310.5,745.74 L311.0,746.16 L311.5,746.57 L312.0,746.96 L312.5,747.33 L313.0,747.68 L313.5,748.02 L314.0,748.34 L314.5,748.64 L315.0,748.93 L315.5,749.20 L316.0,749.46 L316.5,749.70 L317.0,749.92 L317.5,750.14 L318.0,750.34 L318.5,750.52 L319.0,750.70 L319.5,750.86 L320.0,751.01 L320.5,751.14 L321.0,751.24 L321.5,751.33 L322.0,751.38 L322.5,751.40 L323.0,751.37 L323.5,751.30 L324.0,751.17 L324.5,750.96 L325.0,750.69 L325.5,750.32 L326.0,749.86 L326.5,749.30 L327.0,748.61 L327.5,747.80 L328.0,746.86 L328.5,745.78 L329.0,744.56 L329.5,743.19 L330.0,741.69 L330.5,740.04 L331.0,738.27 L331.5,736.38 L332.0,734.38 L332.5,732.28 L333.0,730.09 L333.5,727.82 L334.0,725.48 L334.5,723.07 L335.0,720.60 L335.5,718.06 L336.0,715.45 L336.5,712.77 L337.0,710.02 L337.5,707.20 L338.0,704.31 L338.5,701.33 L339.0,698.28 L339.5,695.15 L340.0,691.94 L340.5,688.66 L341.0,685.31 L341.5,681.90 L342.0,678.44 L342.5,674.93 L343.0,671.39 L343.5,667.83 L344.0,664.27 L344.5,660.73 L345.0,657.23 L345.5,653.77 L346.0,650.38 L346.5,647.06 L347.0,643.84 L347.5,640.70 L348.0,637.66 L348.5,634.72 L349.0,631.87 L349.5,629.10 L350.0,626.42 L350.5,623.80 L351.0,621.25 L351.5,618.75 L352.0,616.30 L352.5,613.89 L353.0,611.51 L353.5,609.16 L354.0,606.84 L354.5,604.54 L355.0,602.26 L355.5,600.02 L356.0,597.79 L356.5,595.61 L357.0,593.46 L357.5,591.35 L358.0,589.29 L358.5,587.28 L359.0,585.32 L359.5,583.42 L360.0,581.58 L360.5,579.80 L361.0,578.08 L361.5,576.42 L362.0,574.84 L362.5,573.32 L363.0,571.88 L363.5,570.51 L364.0,569.21 L364.5,568.00 L365.0,566.87 L365.5,565.83 L366.0,564.86 L366.5,563.99 L367.0,563.19 L367.5,562.49 L368.0,561.86 L368.5,561.32 L369.0,560.86 L369.5,560.49 L370.0,560.20 L370.5,560.00 L371.0,559.89 L371.5,559.87 L372.0,559.95 L372.5,560.12 L373.0,560.38 L373.5,560.73 L374.0,561.18 L374.5,561.72 L375.0,562.36 L375.5,563.08 L376.0,563.91 L376.5,564.84 L377.0,565.86 L377.5,566.99 L378.0,568.23 L378.5,569.58 L379.0,571.03 L379.5,572.58 L380.0,574.24 L380.5,575.99 L381.0,577.82 L381.5,579.74 L382.0,581.74 L382.5,583.79 L383.0,585.91 L383.5,588.09 L384.0,590.32 L384.5,592.59 L385.0,594.92 L385.5,597.29 L386.0,599.70 L386.5,602.15 L387.0,604.64 L387.5,607.18 L388.0,609.74 L388.5,612.34 L389.0,614.98 L389.5,617.64 L390.0,620.33 L390.5,623.05 L391.0,625.80 L391.5,628.57 L392.0,631.36 L392.5,634.18 L393.0,637.02 L393.5,639.89 L394.0,642.77 L394.5,645.67 L395.0,648.59 L395.5,651.52 L396.0,654.47 L396.5,657.44 L397.0,660.41 L397.5,663.38 L398.0,666.36 L398.5,669.33 L399.0,672.29 L399.5,675.22 L400.0,678.13 L400.5,681.01 L401.0,683.85 L401.5,686.64 L402.0,689.38 L402.5,692.06 L403.0,694.68 L403.5,697.24 L404.0,699.74 L404.5,702.17 L405.0,704.53 L405.5,706.83 L406.0,709.05 L406.5,711.20 L407.0,713.28 L407.5,715.29 L408.0,717.23 L408.5,719.10 L409.0,720.91 L409.5,722.66 L410.0,724.36 L410.5,726.02 L411.0,727.66 L411.5,729.27 L412.0,730.87 L412.5,732.47 L413.0,734.06 L413.5,735.65 L414.0,737.23 L414.5,738.80 L415.0,740.34 L415.5,741.86 L416.0,743.33 L416.5,744.74 L417.0,746.10 L417.5,747.40 L418.0,748.63 L418.5,749.79 L419.0,750.89 L419.5,751.93 L420.0,752.92 L420.5,753.86 L421.0,754.76 L421.5,755.62 L422.0,756.45 L422.5,757.26 L423.0,758.05 L423.5,758.82 L424.0,759.58 L424.5,760.32 L425.0,761.05 L425.5,761.77 L426.0,762.48 L426.5,763.18 L427.0,763.87 L427.5,764.55 L428.0,765.22 L428.5,765.88 L429.0,766.53 L429.5,767.17 L430.0,767.81 L430.5,768.44 L431.0,769.06 L431.5,769.68 L432.0,770.29 L432.5,770.89 L433.0,771.49 L433.5,772.08 L434.0,772.66 L434.5,773.24 L435.0,773.81 L435.5,774.37 L436.0,774.93 L436.5,775.47 L437.0,776.02 L437.5,776.55 L438.0,777.07 L438.5,777.59 L439.0,778.10 L439.5,778.60 L440.0,779.10 L440.5,779.58 L441.0,780.06 L441.5,780.53 L442.0,780.99 L442.5,781.45 L443.0,781.89 L443.5,782.32 L444.0,782.75 L444.5,783.16 L445.0,783.57 L445.5,783.96 L446.0,784.35 L446.5,784.73 L447.0,785.09 L447.5,785.45 L448.0,785.79 L448.5,786.13 L449.0,786.45 L449.5,786.76 L450.0,787.06 L450.5,787.35 L451.0,787.63 L451.5,787.89 L452.0,788.13 L452.5,788.37 L453.0,788.59 L453.5,788.79 L454.0,788.99 L454.5,789.17 L455.0,789.34 L455.5,789.50 L456.0,789.66 L456.5,789.80 L457.0,789.93 L457.5,790.06 L458.0,790.17 L458.5,790.29 L459.0,790.39 L459.5,790.49 L460.0,790.58 L460.5,790.67 L461.0,790.75 L461.5,790.83 L462.0,790.90 L462.5,790.97 L463.0,791.04 L463.5,791.10 L464.0,791.16 L464.5,791.21 L465.0,791.26 L465.5,791.31 L466.0,791.36 L466.5,791.40 L467.0,791.44 L467.5,791.48 L468.0,791.52 L468.5,791.55 L469.0,791.58 L469.5,791.61 L470.0,791.64 L470.5,791.67 L471.0,791.70 L471.5,791.73 L472.0,791.75 L472.5,791.78 L473.0,791.80 L473.5,791.82 L474.0,791.84 L474.5,791.86 L475.0,791.88 L475.5,791.90 L476.0,791.91 L476.5,791.93 L477.0,791.94 L477.5,791.95 L478.0,791.96 L478.5,791.97 L479.0,791.98 L479.5,791.98 L480.0,791.99 L480.5,791.99 L481.0,791.99 L481.5,792.00 L482.0,792.00 L482.5,792.00 L483.0,792.00 L483.5,792.00 L484.0,792.00 L484.5,792.00 L485.0,792.00 L485.5,792.00 L486.0,792.00 L486.5,792.00 L487.0,792.00 L487.5,792.00 L488.0,792.00 L488.5,792.00 L489.0,792.00 L489.5,792.00 L490.0,792.00 L490.5,792.00 L491.0,792.00 L491.5,792.00 L492.0,792.00 L492.5,792.00 L493.0,792.00 L493.5,792.00 L494.0,792.00 L494.5,792.00 L495.0,792.00 L495.5,792.00 L496.0,792.00 L496.5,792.00 L497.0,792.00 L497.5,792.00 L498.0,792.00 L498.5,792.00 L499.0,792.00 L499.5,792.00 L500.0,792.00 L500.5,792.00 L501.0,792.00 L501.5,792.00 L502.0,792.00 L502.5,792.00 L503.0,792.00 L503.5,792.00 L504.0,792.00 L504.5,792.00 L505.0,792.00 L505.5,792.00 L506.0,792.00 L506.5,792.00 L507.0,792.00 L507.5,791.99 L508.0,791.99 L508.5,791.99 L509.0,791.98 L509.5,791.97 L510.0,791.95 L510.5,791.93 L511.0,791.91 L511.5,791.88 L512.0,791.84 L512.5,791.79 L513.0,791.74 L513.5,791.67 L514.0,791.59 L514.5,791.49 L515.0,791.38 L515.5,791.25 L516.0,791.10 L516.5,790.94 L517.0,790.75 L517.5,790.54 L518.0,790.30 L518.5,790.04 L519.0,789.76 L519.5,789.46 L520.0,789.13 L520.5,788.78 L521.0,788.41 L521.5,788.02 L522.0,787.61 L522.5,787.18 L523.0,786.74 L523.5,786.28 L524.0,785.80 L524.5,785.32 L525.0,784.82 L525.5,784.31 L526.0,783.80 L526.5,783.27 L527.0,782.75 L527.5,782.21 L528.0,781.68 L528.5,781.14 L529.0,780.61 L529.5,780.07 L530.0,779.54 L530.5,779.01 L531.0,778.49 L531.5,777.96 L532.0,777.45 L532.5,776.94 L533.0,776.43 L533.5,775.93 L534.0,775.43 L534.5,774.93 L535.0,774.43 L535.5,773.94 L536.0,773.44 L536.5,772.95 L537.0,772.45 L537.5,771.95 L538.0,771.45 L538.5,770.94 L539.0,770.43 L539.5,769.92 L540.0,769.41 L540.5,768.90 L541.0,768.39 L541.5,767.88 L542.0,767.37 L542.5,766.86 L543.0,766.35 L543.5,765.85 L544.0,765.35 L544.5,764.86 L545.0,764.37 L545.5,763.89 L546.0,763.42 L546.5,762.96 L547.0,762.51 L547.5,762.06 L548.0,761.63 L548.5,761.21 L549.0,760.80 L549.5,760.40 L550.0,760.01 L550.5,759.63 L551.0,759.26 L551.5,758.91 L552.0,758.56 L552.5,758.23 L553.0,757.90 L553.5,757.58 L554.0,757.27 L554.5,756.96 L555.0,756.66 L555.5,756.37 L556.0,756.08 L556.5,755.80 L557.0,755.52 L557.5,755.25 L558.0,754.98 L558.5,754.72 L559.0,754.46 L559.5,754.21 L560.0,753.95 L560.5,753.71 L561.0,753.47 L561.5,753.23 L562.0,752.99 L562.5,752.76 L563.0,752.53 L563.5,752.31 L564.0,752.09 L564.5,751.87 L565.0,751.66 L565.5,751.45 L566.0,751.24 L566.5,751.04 L567.0,750.84 L567.5,750.64 L568.0,750.44 L568.5,750.25 L569.0,750.06 L569.5,749.87 L570.0,749.69 L570.5,749.51 L571.0,749.33 L571.5,749.15 L572.0,748.98 L572.5,748.81 L573.0,748.64 L573.5,748.47 L574.0,748.30 L574.5,748.14 L575.0,747.98 L575.5,747.82 L576.0,747.66 L576.5,747.51 L577.0,747.36 L577.5,747.21 L578.0,747.06 L578.5,746.91 L579.0,746.77 L579.5,746.63 L580.0,746.48 L580.5,746.35 L581.0,746.21 L581.5,746.07 L582.0,745.94 L582.5,745.80 L583.0,745.67 L583.5,745.54 L584.0,745.42 L584.5,745.29 L585.0,745.16 L585.5,745.04 L586.0,744.92 L586.5,744.80 L587.0,744.68 L587.5,744.56 L588.0,744.45 L588.5,744.33 L589.0,744.22 L589.5,744.11 L590.0,744.00 L590.5,743.89 L591.0,743.78 L591.5,743.67 L592.0,743.57 L592.5,743.46 L593.0,743.36 L593.5,743.26 L594.0,743.16 L594.5,743.06 L595.0,742.96 L595.5,742.86 L596.0,742.76 L596.5,742.67 L597.0,742.57 L597.5,742.47 L598.0,742.38 L598.5,742.28 L599.0,742.19 L599.5,742.10 L600.0,742.00 L600.5,741.91 L601.0,741.82 L601.5,741.72 L602.0,741.63 L602.5,741.54 L603.0,741.45 L603.5,741.35 L604.0,741.26 L604.5,741.17 L605.0,741.07 L605.5,740.98 L606.0,740.89 L606.5,740.79 L607.0,740.70 L607.5,740.61 L608.0,740.51 L608.5,740.41 L609.0,740.32 L609.5,740.22 L610.0,740.12 L610.5,740.02 L611.0,739.92 L611.5,739.82 L612.0,739.72 L612.5,739.62 L613.0,739.51 L613.5,739.40 L614.0,739.29 L614.5,739.18 L615.0,739.07 L615.5,738.96 L616.0,738.85 L616.5,738.73 L617.0,738.62 L617.5,738.50 L618.0,738.38 L618.5,738.26 L619.0,738.14 L619.5,738.02 L620.0,737.90 L620.5,737.78 L621.0,737.67 L621.5,737.55 L622.0,737.43 L622.5,737.31 L623.0,737.19 L623.5,737.07 L624.0,736.96 L624.5,736.84 L625.0,736.73 L625.5,736.61 L626.0,736.50 L626.5,736.39 L627.0,736.28 L627.5,736.18 L628.0,736.07 L628.5,735.97 L629.0,735.87 L629.5,735.77 L630.0,735.68 L630.5,735.59 L631.0,735.50 L631.5,735.41 L632.0,735.33 L632.5,735.25 L633.0,735.17 L633.5,735.10 L634.0,735.03 L634.5,734.96 L635.0,734.90 L635.5,734.84 L636.0,734.78 L636.5,734.73 L637.0,734.68 L637.5,734.63 L638.0,734.59 L638.5,734.54 L639.0,734.50 L639.5,734.46 L640.0,734.42 L640.5,734.38 L641.0,734.35 L641.5,734.31 L642.0,734.28 L642.5,734.24 L643.0,734.21 L643.5,734.18 L644.0,734.15 L644.5,734.12 L645.0,734.09 L645.5,734.06 L646.0,734.03 L646.5,734.00 L647.0,733.98 L647.5,733.96 L648.0,733.93 L648.5,733.91 L649.0,733.89 L649.5,733.87 L650.0,733.86 L650.5,733.85 L651.0,733.84 L651.5,733.84 L652.0,733.85 L652.5,733.86 L653.0,733.89 L653.5,733.93 L654.0,733.99 L654.5,734.07 L655.0,734.17 L655.5,734.29 L656.0,734.44 L656.5,734.62 L657.0,734.82 L657.5,735.05 L658.0,735.30 L658.5,735.58 L659.0,735.88 L659.5,736.19 L660.0,736.52 L660.5,736.86 L661.0,737.21 L661.5,737.56 L662.0,737.91 L662.5,738.27 L663.0,738.62 L663.5,738.98 L664.0,739.33 L664.5,739.69 L665.0,740.04 L665.5,740.39 L666.0,740.75 L666.5,741.10 L667.0,741.46 L667.5,741.81 L668.0,742.17 L668.5,742.53 L669.0,742.90 L669.5,743.26 L670.0,743.62 L670.5,743.99 L671.0,744.36 L671.5,744.72 L672.0,745.09 L672.5,745.45 L673.0,745.81 L673.5,746.17 L674.0,746.53 L674.5,746.89 L675.0,747.24 L675.5,747.59 L676.0,747.94 L676.5,748.28 L677.0,748.62 L677.5,748.96 L678.0,749.29 L678.5,749.62 L679.0,749.94 L679.5,750.26 L680.0,750.59 L680.5,750.91 L681.0,751.23 L681.5,751.55 L682.0,751.87 L682.5,752.19 L683.0,752.51 L683.5,752.83 L684.0,753.15 L684.5,753.47 L685.0,753.79 L685.5,754.10 L686.0,754.41 L686.5,754.71 L687.0,755.01 L687.5,755.29 L688.0,755.56 L688.5,755.83 L689.0,756.07 L689.5,756.30 L690.0,756.52 L690.5,756.72 L691.0,756.89 L691.5,757.05 L692.0,757.19 L692.5,757.31 L693.0,757.41 L693.5,757.49 L694.0,757.56 L694.5,757.61 L695.0,757.64 L695.5,757.67 L696.0,757.68 L696.5,757.68 L697.0,757.68 L697.5,757.66 L698.0,757.64 L698.5,757.62 L699.0,757.59 L699.5,757.56 L700.0,757.53 L700.5,757.50 L701.0,757.46 L701.5,757.42 L702.0,757.38 L702.5,757.34 L703.0,757.29 L703.5,757.25 L704.0,757.20 L704.5,757.16 L705.0,757.11 L705.5,757.05 L706.0,757.00 L706.5,756.95 L707.0,756.89 L707.5,756.83 L708.0,756.76 L708.5,756.70 L709.0,756.63 L709.5,756.55 L710.0,756.48 L710.5,756.40 L711.0,756.32 L711.5,756.23 L712.0,756.14 L712.5,756.05 L713.0,755.96 L713.5,755.87 L714.0,755.77 L714.5,755.67 L715.0,755.58 L715.5,755.48 L716.0,755.38 L716.5,755.28 L717.0,755.18 L717.5,755.08 L718.0,754.98 L718.5,754.88 L719.0,754.78 L719.5,754.69 L720.0,754.60 L720.5,754.50 L721.0,754.41 L721.5,754.32 L722.0,754.24 L722.5,754.16 L723.0,754.07 L723.5,754.00 L724.0,753.92 L724.5,753.84 L725.0,753.77 L725.5,753.70 L726.0,753.63 L726.5,753.56 L727.0,753.49 L727.5,753.42 L728.0,753.36 L728.5,753.29 L729.0,753.22 L729.5,753.16 L730.0,753.09 L730.5,753.03 L731.0,752.96 L731.5,752.90 L732.0,752.84 L732.5,752.77 L733.0,752.71 L733.5,752.65 L734.0,752.59 L734.5,752.54 L735.0,752.48 L735.5,752.43 L736.0,752.38 L736.5,752.33 L737.0,752.28 L737.5,752.24 L738.0,752.20 L738.5,752.16 L739.0,752.12 L739.5,752.09 L740.0,752.07 L740.5,752.04 L741.0,752.02 L741.5,752.01 L742.0,752.01 L742.5,752.01 L743.0,752.01 L743.5,752.03 L744.0,752.06 L744.5,752.10 L745.0,752.14 L745.5,752.20 L746.0,752.28 L746.5,752.36 L747.0,752.46 L747.5,752.58 L748.0,752.71 L748.5,752.85 L749.0,753.02 L749.5,753.20 L750.0,753.40 L750.5,753.62 L751.0,753.87 L751.5,754.13 L752.0,754.42 L752.5,754.73 L753.0,755.06 L753.5,755.42 L754.0,755.79 L754.5,756.18 L755.0,756.60 L755.5,757.03 L756.0,757.47 L756.5,757.94 L757.0,758.42 L757.5,758.92 L758.0,759.44 L758.5,759.97 L759.0,760.52 L759.5,761.08 L760.0,761.66 L760.5,762.25 L761.0,762.85 L761.5,763.46 L762.0,764.08 L762.5,764.70 L763.0,765.33 L763.5,765.97 L764.0,766.60 L764.5,767.23 L765.0,767.86 L765.5,768.49 L766.0,769.11 L766.5,769.72 L767.0,770.33 L767.5,770.92 L768.0,771.51 L768.5,772.09 L769.0,772.67 L769.5,773.24 L770.0,773.79 L770.5,774.35 L771.0,774.89 L771.5,775.44 L772.0,775.97 L772.5,776.51 L773.0,777.03 L773.5,777.56 L774.0,778.07 L774.5,778.59 L775.0,779.10 L775.5,779.60 L776.0,780.10 L776.5,780.59 L777.0,781.07 L777.5,781.55 L778.0,782.03 L778.5,782.50 L779.0,782.96 L779.5,783.42 L780.0,783.87 L780.5,784.32 L781.0,784.77 L781.5,785.21 L782.0,785.65 L782.5,786.09 L783.0,786.52 L783.5,786.94 L784.0,787.36 L784.5,787.76 L785.0,788.15 L785.5,788.53 L786.0,788.89 L786.5,789.23 L787.0,789.55 L787.5,789.84 L788.0,790.11 L788.5,790.35 L789.0,790.56 L789.5,790.75 L790.0,790.92 L790.5,791.07 L791.0,791.19 L791.5,791.30 L792.0,791.39 L792.5,791.47 L793.0,791.54 L793.5,791.60 L794.0,791.66 L794.5,791.71 L795.0,791.75 L795.5,791.79 L796.0,791.82 L796.5,791.85 L797.0,791.88 L797.5,791.90 L798.0,791.92 L798.5,791.94 L799.0,791.95 L799.5,791.96 L800.0,791.97 L800.5,791.98 L801.0,791.99 L801.5,791.99 L802.0,791.99 L802.5,792.00 L803.0,792.00 L803.5,792.00 L804.0,792.00 L804.5,792.00 L805.0,792.00 L805.5,792.00 L806.0,792.00 L806.5,792.00 L807.0,792.00 L807.5,792.00 L808.0,792.00 L808.5,792.00 L809.0,792.00 L809.5,792.00 L810.0,792.00 L810.5,792.00 L811.0,792.00 L811.5,792.00 L812.0,792.00 L812.5,792.00 L813.0,792.00 L813.5,792.00 L814.0,792.00 L814.5,792.00 L815.0,792.00 L815.5,792.00 L816.0,792.00 L816.5,792.00 L817.0,792.00 L817.5,792.00 L818.0,792.00 L818.5,792.00 L819.0,792.00 L819.5,792.00 L820.0,792.00 L820.5,792.00 L821.0,792.00 L821.5,792.00 L822.0,792.00 L822.5,792.00 L823.0,792.00 L823.5,792.00 L824.0,792.00 L824.5,792.00 L825.0,792.00 L825.5,792.00 L826.0,792.00 L826.5,792.00 L827.0,792.00 L827.5,792.00 L828.0,792.00 L828.5,792.00 L829.0,792.00 L829.5,792.00 L830.0,792.00 L830.5,792.00 L831.0,792.00 L831.5,792.00 L832.0,792.00 L832.5,792.00 L833.0,792.00 L833.5,792.00 L834.0,792.00 L834.5,792.00 L835.0,792.00 L835.5,792.00 L836.0,792.00 L836.5,792.00 L837.0,792.00 L837.5,792.00 L838.0,792.00 L838.5,792.00 L839.0,792.00 L839.5,792.00 L840.0,792.00 L840.5,792.00 L841.0,792.00 L841.5,792.00 L842.0,792.00 L842.5,792.00 L843.0,792.00 L843.5,792.00 L844.0,792.00 L844.5,792.00 L845.0,792.00 L845.5,792.00 L846.0,792.00 L846.5,792.00 L847.0,791.99 L847.5,791.99 L848.0,791.99 L848.5,791.98 L849.0,791.97 L849.5,791.96 L850.0,791.94 L850.5,791.92 L851.0,791.89 L851.5,791.86 L852.0,791.82 L852.5,791.78 L853.0,791.73 L853.5,791.67 L854.0,791.60 L854.5,791.53 L855.0,791.45 L855.5,791.36 L856.0,791.26 L856.5,791.16 L857.0,791.04 L857.5,790.92 L858.0,790.80 L858.5,790.66 L859.0,790.52 L859.5,790.37 L860.0,790.22 L860.5,790.06 L861.0,789.89 L861.5,789.72 L862.0,789.54 L862.5,789.35 L863.0,789.16 L863.5,788.96 L864.0,788.76 L864.5,788.55 L865.0,788.34 L865.5,788.11 L866.0,787.89 L866.5,787.65 L867.0,787.40 L867.5,787.15 L868.0,786.88 L868.5,786.59 L869.0,786.29 L869.5,785.97 L870.0,785.62 L870.5,785.24 L871.0,784.84 L871.5,784.40 L872.0,783.93 L872.5,783.42 L873.0,782.87 L873.5,782.28 L874.0,781.66 L874.5,781.00 L875.0,780.30 L875.5,779.57 L876.0,778.81 L876.5,778.02 L877.0,777.19 L877.5,776.35 L878.0,775.48 L878.5,774.58 L879.0,773.67 L879.5,772.74 L880.0,771.80 L880.5,770.85 L881.0,769.89 L881.5,768.91 L882.0,767.94 L882.5,766.96 L883.0,765.97 L883.5,764.98 L884.0,763.99 L884.5,763.00 L885.0,762.01 L885.5,761.02 L886.0,760.02 L886.5,759.02 L887.0,758.01 L887.5,756.99 L888.0,755.97 L888.5,754.93 L889.0,753.88 L889.5,752.81 L890.0,751.73 L890.5,750.63 L891.0,749.50 L891.5,748.35 L892.0,747.18 L892.5,745.98 L893.0,744.75 L893.5,743.48 L894.0,742.18 L894.5,740.84 L895.0,739.46 L895.5,738.03 L896.0,736.55 L896.5,735.01 L897.0,733.42 L897.5,731.75 L898.0,730.01 L898.5,728.19 L899.0,726.29 L899.5,724.29 L900.0,722.20 L900.5,720.00 L901.0,717.71 L901.5,715.31 L902.0,712.81 L902.5,710.22 L903.0,707.52 L903.5,704.72 L904.0,701.82 L904.5,698.83 L905.0,695.73 L905.5,692.54 L906.0,689.26 L906.5,685.88 L907.0,682.42 L907.5,678.87 L908.0,675.25 L908.5,671.56 L909.0,667.83 L909.5,664.06 L910.0,660.27 L910.5,656.48 L911.0,652.71 L911.5,648.97 L912.0,645.27 L912.5,641.63 L913.0,638.05 L913.5,634.54 L914.0,631.09 L914.5,627.72 L915.0,624.42 L915.5,621.19 L916.0,618.02 L916.5,614.92 L917.0,611.89 L917.5,608.93 L918.0,606.05 L918.5,603.24 L919.0,600.53 L919.5,597.91 L920.0,595.39 L920.5,592.98 L921.0,590.69 L921.5,588.51 L922.0,586.45 L922.5,584.52 L923.0,582.71 L923.5,581.01 L924.0,579.42 L924.5,577.94 L925.0,576.56 L925.5,575.27 L926.0,574.07 L926.5,572.96 L927.0,571.92 L927.5,570.98 L928.0,570.11 L928.5,569.33 L929.0,568.65 L929.5,568.06 L930.0,567.56 L930.5,567.18 L931.0,566.90 L931.5,566.73 L932.0,566.67 L932.5,566.73 L933.0,566.90 L933.5,567.18 L934.0,567.57 L934.5,568.06 L935.0,568.65 L935.5,569.34 L936.0,570.11 L936.5,570.98 L937.0,571.93 L937.5,572.97 L938.0,574.09 L938.5,575.29 L939.0,576.59 L939.5,577.99 L940.0,579.48 L940.5,581.09 L941.0,582.81 L941.5,584.65 L942.0,586.61 L942.5,588.69 L943.0,590.89 L943.5,593.22 L944.0,595.65 L944.5,598.19 L945.0,600.82 L945.5,603.54 L946.0,606.33 L946.5,609.19 L947.0,612.11 L947.5,615.08 L948.0,618.09 L948.5,621.14 L949.0,624.24 L949.5,627.37 L950.0,630.54 L950.5,633.75 L951.0,637.00 L951.5,640.29 L952.0,643.62 L952.5,646.98 L953.0,650.37 L953.5,653.78 L954.0,657.20 L954.5,660.62 L955.0,664.03 L955.5,667.42 L956.0,670.78 L956.5,674.09 L957.0,677.34 L957.5,680.54 L958.0,683.67 L958.5,686.72 L959.0,689.70 L959.5,692.60 L960.0,695.43 L960.5,698.18 L961.0,700.86 L961.5,703.47 L962.0,706.00 L962.5,708.46 L963.0,710.86 L963.5,713.18 L964.0,715.43 L964.5,717.62 L965.0,719.73 L965.5,721.77 L966.0,723.74 L966.5,725.65 L967.0,727.49 L967.5,729.28 L968.0,731.00 L968.5,732.67 L969.0,734.29 L969.5,735.87 L970.0,737.40 L970.5,738.89 L971.0,740.34 L971.5,741.76 L972.0,743.14 L972.5,744.50 L973.0,745.82 L973.5,747.11 L974.0,748.38 L974.5,749.62 L975.0,750.84 L975.5,752.03 L976.0,753.20 L976.5,754.35 L977.0,755.47 L977.5,756.58 L978.0,757.68 L978.5,758.75 L979.0,759.82 L979.5,760.87 L980.0,761.91 L980.5,762.94 L981.0,763.97 L981.5,764.99 L982.0,766.00 L982.5,767.00 L983.0,768.00 L983.5,768.99 L984.0,769.97 L984.5,770.93 L985.0,771.89 L985.5,772.84 L986.0,773.76 L986.5,774.67 L987.0,775.56 L987.5,776.43 L988.0,777.27 L988.5,778.09 L989.0,778.88 L989.5,779.64 L990.0,780.36 L990.5,781.05 L991.0,781.70 L991.5,782.32 L992.0,782.90 L992.5,783.44 L993.0,783.95 L993.5,784.42 L994.0,784.85 L994.5,785.25 L995.0,785.63 L995.5,785.97 L996.0,786.30 L996.5,786.60 L997.0,786.88 L997.5,787.15 L998.0,787.40 L998.5,787.65 L999.0,787.89 L999.5,788.12 L1000.0,788.34 L1000.5,788.55 L1001.0,788.76 L1001.5,788.96 L1002.0,789.16 L1002.5,789.35 L1003.0,789.54 L1003.5,789.72 L1004.0,789.89 L1004.5,790.06 L1005.0,790.22 L1005.5,790.37 L1006.0,790.52 L1006.5,790.66 L1007.0,790.80 L1007.5,790.92 L1008.0,791.04 L1008.5,791.16 L1009.0,791.26 L1009.5,791.36 L1010.0,791.45 L1010.5,791.53 L1011.0,791.60 L1011.5,791.67 L1012.0,791.73 L1012.5,791.78 L1013.0,791.82 L1013.5,791.86 L1014.0,791.89 L1014.5,791.92 L1015.0,791.94 L1015.5,791.96 L1016.0,791.97 L1016.5,791.98 L1017.0,791.99 L1017.5,791.99 L1018.0,791.99 L1018.5,792.00 L1019.0,792.00 L1019.5,792.00 L1020.0,792.00 L1020.5,792.00 L1021.0,792.00 L1021.5,792.00 L1022.0,792.00 L1022.5,792.00 L1023.0,792.00 L1023.5,792.00 L1024.0,792.00 L1024.5,792.00 L1025.0,792.00 L1025.5,792.00 L1026.0,792.00 L1026.5,792.00 L1027.0,792.00 L1027.5,792.00 L1028.0,792.00 L1028.5,792.00 L1029.0,792.00 L1029.5,792.00 L1030.0,792.00 L1030.5,792.00 L1031.0,792.00 L1031.5,792.00 L1032.0,792.00 L1032.5,792.00 L1033.0,792.00 L1033.5,792.00 L1034.0,792.00 L1034.5,792.00 L1035.0,792.00 L1035.5,792.00 L1036.0,792.00 L1036.5,792.00 L1037.0,792.00 L1037.5,792.00 L1038.0,792.00 L1038.5,792.00 L1039.0,792.00 L1039.5,792.00 L1040.0,792.00 L1040.5,792.00 L1041.0,792.00 L1041.5,792.00 L1042.0,792.00 L1042.5,792.00 L1043.0,792.00 L1043.5,792.00 L1044.0,792.00 L1044.5,792.00 L1045.0,792.00 L1045.5,792.00 L1046.0,792.00 L1046.5,792.00 L1047.0,792.00 L1047.5,792.00 L1048.0,792.00 L1048.5,792.00 L1049.0,792.00 L1049.5,792.00 L1050.0,792.00 L1050.5,792.00 L1051.0,792.00 L1051.5,792.00 L1052.0,792.00 L1052.5,792.00 L1053.0,792.00 L1053.5,792.00 L1054.0,792.00 L1054.5,792.00 L1055.0,792.00 L1055.5,792.00 L1056.0,792.00 L1056.5,792.00 L1057.0,792.00 L1057.5,792.00 L1058.0,792.00 L1058.5,792.00 L1059.0,792.00 L1059.5,792.00 L1060.0,792.00 L1060.5,792.00 L1061.0,792.00 L1061.5,792.00 L1062.0,792.00 L1062.5,792.00 L1063.0,792.00 L1063.5,792.00 L1064.0,792.00 L1064.5,792.00 L1065.0,792.00 L1065.5,792.00 L1066.0,792.00 L1066.5,792.00 L1067.0,792.00 L1067.5,792.00 L1068.0,792.00 L1068.5,792.00 L1069.0,792.00 L1069.5,792.00 L1070.0,792.00 L1070.5,792.00 L1071.0,792.00 L1071.5,792.00 L1072.0,792.00 L1072.5,792.00 L1073.0,792.00 L1073.5,792.00 L1074.0,792.00 L1074.5,792.00 L1075.0,792.00 L1075.5,792.00 L1076.0,792.00 L1076.5,792.00 L1077.0,792.00 L1077.5,792.00 L1078.0,792.00 L1078.5,792.00 L1079.0,792.00 L1079.5,792.00 L1080.0,792.00 L1080.5,792.00 L1081.0,792.00 L1081.5,792.00 L1082.0,792.00 L1082.5,792.00 L1083.0,792.00 L1083.5,792.00 L1084.0,792.00 L1084.5,792.00 L1085.0,792.00 L1085.5,792.00 L1086.0,792.00 L1086.5,792.00 L1087.0,792.00 L1087.5,792.00 L1088.0,792.00 L1088.5,792.00 L1089.0,792.00 L1089.5,792.00 L1090.0,792.00 L1090.5,792.00 L1091.0,792.00 L1091.5,792.00 L1092.0,792.00 L1092.5,792.00 L1093.0,792.00 L1093.5,792.00 L1094.0,792.00 L1094.5,792.00 L1095.0,792.00 L1095.5,792.00 L1096.0,792.00 L1096.5,792.00 L1097.0,792.00 L1097.5,792.00 L1098.0,792.00 L1098.5,792.00 L1099.0,792.00 L1099.5,792.00 L1100.0,792.00 L1100.5,792.00 L1101.0,792.00 L1101.5,792.00 L1102.0,792.00 L1102.5,792.00 L1103.0,792.00 L1103.5,792.00 L1104.0,792.00 L1104.5,792.00 L1105.0,792.00 L1105.5,792.00 L1106.0,792.00 L1106.5,792.00 L1107.0,792.00 L1107.5,792.00 L1108.0,792.00 L1108.5,792.00 L1109.0,792.00 L1109.5,792.00 L1110.0,792.00 L1110.5,792.00 L1111.0,792.00 L1111.5,792.00 L1112.0,792.00 L1112.5,792.00 L1113.0,792.00 L1113.5,792.00 L1114.0,792.00 L1114.5,792.00 L1115.0,792.00 L1115.5,792.00 L1116.0,792.00 L1116.5,792.00 L1117.0,792.00 L1117.5,792.00 L1118.0,792.00 L1118.5,792.00 L1119.0,792.00 L1119.5,792.00 L1120.0,792.00 L1120.5,792.00 L1121.0,792.00 L1121.5,792.00 L1122.0,792.00 L1122.5,792.00 L1123.0,792.00 L1123.5,792.00 L1124.0,792.00 L1124.5,792.00 L1125.0,792.00 L1125.5,792.00 L1126.0,792.00 L1126.5,792.00 L1127.0,792.00 L1127.5,792.00 L1128.0,792.00 L1128.5,792.00 L1129.0,792.00 L1129.5,792.00 L1130.0,792.00 L1130.5,792.00 L1131.0,792.00 L1131.5,792.00 L1132.0,792.00 L1132.5,792.00 L1133.0,792.00 L1133.5,792.00 L1134.0,792.00 L1134.5,792.00 L1135.0,792.00 L1135.5,792.00 L1136.0,792.00 L1136.5,792.00 L1137.0,792.00 L1137.5,792.00 L1138.0,792.00 L1138.5,792.00 L1139.0,792.00 L1139.5,792.00 L1140.0,792.00 L1140.5,792.00 L1141.0,792.00 L1141.5,792.00 L1142.0,792.00 L1142.5,792.00 L1143.0,792.00 L1143.5,792.00 L1144.0,792.00 L1144.5,792.00 L1145.0,792.00 L1145.5,792.00 L1146.0,792.00 L1146.5,792.00 L1147.0,792.00 L1147.5,792.00 L1148.0,792.00 L1148.5,792.00 L1149.0,792.00 L1149.5,792.00 L1150.0,792.00 L1150.5,792.00 L1151.0,792.00 L1151.5,792.00 L1152.0,792.00 L1152.5,792.00 L1153.0,792.00 L1153.5,792.00 L1154.0,792.00 L1154.5,792.00 L1155.0,792.00 L1155.5,792.00 L1156.0,792.00 L1156.5,792.00 L1157.0,792.00 L1157.5,792.00 L1158.0,792.00 L1158.5,792.00 L1159.0,792.00 L1159.5,792.00 L1160.0,792.00 L1160.5,792.00 L1161.0,792.00 L1161.5,792.00 L1162.0,792.00 L1162.5,792.00 L1163.0,792.00 L1163.5,792.00 L1164.0,792.00 L1164.5,792.00 L1165.0,792.00 L1165.5,792.00 L1166.0,792.00 L1166.5,792.00 L1167.0,792.00 L1167.5,792.00 L1168.0,792.00 L1168.5,792.00 L1169.0,792.00 L1169.5,792.00 L1170.0,792.00 L1170.5,792.00 L1171.0,792.00 L1171.5,792.00 L1172.0,792.00 L1172.5,792.00 L1173.0,792.00 L1173.5,792.00 L1174.0,792.00 L1174.5,792.00 L1175.0,792.00 L1175.5,792.00 L1176.0,792.00 L1176.5,792.00 L1177.0,792.00" fill="none" stroke="#e2533c" stroke-width="2" stroke-linejoin="round" stroke-linecap="round"/>
</svg>

<div class="txt" style="left:93px;top:425.8px;font-size:25.3px;color:#2d3440;z-index:2;">Total Searches</div>
<svg class="abs" style="left:0;top:0;z-index:2" width="1280" height="1180">
  <path d="M92,472.3 L96,467.6 L100,472.3 Z" fill="#28bf7a" stroke="#28bf7a" stroke-width="2" stroke-linejoin="round"/>
  <rect x="107" y="461" width="288" height="18" rx="9" fill="#bfedd8"/>
  <rect x="131" y="827.5" width="1000" height="10.5" rx="5.25" fill="#e7e8ef"/>
</svg>
<div class="ylab" style="left:68.5px;top:548.4px;z-index:2">1107</div>
<div class="ylab" style="left:68.5px;top:655.2px;z-index:2">600</div>
<div class="ylab" style="left:68.5px;top:718.2px;z-index:2">300</div>
<div class="ylab" style="left:68.5px;top:781.2px;z-index:2">0</div>
<div style="position:absolute;left:0;top:0;z-index:2">
<div class="xlab" style="left:117.5px;top:804.7px">18</div>
<div class="xlab" style="left:164px;top:804.7px">19</div>
<div class="xlab" style="left:211px;top:804.7px">20</div>
<div class="xlab" style="left:258px;top:804.7px">21</div>
<div class="xlab" style="left:304px;top:804.7px">22</div>
<div class="xlab" style="left:351px;top:804.7px">23</div>
<div class="xlab" style="left:398px;top:804.7px">24</div>
<div class="xlab" style="left:445px;top:804.7px">25</div>
<div class="xlab" style="left:491px;top:804.7px">26</div>
<div class="xlab" style="left:538px;top:804.7px">27</div>
<div class="xlab" style="left:585px;top:804.7px">28</div>
<div class="xlab" style="left:632px;top:804.7px">29</div>
<div class="xlab" style="left:678px;top:804.7px">30</div>
<div class="xlab" style="left:725px;top:804.7px">01</div>
<div class="xlab" style="left:772px;top:804.7px">02</div>
<div class="xlab" style="left:818px;top:804.7px">03</div>
</div>

<!-- stat card 1 -->
<div class="abs stat" style="left:827px;top:242px;">
  <svg class="abs" style="left:0;top:0" width="402" height="206" viewBox="827 242 402 206">
    <circle cx="876" cy="296" r="19" fill="#e5f3fd"/>
    <circle cx="876" cy="296" r="7.8" fill="#0b96ef"/>
    <path d="M875.9,291.4 L876.1,295.9 L878.5,298.2" fill="none" stroke="#fff" stroke-width="1.9" stroke-linecap="round" stroke-linejoin="round"/>
    <path d="M867,403.3 L874.6,403.3 L870.8,407.9 Z" fill="#e53b3b" stroke="#e53b3b" stroke-width="2" stroke-linejoin="round"/>
    <rect x="884" y="399.5" width="174" height="15.3" rx="7.6" fill="#f8c5c7"/>
  </svg>
  <div class="txt" style="left:30.5px;top:83.6px;font-size:18.2px;color:#3b4350;">Average Time to Find Results</div>
  <div class="txt" style="left:29.5px;top:111.4px;font-size:28.5px;color:#262d3a;letter-spacing:0.75px;">00:01:18</div>
</div>

<!-- stat card 2 -->
<div class="abs stat" style="left:828px;top:486px;">
  <svg class="abs" style="left:0;top:0" width="402" height="206" viewBox="828 486 402 206">
    <circle cx="876.3" cy="537" r="18.8" fill="#e5f3fd"/>
    <circle cx="875.3" cy="534.8" r="5.6" fill="none" stroke="#1a88d6" stroke-width="2"/>
    <line x1="879.3" y1="538.9" x2="884.3" y2="543.6" stroke="#1a88d6" stroke-width="2.1" stroke-linecap="round"/>
    <path d="M866.6,651.7 L874.4,651.7 L870.5,647.2 Z" fill="#28bf7a" stroke="#28bf7a" stroke-width="2" stroke-linejoin="round"/>
    <rect x="884.5" y="643" width="173.5" height="15.3" rx="7.6" fill="#bfedd8"/>
  </svg>
  <div class="txt" style="left:28px;top:82.3px;font-size:18.2px;color:#3b4350;">Total Searches</div>
  <div class="txt" style="left:26.5px;top:109.3px;font-size:30px;color:#262d3a;letter-spacing:0.5px;">1,911</div>
</div>

<!-- stat card 3 -->
<div class="abs stat" style="left:829px;top:729px;">
  <svg class="abs" style="left:0;top:0" width="402" height="206" viewBox="829 729 402 206">
    <circle cx="880" cy="776.8" r="18.6" fill="#e5f3fd"/>
    <circle cx="880" cy="776.4" r="8" fill="#0b96ef"/>
    <path d="M875.6,776.6 L878.5,779.4 L884.1,773.8" fill="none" stroke="#fff" stroke-width="2.1" stroke-linecap="round" stroke-linejoin="round"/>
    <path d="M867.6,890.3 L875.6,890.3 L871.6,894.8 Z" fill="#e53b3b" stroke="#e53b3b" stroke-width="2" stroke-linejoin="round"/>
    <rect x="885.4" y="886.8" width="173.4" height="15" rx="7.5" fill="#f8c5c7"/>
  </svg>
  <div class="txt" style="left:29px;top:82.8px;font-size:18.2px;color:#3b4350;">Success Percentage</div>
  <div class="txt" style="left:29.5px;top:111.4px;font-size:28.5px;color:#262d3a;letter-spacing:0.5px;">6.66%</div>
</div>

</body></html>
